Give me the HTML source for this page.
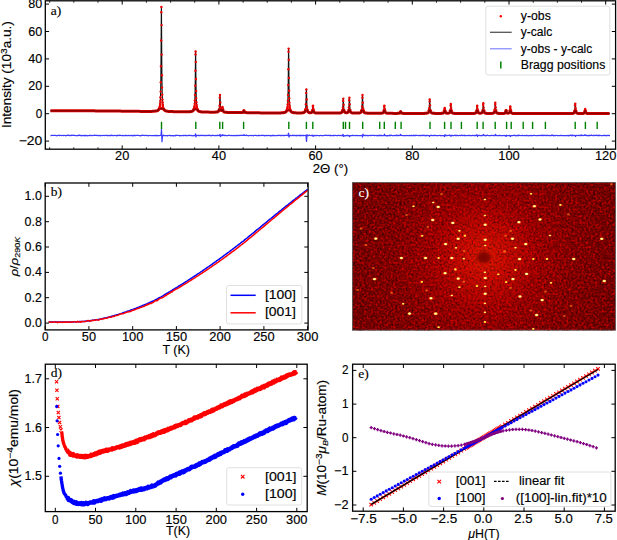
<!DOCTYPE html><html><head><meta charset="utf-8"><style>html,body{margin:0;padding:0;background:#fff;width:617px;height:540px;overflow:hidden}svg{display:block}</style></head><body><svg width="617" height="540" viewBox="0 0 617 540">
<rect width="617" height="540" fill="#fff"/>
<path d="M50.5 110.7 L51.5 110.7 L52.5 110.7 L53.5 110.7 L54.5 110.7 L55.5 110.7 L56.5 110.7 L57.5 110.7 L58.5 110.7 L59.5 110.7 L60.5 110.7 L61.5 110.7 L62.5 110.7 L63.5 110.7 L64.5 110.7 L65.5 110.7 L66.5 110.7 L67.5 110.7 L68.5 110.7 L69.5 110.7 L70.5 110.7 L71.5 110.8 L72.5 110.8 L73.5 110.8 L74.5 110.8 L75.5 110.8 L76.5 110.8 L77.5 110.8 L78.5 110.8 L79.5 110.8 L80.5 110.8 L81.5 110.8 L82.5 110.8 L83.5 110.8 L84.5 110.8 L85.5 110.8 L86.5 110.8 L87.5 110.8 L88.5 110.8 L89.5 110.8 L90.5 110.8 L91.5 110.8 L92.5 110.8 L93.5 110.8 L94.5 110.8 L95.5 110.9 L96.5 110.9 L97.5 110.9 L98.5 110.9 L99.5 110.9 L100.5 110.9 L101.5 110.9 L102.5 110.9 L103.5 111.0 L104.5 111.0 L105.5 111.0 L106.5 111.0 L107.5 111.0 L108.5 111.0 L109.5 111.0 L110.5 111.0 L111.5 111.0 L112.5 111.1 L113.5 111.1 L114.5 111.1 L115.5 111.1 L116.5 111.1 L117.5 111.1 L118.5 111.1 L119.5 111.1 L120.5 111.1 L121.5 111.2 L122.5 111.2 L123.5 111.2 L124.5 111.2 L125.5 111.2 L126.5 111.2 L127.5 111.2 L128.5 111.2 L129.5 111.2 L130.5 111.3 L131.5 111.3 L132.5 111.3 L133.5 111.3 L134.5 111.3 L135.5 111.3 L136.5 111.3 L137.5 111.3 L138.5 111.3 L139.5 111.3 L140.5 111.4 L141.5 111.4 L142.5 111.4 L143.5 111.4 L144.5 111.4 L145.5 111.4 L146.5 111.4 L147.5 111.4 L148.5 111.4 L149.5 111.4 L150.5 111.4 L151.5 111.4 L152.5 111.3 L153.5 111.3 L154.5 111.2 L155.4 111.1 L155.5 111.1 L155.6 111.1 L155.7 111.1 L155.8 111.1 L155.9 111.1 L156.0 111.1 L156.1 111.0 L156.2 111.0 L156.3 111.0 L156.4 111.0 L156.5 110.9 L156.6 110.9 L156.7 110.9 L156.8 110.9 L156.9 110.8 L157.0 110.8 L157.1 110.8 L157.2 110.7 L157.3 110.7 L157.4 110.6 L157.5 110.6 L157.6 110.6 L157.7 110.5 L157.8 110.4 L157.9 110.4 L158.0 110.3 L158.1 110.2 L158.2 110.1 L158.3 110.0 L158.4 109.9 L158.5 109.8 L158.6 109.7 L158.7 109.6 L158.8 109.4 L158.9 109.2 L159.0 109.0 L159.1 108.8 L159.2 108.6 L159.3 108.3 L159.4 108.0 L159.5 107.6 L159.6 107.1 L159.7 106.6 L159.8 106.0 L159.9 105.3 L160.0 104.4 L160.1 103.4 L160.2 102.1 L160.3 100.5 L160.4 98.4 L160.5 95.8 L160.6 92.4 L160.7 87.8 L160.8 81.7 L160.9 73.3 L161.0 62.0 L161.1 47.2 L161.2 29.7 L161.3 13.8 L161.4 7.0 L161.5 13.8 L161.6 29.7 L161.7 47.2 L161.8 62.0 L161.9 73.3 L162.0 81.7 L162.1 87.8 L162.2 92.4 L162.3 95.8 L162.4 98.4 L162.5 100.5 L162.6 102.1 L162.7 103.4 L162.8 104.5 L162.9 105.3 L163.0 106.1 L163.1 106.7 L163.2 107.2 L163.3 107.6 L163.4 108.0 L163.5 108.3 L163.6 108.6 L163.7 108.9 L163.8 109.1 L163.9 109.3 L164.0 109.5 L164.1 109.6 L164.2 109.8 L164.3 109.9 L164.4 110.0 L164.5 110.1 L164.6 110.2 L164.7 110.3 L164.8 110.4 L164.9 110.5 L165.0 110.5 L165.1 110.6 L165.2 110.6 L165.3 110.7 L165.4 110.7 L165.5 110.8 L165.6 110.8 L165.7 110.9 L165.8 110.9 L165.9 110.9 L166.0 111.0 L166.1 111.0 L166.2 111.0 L166.3 111.1 L166.4 111.1 L166.5 111.1 L166.6 111.1 L166.7 111.2 L166.8 111.2 L166.9 111.2 L167.0 111.2 L167.1 111.2 L167.2 111.2 L167.3 111.3 L167.5 111.3 L168.5 111.4 L169.5 111.5 L170.5 111.5 L171.5 111.6 L172.5 111.6 L173.5 111.7 L174.5 111.7 L175.5 111.7 L176.5 111.7 L177.5 111.7 L178.5 111.8 L179.5 111.8 L180.5 111.8 L181.5 111.8 L182.5 111.8 L183.5 111.8 L184.5 111.8 L185.5 111.8 L186.5 111.8 L187.5 111.8 L188.5 111.8 L189.5 111.7 L189.6 111.7 L189.7 111.7 L189.8 111.7 L189.9 111.7 L190.0 111.7 L190.1 111.7 L190.2 111.7 L190.3 111.7 L190.4 111.6 L190.5 111.6 L190.6 111.6 L190.7 111.6 L190.8 111.6 L190.9 111.6 L191.0 111.6 L191.1 111.6 L191.2 111.5 L191.3 111.5 L191.4 111.5 L191.5 111.5 L191.6 111.4 L191.7 111.4 L191.8 111.4 L191.9 111.4 L192.0 111.3 L192.1 111.3 L192.2 111.2 L192.3 111.2 L192.4 111.2 L192.5 111.1 L192.6 111.0 L192.7 111.0 L192.8 110.9 L192.9 110.8 L193.0 110.7 L193.1 110.6 L193.2 110.5 L193.3 110.4 L193.4 110.3 L193.5 110.1 L193.6 109.9 L193.7 109.7 L193.8 109.4 L193.9 109.1 L194.0 108.8 L194.1 108.4 L194.2 107.9 L194.3 107.2 L194.4 106.5 L194.5 105.6 L194.6 104.4 L194.7 102.9 L194.8 100.9 L194.9 98.2 L195.0 94.7 L195.1 89.8 L195.2 83.3 L195.3 74.7 L195.4 64.5 L195.5 55.3 L195.6 51.4 L195.7 55.3 L195.8 64.5 L195.9 74.7 L196.0 83.3 L196.1 89.8 L196.2 94.7 L196.3 98.2 L196.4 100.9 L196.5 102.9 L196.6 104.4 L196.7 105.6 L196.8 106.5 L196.9 107.3 L197.0 107.9 L197.1 108.4 L197.2 108.8 L197.3 109.2 L197.4 109.5 L197.5 109.7 L197.6 110.0 L197.7 110.1 L197.8 110.3 L197.9 110.5 L198.0 110.6 L198.1 110.7 L198.2 110.8 L198.3 110.9 L198.4 111.0 L198.5 111.1 L198.6 111.1 L198.7 111.2 L198.8 111.2 L198.9 111.3 L199.0 111.3 L199.1 111.4 L199.2 111.4 L199.3 111.5 L199.4 111.5 L199.5 111.5 L199.6 111.5 L199.7 111.6 L199.8 111.6 L199.9 111.6 L200.0 111.6 L200.1 111.7 L200.2 111.7 L200.3 111.7 L200.4 111.7 L200.5 111.7 L200.6 111.8 L200.7 111.8 L200.8 111.8 L200.9 111.8 L201.0 111.8 L201.1 111.8 L201.2 111.8 L201.3 111.8 L201.4 111.9 L201.5 111.9 L202.5 111.9 L203.5 112.0 L204.5 112.0 L205.5 112.1 L206.5 112.1 L207.5 112.1 L208.5 112.1 L209.5 112.2 L210.5 112.2 L211.5 112.2 L212.5 112.2 L213.5 112.2 L214.0 112.2 L214.1 112.2 L214.2 112.2 L214.3 112.2 L214.4 112.2 L214.5 112.2 L214.6 112.2 L214.7 112.2 L214.8 112.2 L214.9 112.2 L215.0 112.2 L215.1 112.2 L215.2 112.2 L215.3 112.2 L215.4 112.1 L215.5 112.1 L215.6 112.1 L215.7 112.1 L215.8 112.1 L215.9 112.1 L216.0 112.1 L216.1 112.1 L216.2 112.1 L216.3 112.1 L216.4 112.1 L216.5 112.1 L216.6 112.1 L216.7 112.0 L216.8 112.0 L216.9 112.0 L217.0 112.0 L217.1 112.0 L217.2 112.0 L217.3 111.9 L217.4 111.9 L217.5 111.9 L217.6 111.9 L217.7 111.8 L217.8 111.8 L217.9 111.7 L218.0 111.7 L218.1 111.6 L218.2 111.5 L218.3 111.5 L218.4 111.3 L218.5 111.2 L218.6 111.1 L218.7 110.9 L218.8 110.7 L218.9 110.4 L219.0 110.1 L219.1 109.6 L219.2 109.1 L219.3 108.3 L219.4 107.3 L219.5 105.9 L219.6 104.0 L219.7 101.5 L219.8 98.6 L219.9 96.0 L220.0 94.9 L220.1 96.0 L220.2 98.6 L220.3 101.5 L220.4 103.9 L220.5 105.8 L220.6 107.2 L220.7 108.2 L220.8 108.9 L220.9 109.4 L221.0 109.8 L221.1 110.1 L221.2 110.4 L221.3 110.5 L221.4 110.6 L221.5 110.6 L221.6 110.6 L221.7 110.5 L221.8 110.4 L221.9 110.2 L222.0 109.8 L222.1 109.3 L222.2 108.5 L222.3 107.7 L222.4 106.9 L222.5 106.6 L222.6 107.0 L222.7 107.8 L222.8 108.7 L222.9 109.5 L223.0 110.1 L223.1 110.6 L223.2 110.9 L223.3 111.2 L223.4 111.4 L223.5 111.5 L223.6 111.6 L223.7 111.7 L223.8 111.8 L223.9 111.9 L224.0 111.9 L224.1 112.0 L224.2 112.0 L224.3 112.0 L224.4 112.1 L224.5 112.1 L224.6 112.1 L224.7 112.1 L224.8 112.2 L224.9 112.2 L225.0 112.2 L225.1 112.2 L225.2 112.2 L225.3 112.2 L225.4 112.2 L225.5 112.3 L225.6 112.3 L225.7 112.3 L225.8 112.3 L225.9 112.3 L226.0 112.3 L226.1 112.3 L226.2 112.3 L226.3 112.3 L226.4 112.3 L226.5 112.3 L226.6 112.3 L226.7 112.3 L226.8 112.3 L226.9 112.3 L227.0 112.4 L227.1 112.4 L227.2 112.4 L227.3 112.4 L227.4 112.4 L227.5 112.4 L227.6 112.4 L227.7 112.4 L227.8 112.4 L227.9 112.4 L228.0 112.4 L228.1 112.4 L228.2 112.4 L228.3 112.4 L228.4 112.4 L228.5 112.4 L229.5 112.4 L230.5 112.4 L231.5 112.5 L232.5 112.5 L233.5 112.5 L234.5 112.5 L235.5 112.5 L236.5 112.5 L237.5 112.6 L237.9 112.6 L238.0 112.6 L238.1 112.6 L238.2 112.6 L238.3 112.6 L238.4 112.6 L238.5 112.6 L238.6 112.6 L238.7 112.6 L238.8 112.6 L238.9 112.6 L239.0 112.6 L239.1 112.6 L239.2 112.6 L239.3 112.6 L239.4 112.6 L239.5 112.6 L239.6 112.6 L239.7 112.6 L239.8 112.6 L239.9 112.6 L240.0 112.6 L240.1 112.6 L240.2 112.6 L240.3 112.6 L240.4 112.6 L240.5 112.6 L240.6 112.6 L240.7 112.6 L240.8 112.6 L240.9 112.6 L241.0 112.6 L241.1 112.6 L241.2 112.6 L241.3 112.6 L241.4 112.6 L241.5 112.6 L241.6 112.6 L241.7 112.6 L241.8 112.6 L241.9 112.5 L242.0 112.5 L242.1 112.5 L242.2 112.5 L242.3 112.5 L242.4 112.5 L242.5 112.5 L242.6 112.5 L242.7 112.4 L242.8 112.4 L242.9 112.4 L243.0 112.3 L243.1 112.2 L243.2 112.1 L243.3 112.0 L243.4 111.9 L243.5 111.6 L243.6 111.3 L243.7 110.9 L243.8 110.6 L243.9 110.5 L244.0 110.6 L244.1 111.0 L244.2 111.3 L244.3 111.6 L244.4 111.9 L244.5 112.0 L244.6 112.2 L244.7 112.3 L244.8 112.3 L244.9 112.4 L245.0 112.4 L245.1 112.5 L245.2 112.5 L245.3 112.5 L245.4 112.5 L245.5 112.6 L245.6 112.6 L245.7 112.6 L245.8 112.6 L245.9 112.6 L246.0 112.6 L246.1 112.6 L246.2 112.6 L246.3 112.6 L246.4 112.6 L246.5 112.6 L246.6 112.6 L246.7 112.6 L246.8 112.7 L246.9 112.7 L247.0 112.7 L247.1 112.7 L247.2 112.7 L247.3 112.7 L247.4 112.7 L247.5 112.7 L247.6 112.7 L247.7 112.7 L247.8 112.7 L247.9 112.7 L248.0 112.7 L248.1 112.7 L248.2 112.7 L248.3 112.7 L248.4 112.7 L248.5 112.7 L248.6 112.7 L248.7 112.7 L248.8 112.7 L248.9 112.7 L249.0 112.7 L249.1 112.7 L249.2 112.7 L249.3 112.7 L249.4 112.7 L249.5 112.7 L249.6 112.7 L249.7 112.7 L249.8 112.7 L250.5 112.7 L251.5 112.7 L252.5 112.8 L253.5 112.8 L254.5 112.8 L255.5 112.8 L256.5 112.8 L257.5 112.8 L258.5 112.8 L259.5 112.8 L260.5 112.9 L261.5 112.9 L262.5 112.9 L263.5 112.9 L264.5 112.9 L265.5 112.9 L266.5 112.9 L267.5 112.9 L268.5 112.9 L269.5 113.0 L270.5 113.0 L271.5 113.0 L272.5 113.0 L273.5 113.0 L274.5 113.0 L275.5 113.0 L276.5 112.9 L277.5 112.9 L278.5 112.9 L279.5 112.9 L280.5 112.9 L281.5 112.8 L282.5 112.8 L282.6 112.8 L282.7 112.8 L282.8 112.8 L282.9 112.7 L283.0 112.7 L283.1 112.7 L283.2 112.7 L283.3 112.7 L283.4 112.7 L283.5 112.7 L283.6 112.7 L283.7 112.6 L283.8 112.6 L283.9 112.6 L284.0 112.6 L284.1 112.6 L284.2 112.6 L284.3 112.5 L284.4 112.5 L284.5 112.5 L284.6 112.5 L284.7 112.4 L284.8 112.4 L284.9 112.4 L285.0 112.3 L285.1 112.3 L285.2 112.2 L285.3 112.2 L285.4 112.1 L285.5 112.1 L285.6 112.0 L285.7 111.9 L285.8 111.9 L285.9 111.8 L286.0 111.7 L286.1 111.6 L286.2 111.5 L286.3 111.3 L286.4 111.2 L286.5 111.0 L286.6 110.8 L286.7 110.6 L286.8 110.3 L286.9 110.0 L287.0 109.6 L287.1 109.1 L287.2 108.6 L287.3 108.0 L287.4 107.2 L287.5 106.2 L287.6 104.9 L287.7 103.3 L287.8 101.2 L287.9 98.4 L288.0 94.6 L288.1 89.4 L288.2 82.5 L288.3 73.3 L288.4 62.6 L288.5 52.8 L288.6 48.6 L288.7 52.8 L288.8 62.6 L288.9 73.3 L289.0 82.5 L289.1 89.4 L289.2 94.6 L289.3 98.4 L289.4 101.2 L289.5 103.3 L289.6 104.9 L289.7 106.2 L289.8 107.2 L289.9 108.0 L290.0 108.6 L290.1 109.2 L290.2 109.6 L290.3 110.0 L290.4 110.3 L290.5 110.6 L290.6 110.8 L290.7 111.0 L290.8 111.2 L290.9 111.3 L291.0 111.5 L291.1 111.6 L291.2 111.7 L291.3 111.8 L291.4 111.9 L291.5 112.0 L291.6 112.0 L291.7 112.1 L291.8 112.1 L291.9 112.2 L292.0 112.2 L292.1 112.3 L292.2 112.3 L292.3 112.4 L292.4 112.4 L292.5 112.4 L292.6 112.5 L292.7 112.5 L292.8 112.5 L292.9 112.5 L293.0 112.6 L293.1 112.6 L293.2 112.6 L293.3 112.6 L293.4 112.6 L293.5 112.7 L293.6 112.7 L293.7 112.7 L293.8 112.7 L293.9 112.7 L294.0 112.7 L294.1 112.7 L294.2 112.7 L294.3 112.8 L294.4 112.8 L294.5 112.8 L295.5 112.8 L296.5 112.9 L297.5 112.9 L298.5 112.9 L299.5 112.9 L300.4 112.9 L300.5 112.9 L300.6 112.9 L300.7 112.9 L300.8 112.9 L300.9 112.9 L301.0 112.9 L301.1 112.9 L301.2 112.9 L301.3 112.9 L301.4 112.9 L301.5 112.9 L301.6 112.9 L301.7 112.9 L301.8 112.9 L301.9 112.9 L302.0 112.9 L302.1 112.8 L302.2 112.8 L302.3 112.8 L302.4 112.8 L302.5 112.8 L302.6 112.8 L302.7 112.8 L302.8 112.8 L302.9 112.8 L303.0 112.7 L303.1 112.7 L303.2 112.7 L303.3 112.7 L303.4 112.7 L303.5 112.6 L303.6 112.6 L303.7 112.6 L303.8 112.5 L303.9 112.5 L304.0 112.5 L304.1 112.4 L304.2 112.4 L304.3 112.3 L304.4 112.2 L304.5 112.1 L304.6 112.0 L304.7 111.9 L304.8 111.8 L304.9 111.6 L305.0 111.4 L305.1 111.2 L305.2 110.9 L305.3 110.5 L305.4 110.1 L305.5 109.5 L305.6 108.7 L305.7 107.7 L305.8 106.3 L305.9 104.4 L306.0 101.8 L306.1 98.4 L306.2 94.5 L306.3 90.9 L306.4 89.3 L306.5 90.9 L306.6 94.5 L306.7 98.4 L306.8 101.8 L306.9 104.4 L307.0 106.3 L307.1 107.7 L307.2 108.7 L307.3 109.5 L307.4 110.1 L307.5 110.5 L307.6 110.9 L307.7 111.2 L307.8 111.4 L307.9 111.6 L308.0 111.8 L308.1 111.9 L308.2 112.0 L308.3 112.1 L308.4 112.2 L308.5 112.3 L308.6 112.3 L308.7 112.4 L308.8 112.4 L308.9 112.5 L309.0 112.5 L309.1 112.6 L309.2 112.6 L309.3 112.6 L309.4 112.6 L309.5 112.7 L309.6 112.7 L309.7 112.7 L309.8 112.7 L309.9 112.7 L310.0 112.7 L310.1 112.7 L310.2 112.7 L310.3 112.7 L310.4 112.7 L310.5 112.7 L310.6 112.7 L310.7 112.7 L310.8 112.7 L310.9 112.7 L311.0 112.7 L311.1 112.7 L311.2 112.6 L311.3 112.6 L311.4 112.6 L311.5 112.5 L311.6 112.5 L311.7 112.4 L311.8 112.3 L311.9 112.2 L312.0 112.0 L312.1 111.9 L312.2 111.6 L312.3 111.3 L312.4 110.9 L312.5 110.3 L312.6 109.4 L312.7 108.4 L312.8 107.1 L312.9 106.0 L313.0 105.5 L313.1 106.0 L313.2 107.1 L313.3 108.4 L313.4 109.5 L313.5 110.3 L313.6 110.9 L313.7 111.3 L313.8 111.7 L313.9 111.9 L314.0 112.1 L314.1 112.3 L314.2 112.4 L314.3 112.5 L314.4 112.5 L314.5 112.6 L314.6 112.7 L314.7 112.7 L314.8 112.7 L314.9 112.8 L315.0 112.8 L315.1 112.8 L315.2 112.9 L315.3 112.9 L315.4 112.9 L315.5 112.9 L315.6 112.9 L315.7 112.9 L315.8 112.9 L315.9 113.0 L316.0 113.0 L316.1 113.0 L316.2 113.0 L316.3 113.0 L316.4 113.0 L316.5 113.0 L316.6 113.0 L316.7 113.0 L316.8 113.0 L316.9 113.0 L317.0 113.0 L317.1 113.0 L317.2 113.0 L317.3 113.0 L317.4 113.0 L317.5 113.0 L317.6 113.0 L317.7 113.1 L317.8 113.1 L317.9 113.1 L318.0 113.1 L318.1 113.1 L318.2 113.1 L318.3 113.1 L318.4 113.1 L318.5 113.1 L318.6 113.1 L318.7 113.1 L318.8 113.1 L318.9 113.1 L319.5 113.1 L320.5 113.1 L321.5 113.1 L322.5 113.1 L323.5 113.1 L324.5 113.1 L325.5 113.1 L326.5 113.1 L327.5 113.1 L328.5 113.1 L329.5 113.1 L330.5 113.1 L331.5 113.1 L332.5 113.1 L333.5 113.1 L334.5 113.1 L335.5 113.1 L336.5 113.1 L337.3 113.1 L337.4 113.1 L337.5 113.1 L337.6 113.1 L337.7 113.1 L337.8 113.1 L337.9 113.1 L338.0 113.1 L338.1 113.1 L338.2 113.1 L338.3 113.1 L338.4 113.1 L338.5 113.1 L338.6 113.1 L338.7 113.1 L338.8 113.1 L338.9 113.1 L339.0 113.1 L339.1 113.1 L339.2 113.1 L339.3 113.0 L339.4 113.0 L339.5 113.0 L339.6 113.0 L339.7 113.0 L339.8 113.0 L339.9 113.0 L340.0 113.0 L340.1 113.0 L340.2 113.0 L340.3 112.9 L340.4 112.9 L340.5 112.9 L340.6 112.9 L340.7 112.9 L340.8 112.8 L340.9 112.8 L341.0 112.8 L341.1 112.7 L341.2 112.7 L341.3 112.7 L341.4 112.6 L341.5 112.5 L341.6 112.5 L341.7 112.4 L341.8 112.3 L341.9 112.2 L342.0 112.0 L342.1 111.8 L342.2 111.6 L342.3 111.3 L342.4 110.9 L342.5 110.5 L342.6 109.8 L342.7 109.0 L342.8 107.8 L342.9 106.2 L343.0 104.1 L343.1 101.7 L343.2 99.5 L343.3 98.5 L343.4 99.5 L343.5 101.7 L343.6 104.1 L343.7 106.2 L343.8 107.8 L343.9 109.0 L344.0 109.8 L344.1 110.4 L344.2 110.9 L344.3 111.3 L344.4 111.6 L344.5 111.8 L344.6 112.0 L344.7 112.1 L344.8 112.2 L344.9 112.3 L345.0 112.4 L345.1 112.5 L345.2 112.5 L345.3 112.6 L345.4 112.6 L345.5 112.6 L345.6 112.7 L345.7 112.7 L345.8 112.7 L345.9 112.7 L346.0 112.7 L346.1 112.7 L346.2 112.8 L346.3 112.8 L346.4 112.8 L346.5 112.8 L346.6 112.7 L346.7 112.7 L346.8 112.7 L346.9 112.7 L347.0 112.7 L347.1 112.7 L347.2 112.6 L347.3 112.6 L347.4 112.6 L347.5 112.5 L347.6 112.4 L347.7 112.4 L347.8 112.3 L347.9 112.2 L348.0 112.1 L348.1 111.9 L348.2 111.7 L348.3 111.5 L348.4 111.2 L348.5 110.8 L348.6 110.3 L348.7 109.6 L348.8 108.7 L348.9 107.5 L349.0 105.8 L349.1 103.6 L349.2 101.1 L349.3 98.7 L349.4 97.7 L349.5 98.7 L349.6 101.1 L349.7 103.7 L349.8 105.8 L349.9 107.5 L350.0 108.8 L350.1 109.7 L350.2 110.3 L350.3 110.8 L350.4 111.2 L350.5 111.5 L350.6 111.8 L350.7 112.0 L350.8 112.1 L350.9 112.3 L351.0 112.4 L351.1 112.5 L351.2 112.5 L351.3 112.6 L351.4 112.7 L351.5 112.7 L351.6 112.7 L351.7 112.8 L351.8 112.8 L351.9 112.8 L352.0 112.9 L352.1 112.9 L352.2 112.9 L352.3 112.9 L352.4 113.0 L352.5 113.0 L352.6 113.0 L352.7 113.0 L352.8 113.0 L352.9 113.0 L353.0 113.0 L353.1 113.0 L353.2 113.0 L353.3 113.1 L353.4 113.1 L353.5 113.1 L353.6 113.1 L353.7 113.1 L353.8 113.1 L353.9 113.1 L354.0 113.1 L354.1 113.1 L354.2 113.1 L354.3 113.1 L354.4 113.1 L354.5 113.1 L354.6 113.1 L354.7 113.1 L354.8 113.1 L354.9 113.1 L355.0 113.1 L355.1 113.1 L355.2 113.1 L355.3 113.1 L355.5 113.1 L356.5 113.1 L356.6 113.1 L356.7 113.1 L356.8 113.1 L356.9 113.1 L357.0 113.1 L357.1 113.1 L357.2 113.1 L357.3 113.1 L357.4 113.1 L357.5 113.1 L357.6 113.1 L357.7 113.1 L357.8 113.1 L357.9 113.1 L358.0 113.1 L358.1 113.1 L358.2 113.1 L358.3 113.1 L358.4 113.1 L358.5 113.1 L358.6 113.1 L358.7 113.0 L358.8 113.0 L358.9 113.0 L359.0 113.0 L359.1 113.0 L359.2 113.0 L359.3 113.0 L359.4 113.0 L359.5 112.9 L359.6 112.9 L359.7 112.9 L359.8 112.9 L359.9 112.9 L360.0 112.8 L360.1 112.8 L360.2 112.8 L360.3 112.7 L360.4 112.7 L360.5 112.6 L360.6 112.5 L360.7 112.5 L360.8 112.4 L360.9 112.3 L361.0 112.1 L361.1 112.0 L361.2 111.8 L361.3 111.6 L361.4 111.3 L361.5 110.9 L361.6 110.5 L361.7 109.9 L361.8 109.1 L361.9 108.0 L362.0 106.6 L362.1 104.6 L362.2 102.0 L362.3 98.9 L362.4 96.2 L362.5 95.0 L362.6 96.2 L362.7 98.9 L362.8 102.0 L362.9 104.6 L363.0 106.6 L363.1 108.0 L363.2 109.1 L363.3 109.9 L363.4 110.5 L363.5 111.0 L363.6 111.3 L363.7 111.6 L363.8 111.8 L363.9 112.0 L364.0 112.2 L364.1 112.3 L364.2 112.4 L364.3 112.5 L364.4 112.6 L364.5 112.6 L364.6 112.7 L364.7 112.7 L364.8 112.8 L364.9 112.8 L365.0 112.9 L365.1 112.9 L365.2 112.9 L365.3 112.9 L365.4 113.0 L365.5 113.0 L365.6 113.0 L365.7 113.0 L365.8 113.0 L365.9 113.0 L366.0 113.1 L366.1 113.1 L366.2 113.1 L366.3 113.1 L366.4 113.1 L366.5 113.1 L366.6 113.1 L366.7 113.1 L366.8 113.1 L366.9 113.1 L367.0 113.1 L367.1 113.2 L367.2 113.2 L367.3 113.2 L367.4 113.2 L367.5 113.2 L367.6 113.2 L367.7 113.2 L367.8 113.2 L367.9 113.2 L368.0 113.2 L368.1 113.2 L368.2 113.2 L368.3 113.2 L368.4 113.2 L368.5 113.2 L369.5 113.2 L370.5 113.2 L371.5 113.3 L372.5 113.3 L373.5 113.3 L374.5 113.3 L375.5 113.3 L376.5 113.3 L377.5 113.3 L378.4 113.3 L378.5 113.3 L378.6 113.3 L378.7 113.3 L378.8 113.3 L378.9 113.3 L379.0 113.3 L379.1 113.3 L379.2 113.3 L379.3 113.3 L379.4 113.3 L379.5 113.3 L379.6 113.3 L379.7 113.3 L379.8 113.3 L379.9 113.3 L380.0 113.3 L380.1 113.3 L380.2 113.3 L380.3 113.3 L380.4 113.3 L380.5 113.2 L380.6 113.2 L380.7 113.2 L380.8 113.2 L380.9 113.2 L381.0 113.2 L381.1 113.2 L381.2 113.2 L381.3 113.2 L381.4 113.2 L381.5 113.2 L381.6 113.2 L381.7 113.2 L381.8 113.2 L381.9 113.2 L382.0 113.1 L382.1 113.1 L382.2 113.1 L382.3 113.1 L382.4 113.1 L382.5 113.0 L382.6 113.0 L382.7 113.0 L382.8 112.9 L382.9 112.9 L383.0 112.8 L383.1 112.7 L383.2 112.6 L383.3 112.5 L383.4 112.4 L383.5 112.2 L383.6 111.9 L383.7 111.6 L383.8 111.1 L383.9 110.5 L384.0 109.7 L384.1 108.6 L384.2 107.3 L384.3 106.1 L384.4 105.6 L384.5 106.1 L384.6 107.3 L384.7 108.6 L384.8 109.7 L384.9 110.5 L385.0 111.1 L385.1 111.6 L385.2 111.9 L385.3 112.2 L385.4 112.4 L385.5 112.5 L385.6 112.6 L385.7 112.7 L385.8 112.8 L385.9 112.9 L386.0 112.9 L386.1 113.0 L386.2 113.0 L386.3 113.0 L386.4 113.1 L386.5 113.1 L386.6 113.1 L386.7 113.1 L386.8 113.2 L386.9 113.2 L387.0 113.2 L387.1 113.2 L387.2 113.2 L387.3 113.2 L387.4 113.2 L387.5 113.2 L387.6 113.2 L387.7 113.2 L387.8 113.3 L387.9 113.3 L388.0 113.3 L388.1 113.3 L388.2 113.3 L388.3 113.3 L388.4 113.3 L388.5 113.3 L388.6 113.3 L388.7 113.3 L388.8 113.3 L388.9 113.3 L389.0 113.3 L389.1 113.3 L389.2 113.3 L389.3 113.3 L389.4 113.3 L389.5 113.3 L389.6 113.3 L389.7 113.3 L389.8 113.3 L389.9 113.3 L390.0 113.3 L390.1 113.3 L390.2 113.3 L390.3 113.3 L390.5 113.3 L391.5 113.3 L392.5 113.3 L393.5 113.4 L394.5 113.4 L394.6 113.4 L394.7 113.4 L394.8 113.4 L394.9 113.4 L395.0 113.4 L395.1 113.4 L395.2 113.4 L395.3 113.4 L395.4 113.4 L395.5 113.4 L395.6 113.4 L395.7 113.4 L395.8 113.4 L395.9 113.4 L396.0 113.4 L396.1 113.4 L396.2 113.4 L396.3 113.4 L396.4 113.4 L396.5 113.4 L396.6 113.4 L396.7 113.4 L396.8 113.4 L396.9 113.4 L397.0 113.4 L397.1 113.4 L397.2 113.4 L397.3 113.4 L397.4 113.3 L397.5 113.3 L397.6 113.3 L397.7 113.3 L397.8 113.3 L397.9 113.3 L398.0 113.3 L398.1 113.3 L398.2 113.3 L398.3 113.3 L398.4 113.3 L398.5 113.3 L398.6 113.3 L398.7 113.3 L398.8 113.3 L398.9 113.3 L399.0 113.3 L399.1 113.3 L399.2 113.3 L399.3 113.2 L399.4 113.2 L399.5 113.2 L399.6 113.1 L399.7 113.1 L399.8 113.0 L399.9 113.0 L400.0 112.8 L400.1 112.7 L400.2 112.5 L400.3 112.2 L400.4 111.9 L400.5 111.6 L400.6 111.5 L400.7 111.6 L400.8 111.9 L400.9 112.2 L401.0 112.5 L401.1 112.7 L401.2 112.8 L401.3 113.0 L401.4 113.0 L401.5 113.1 L401.6 113.1 L401.7 113.2 L401.8 113.2 L401.9 113.2 L402.0 113.3 L402.1 113.3 L402.2 113.3 L402.3 113.3 L402.4 113.3 L402.5 113.3 L402.6 113.3 L402.7 113.3 L402.8 113.3 L402.9 113.3 L403.0 113.3 L403.1 113.3 L403.2 113.4 L403.3 113.4 L403.4 113.4 L403.5 113.4 L403.6 113.4 L403.7 113.4 L403.8 113.4 L403.9 113.4 L404.0 113.4 L404.1 113.4 L404.2 113.4 L404.3 113.4 L404.4 113.4 L404.5 113.4 L404.6 113.4 L404.7 113.4 L404.8 113.4 L404.9 113.4 L405.0 113.4 L405.1 113.4 L405.2 113.4 L405.3 113.4 L405.4 113.4 L405.5 113.4 L405.6 113.4 L405.7 113.4 L405.8 113.4 L405.9 113.4 L406.0 113.4 L406.1 113.4 L406.2 113.4 L406.3 113.4 L406.4 113.4 L406.5 113.4 L407.5 113.4 L408.5 113.4 L409.5 113.4 L410.5 113.4 L411.5 113.4 L412.5 113.4 L413.5 113.4 L414.5 113.4 L415.5 113.4 L416.5 113.4 L417.5 113.4 L418.5 113.4 L419.5 113.4 L420.5 113.4 L421.5 113.4 L422.5 113.4 L423.5 113.4 L423.7 113.4 L423.8 113.4 L423.9 113.4 L424.0 113.4 L424.1 113.4 L424.2 113.4 L424.3 113.4 L424.4 113.4 L424.5 113.4 L424.6 113.3 L424.7 113.3 L424.8 113.3 L424.9 113.3 L425.0 113.3 L425.1 113.3 L425.2 113.3 L425.3 113.3 L425.4 113.3 L425.5 113.3 L425.6 113.3 L425.7 113.3 L425.8 113.3 L425.9 113.3 L426.0 113.3 L426.1 113.3 L426.2 113.3 L426.3 113.3 L426.4 113.2 L426.5 113.2 L426.6 113.2 L426.7 113.2 L426.8 113.2 L426.9 113.2 L427.0 113.2 L427.1 113.1 L427.2 113.1 L427.3 113.1 L427.4 113.1 L427.5 113.0 L427.6 113.0 L427.7 112.9 L427.8 112.9 L427.9 112.8 L428.0 112.8 L428.1 112.7 L428.2 112.6 L428.3 112.5 L428.4 112.3 L428.5 112.2 L428.6 111.9 L428.7 111.7 L428.8 111.3 L428.9 110.8 L429.0 110.2 L429.1 109.4 L429.2 108.3 L429.3 106.8 L429.4 104.8 L429.5 102.4 L429.6 100.3 L429.7 99.4 L429.8 100.3 L429.9 102.4 L430.0 104.8 L430.1 106.8 L430.2 108.3 L430.3 109.4 L430.4 110.2 L430.5 110.8 L430.6 111.3 L430.7 111.7 L430.8 111.9 L430.9 112.2 L431.0 112.3 L431.1 112.5 L431.2 112.6 L431.3 112.7 L431.4 112.8 L431.5 112.8 L431.6 112.9 L431.7 112.9 L431.8 113.0 L431.9 113.0 L432.0 113.1 L432.1 113.1 L432.2 113.1 L432.3 113.1 L432.4 113.2 L432.5 113.2 L432.6 113.2 L432.7 113.2 L432.8 113.2 L432.9 113.2 L433.0 113.2 L433.1 113.3 L433.2 113.3 L433.3 113.3 L433.4 113.3 L433.5 113.3 L433.6 113.3 L433.7 113.3 L433.8 113.3 L433.9 113.3 L434.0 113.3 L434.1 113.3 L434.2 113.3 L434.3 113.3 L434.4 113.3 L434.5 113.3 L434.6 113.3 L434.7 113.4 L434.8 113.4 L434.9 113.4 L435.0 113.4 L435.1 113.4 L435.2 113.4 L435.3 113.4 L435.4 113.4 L435.5 113.4 L435.6 113.4 L436.5 113.4 L437.5 113.4 L438.5 113.4 L438.7 113.4 L438.8 113.4 L438.9 113.4 L439.0 113.4 L439.1 113.4 L439.2 113.4 L439.3 113.4 L439.4 113.4 L439.5 113.4 L439.6 113.4 L439.7 113.4 L439.8 113.4 L439.9 113.4 L440.0 113.4 L440.1 113.4 L440.2 113.4 L440.3 113.4 L440.4 113.4 L440.5 113.4 L440.6 113.4 L440.7 113.4 L440.8 113.4 L440.9 113.4 L441.0 113.4 L441.1 113.4 L441.2 113.4 L441.3 113.4 L441.4 113.4 L441.5 113.3 L441.6 113.3 L441.7 113.3 L441.8 113.3 L441.9 113.3 L442.0 113.3 L442.1 113.3 L442.2 113.3 L442.3 113.3 L442.4 113.3 L442.5 113.3 L442.6 113.2 L442.7 113.2 L442.8 113.2 L442.9 113.2 L443.0 113.2 L443.1 113.1 L443.2 113.1 L443.3 113.0 L443.4 113.0 L443.5 112.9 L443.6 112.8 L443.7 112.7 L443.8 112.6 L443.9 112.4 L444.0 112.2 L444.1 111.9 L444.2 111.4 L444.3 110.8 L444.4 110.0 L444.5 109.1 L444.6 108.3 L444.7 107.9 L444.8 108.3 L444.9 109.1 L445.0 110.0 L445.1 110.8 L445.2 111.4 L445.3 111.8 L445.4 112.2 L445.5 112.4 L445.6 112.6 L445.7 112.7 L445.8 112.8 L445.9 112.9 L446.0 113.0 L446.1 113.0 L446.2 113.1 L446.3 113.1 L446.4 113.1 L446.5 113.1 L446.6 113.2 L446.7 113.2 L446.8 113.2 L446.9 113.2 L447.0 113.2 L447.1 113.2 L447.2 113.2 L447.3 113.2 L447.4 113.2 L447.5 113.2 L447.6 113.2 L447.7 113.2 L447.8 113.2 L447.9 113.2 L448.0 113.2 L448.1 113.2 L448.2 113.2 L448.3 113.2 L448.4 113.2 L448.5 113.2 L448.6 113.1 L448.7 113.1 L448.8 113.1 L448.9 113.0 L449.0 113.0 L449.1 113.0 L449.2 112.9 L449.3 112.9 L449.4 112.8 L449.5 112.7 L449.6 112.6 L449.7 112.4 L449.8 112.2 L449.9 112.0 L450.0 111.7 L450.1 111.3 L450.2 110.7 L450.3 110.0 L450.4 108.9 L450.5 107.6 L450.6 106.0 L450.7 104.6 L450.8 104.0 L450.9 104.6 L451.0 106.0 L451.1 107.6 L451.2 109.0 L451.3 110.0 L451.4 110.7 L451.5 111.3 L451.6 111.7 L451.7 112.0 L451.8 112.3 L451.9 112.4 L452.0 112.6 L452.1 112.7 L452.2 112.8 L452.3 112.9 L452.4 112.9 L452.5 113.0 L452.6 113.0 L452.7 113.1 L452.8 113.1 L452.9 113.2 L453.0 113.2 L453.1 113.2 L453.2 113.2 L453.3 113.2 L453.4 113.3 L453.5 113.3 L453.6 113.3 L453.7 113.3 L453.8 113.3 L453.9 113.3 L454.0 113.3 L454.1 113.3 L454.2 113.3 L454.3 113.3 L454.4 113.4 L454.5 113.4 L454.6 113.4 L454.7 113.4 L454.8 113.4 L454.9 113.4 L455.0 113.4 L455.1 113.4 L455.2 113.4 L455.3 113.4 L455.4 113.4 L455.5 113.4 L455.6 113.4 L455.7 113.4 L455.8 113.4 L455.9 113.4 L456.0 113.4 L456.1 113.4 L456.2 113.4 L456.3 113.4 L456.4 113.4 L456.5 113.4 L456.6 113.4 L456.7 113.4 L457.5 113.4 L458.5 113.4 L459.5 113.5 L460.5 113.5 L461.5 113.5 L462.5 113.5 L463.5 113.5 L464.5 113.5 L465.5 113.5 L466.5 113.5 L467.5 113.5 L468.5 113.5 L469.5 113.5 L470.5 113.5 L471.2 113.4 L471.3 113.4 L471.4 113.4 L471.5 113.4 L471.6 113.4 L471.7 113.4 L471.8 113.4 L471.9 113.4 L472.0 113.4 L472.1 113.4 L472.2 113.4 L472.3 113.4 L472.4 113.4 L472.5 113.4 L472.6 113.4 L472.7 113.4 L472.8 113.4 L472.9 113.4 L473.0 113.4 L473.1 113.4 L473.2 113.4 L473.3 113.4 L473.4 113.4 L473.5 113.4 L473.6 113.4 L473.7 113.4 L473.8 113.4 L473.9 113.4 L474.0 113.4 L474.1 113.4 L474.2 113.4 L474.3 113.3 L474.4 113.3 L474.5 113.3 L474.6 113.3 L474.7 113.3 L474.8 113.3 L474.9 113.3 L475.0 113.2 L475.1 113.2 L475.2 113.2 L475.3 113.2 L475.4 113.1 L475.5 113.1 L475.6 113.0 L475.7 113.0 L475.8 112.9 L475.9 112.8 L476.0 112.7 L476.1 112.6 L476.2 112.5 L476.3 112.3 L476.4 112.0 L476.5 111.7 L476.6 111.2 L476.7 110.6 L476.8 109.7 L476.9 108.6 L477.0 107.3 L477.1 106.1 L477.2 105.5 L477.3 106.1 L477.4 107.3 L477.5 108.6 L477.6 109.7 L477.7 110.6 L477.8 111.2 L477.9 111.6 L478.0 112.0 L478.1 112.2 L478.2 112.4 L478.3 112.6 L478.4 112.7 L478.5 112.8 L478.6 112.9 L478.7 113.0 L478.8 113.0 L478.9 113.0 L479.0 113.1 L479.1 113.1 L479.2 113.1 L479.3 113.2 L479.4 113.2 L479.5 113.2 L479.6 113.2 L479.7 113.2 L479.8 113.2 L479.9 113.2 L480.0 113.2 L480.1 113.2 L480.2 113.2 L480.3 113.2 L480.4 113.2 L480.5 113.2 L480.6 113.2 L480.7 113.2 L480.8 113.2 L480.9 113.2 L481.0 113.2 L481.1 113.1 L481.2 113.1 L481.3 113.1 L481.4 113.0 L481.5 113.0 L481.6 113.0 L481.7 112.9 L481.8 112.8 L481.9 112.7 L482.0 112.6 L482.1 112.5 L482.2 112.4 L482.3 112.2 L482.4 111.9 L482.5 111.6 L482.6 111.1 L482.7 110.5 L482.8 109.7 L482.9 108.6 L483.0 107.2 L483.1 105.5 L483.2 103.9 L483.3 103.3 L483.4 103.9 L483.5 105.5 L483.6 107.2 L483.7 108.6 L483.8 109.7 L483.9 110.6 L484.0 111.2 L484.1 111.6 L484.2 111.9 L484.3 112.2 L484.4 112.4 L484.5 112.5 L484.6 112.7 L484.7 112.8 L484.8 112.9 L484.9 112.9 L485.0 113.0 L485.1 113.0 L485.2 113.1 L485.3 113.1 L485.4 113.2 L485.5 113.2 L485.6 113.2 L485.7 113.2 L485.8 113.3 L485.9 113.3 L486.0 113.3 L486.1 113.3 L486.2 113.3 L486.3 113.3 L486.4 113.3 L486.5 113.3 L486.6 113.3 L486.7 113.4 L486.8 113.4 L486.9 113.4 L487.0 113.4 L487.1 113.4 L487.2 113.4 L487.3 113.4 L487.4 113.4 L487.5 113.4 L487.6 113.4 L487.7 113.4 L487.8 113.4 L487.9 113.4 L488.0 113.4 L488.1 113.4 L488.2 113.4 L488.3 113.4 L488.4 113.4 L488.5 113.4 L488.6 113.4 L488.7 113.4 L488.8 113.4 L488.9 113.4 L489.0 113.4 L489.1 113.4 L489.2 113.4 L489.3 113.4 L489.4 113.4 L489.5 113.4 L489.6 113.4 L489.7 113.4 L489.8 113.4 L489.9 113.4 L490.0 113.4 L490.1 113.4 L490.2 113.4 L490.3 113.4 L490.4 113.4 L490.5 113.4 L490.6 113.4 L490.7 113.4 L490.8 113.4 L490.9 113.4 L491.0 113.4 L491.1 113.4 L491.2 113.4 L491.3 113.4 L491.4 113.4 L491.5 113.4 L491.6 113.4 L491.7 113.4 L491.8 113.4 L491.9 113.4 L492.0 113.4 L492.1 113.3 L492.2 113.3 L492.3 113.3 L492.4 113.3 L492.5 113.3 L492.6 113.3 L492.7 113.3 L492.8 113.3 L492.9 113.2 L493.0 113.2 L493.1 113.2 L493.2 113.2 L493.3 113.1 L493.4 113.1 L493.5 113.0 L493.6 113.0 L493.7 112.9 L493.8 112.9 L493.9 112.8 L494.0 112.7 L494.1 112.5 L494.2 112.4 L494.3 112.2 L494.4 111.9 L494.5 111.5 L494.6 111.1 L494.7 110.4 L494.8 109.6 L494.9 108.4 L495.0 106.9 L495.1 105.1 L495.2 103.5 L495.3 102.8 L495.4 103.5 L495.5 105.1 L495.6 106.9 L495.7 108.4 L495.8 109.6 L495.9 110.4 L496.0 111.1 L496.1 111.5 L496.2 111.9 L496.3 112.2 L496.4 112.4 L496.5 112.5 L496.6 112.7 L496.7 112.8 L496.8 112.9 L496.9 112.9 L497.0 113.0 L497.1 113.1 L497.2 113.1 L497.3 113.1 L497.4 113.2 L497.5 113.2 L497.6 113.2 L497.7 113.3 L497.8 113.3 L497.9 113.3 L498.0 113.3 L498.1 113.3 L498.2 113.3 L498.3 113.3 L498.4 113.4 L498.5 113.4 L498.6 113.4 L498.7 113.4 L498.8 113.4 L498.9 113.4 L499.0 113.4 L499.1 113.4 L499.2 113.4 L499.3 113.4 L499.4 113.4 L499.5 113.4 L499.6 113.4 L499.7 113.4 L499.8 113.4 L499.9 113.4 L500.0 113.4 L500.1 113.4 L500.2 113.4 L500.3 113.4 L500.4 113.4 L500.5 113.4 L500.6 113.4 L500.7 113.5 L500.8 113.5 L500.9 113.5 L501.0 113.5 L501.1 113.5 L501.2 113.5 L501.3 113.5 L501.4 113.5 L501.5 113.5 L501.6 113.5 L501.7 113.5 L501.8 113.5 L501.9 113.5 L502.0 113.5 L502.1 113.5 L502.2 113.5 L502.3 113.5 L502.4 113.5 L502.5 113.4 L502.6 113.4 L502.7 113.4 L502.8 113.4 L502.9 113.4 L503.0 113.4 L503.1 113.4 L503.2 113.4 L503.3 113.4 L503.4 113.4 L503.5 113.4 L503.6 113.4 L503.7 113.4 L503.8 113.4 L503.9 113.4 L504.0 113.4 L504.1 113.4 L504.2 113.3 L504.3 113.3 L504.4 113.3 L504.5 113.3 L504.6 113.3 L504.7 113.2 L504.8 113.2 L504.9 113.1 L505.0 113.1 L505.1 113.0 L505.2 112.9 L505.3 112.8 L505.4 112.6 L505.5 112.4 L505.6 112.1 L505.7 111.7 L505.8 111.1 L505.9 110.5 L506.0 109.9 L506.1 109.6 L506.2 109.9 L506.3 110.5 L506.4 111.1 L506.5 111.6 L506.6 112.0 L506.7 112.4 L506.8 112.6 L506.9 112.7 L507.0 112.9 L507.1 113.0 L507.2 113.0 L507.3 113.1 L507.4 113.1 L507.5 113.1 L507.6 113.2 L507.7 113.2 L507.8 113.2 L507.9 113.2 L508.0 113.2 L508.1 113.2 L508.2 113.2 L508.3 113.2 L508.4 113.2 L508.5 113.1 L508.6 113.1 L508.7 113.1 L508.8 113.0 L508.9 113.0 L509.0 112.9 L509.1 112.8 L509.2 112.7 L509.3 112.6 L509.4 112.4 L509.5 112.2 L509.6 111.9 L509.7 111.5 L509.8 110.9 L509.9 110.1 L510.0 109.1 L510.1 107.9 L510.2 106.8 L510.3 106.4 L510.4 106.8 L510.5 107.9 L510.6 109.1 L510.7 110.1 L510.8 110.9 L510.9 111.5 L511.0 111.9 L511.1 112.2 L511.2 112.4 L511.3 112.6 L511.4 112.8 L511.5 112.9 L511.6 113.0 L511.7 113.0 L511.8 113.1 L511.9 113.2 L512.0 113.2 L512.1 113.2 L512.2 113.3 L512.3 113.3 L512.4 113.3 L512.5 113.3 L512.6 113.3 L512.7 113.4 L512.8 113.4 L512.9 113.4 L513.0 113.4 L513.1 113.4 L513.2 113.4 L513.3 113.4 L513.4 113.4 L513.5 113.4 L513.6 113.4 L513.7 113.5 L513.8 113.5 L513.9 113.5 L514.0 113.5 L514.1 113.5 L514.2 113.5 L514.3 113.5 L514.4 113.5 L514.5 113.5 L514.6 113.5 L514.7 113.5 L514.8 113.5 L514.9 113.5 L515.0 113.5 L515.1 113.5 L515.2 113.5 L515.3 113.5 L515.4 113.5 L515.5 113.5 L515.6 113.5 L515.7 113.5 L515.8 113.5 L515.9 113.5 L516.0 113.5 L516.1 113.5 L516.2 113.5 L516.5 113.5 L517.5 113.5 L518.5 113.5 L519.5 113.5 L520.5 113.6 L521.5 113.6 L522.5 113.6 L523.5 113.6 L524.5 113.6 L525.5 113.6 L526.5 113.6 L527.5 113.6 L528.5 113.6 L529.5 113.6 L530.5 113.6 L531.5 113.6 L532.5 113.6 L533.5 113.6 L534.5 113.6 L535.5 113.6 L536.5 113.6 L537.5 113.6 L538.5 113.6 L539.5 113.6 L540.5 113.6 L541.5 113.6 L542.5 113.6 L543.5 113.6 L544.5 113.6 L545.5 113.6 L546.5 113.6 L547.5 113.6 L548.5 113.6 L549.5 113.6 L550.5 113.6 L551.5 113.6 L552.5 113.6 L553.5 113.6 L554.5 113.6 L555.5 113.6 L556.5 113.6 L557.5 113.6 L558.5 113.6 L559.5 113.6 L560.5 113.6 L561.5 113.6 L562.5 113.6 L563.5 113.6 L564.5 113.6 L565.5 113.6 L566.5 113.6 L567.5 113.6 L568.5 113.6 L569.3 113.6 L569.4 113.6 L569.5 113.6 L569.6 113.6 L569.7 113.6 L569.8 113.5 L569.9 113.5 L570.0 113.5 L570.1 113.5 L570.2 113.5 L570.3 113.5 L570.4 113.5 L570.5 113.5 L570.6 113.5 L570.7 113.5 L570.8 113.5 L570.9 113.5 L571.0 113.5 L571.1 113.5 L571.2 113.5 L571.3 113.5 L571.4 113.5 L571.5 113.5 L571.6 113.5 L571.7 113.5 L571.8 113.5 L571.9 113.5 L572.0 113.5 L572.1 113.5 L572.2 113.4 L572.3 113.4 L572.4 113.4 L572.5 113.4 L572.6 113.4 L572.7 113.4 L572.8 113.4 L572.9 113.4 L573.0 113.3 L573.1 113.3 L573.2 113.3 L573.3 113.2 L573.4 113.2 L573.5 113.2 L573.6 113.1 L573.7 113.1 L573.8 113.0 L573.9 112.9 L574.0 112.8 L574.1 112.7 L574.2 112.5 L574.3 112.3 L574.4 112.1 L574.5 111.8 L574.6 111.3 L574.7 110.8 L574.8 110.0 L574.9 108.9 L575.0 107.5 L575.1 105.8 L575.2 104.3 L575.3 103.7 L575.4 104.3 L575.5 105.8 L575.6 107.5 L575.7 108.9 L575.8 110.0 L575.9 110.8 L576.0 111.3 L576.1 111.8 L576.2 112.1 L576.3 112.3 L576.4 112.5 L576.5 112.7 L576.6 112.8 L576.7 112.9 L576.8 113.0 L576.9 113.1 L577.0 113.1 L577.1 113.2 L577.2 113.2 L577.3 113.2 L577.4 113.3 L577.5 113.3 L577.6 113.3 L577.7 113.3 L577.8 113.4 L577.9 113.4 L578.0 113.4 L578.1 113.4 L578.2 113.4 L578.3 113.4 L578.4 113.4 L578.5 113.4 L578.6 113.5 L578.7 113.5 L578.8 113.5 L578.9 113.5 L579.0 113.5 L579.1 113.5 L579.2 113.5 L579.3 113.5 L579.4 113.5 L579.5 113.5 L579.6 113.5 L579.7 113.5 L579.8 113.5 L579.9 113.5 L580.0 113.5 L580.1 113.5 L580.2 113.5 L580.3 113.5 L580.4 113.5 L580.5 113.5 L580.6 113.5 L580.7 113.5 L580.8 113.5 L580.9 113.5 L581.0 113.5 L581.1 113.5 L581.2 113.5 L581.3 113.5 L581.4 113.5 L581.5 113.5 L581.6 113.5 L581.7 113.5 L581.8 113.5 L581.9 113.5 L582.0 113.5 L582.1 113.5 L582.2 113.5 L582.3 113.5 L582.4 113.5 L582.5 113.5 L582.6 113.5 L582.7 113.5 L582.8 113.5 L582.9 113.5 L583.0 113.4 L583.1 113.4 L583.2 113.4 L583.3 113.4 L583.4 113.4 L583.5 113.4 L583.6 113.3 L583.7 113.3 L583.8 113.3 L583.9 113.2 L584.0 113.2 L584.1 113.1 L584.2 113.0 L584.3 112.9 L584.4 112.7 L584.5 112.5 L584.6 112.3 L584.7 111.9 L584.8 111.4 L584.9 110.7 L585.0 110.0 L585.1 109.3 L585.2 109.0 L585.3 109.3 L585.4 110.0 L585.5 110.8 L585.6 111.4 L585.7 111.9 L585.8 112.3 L585.9 112.5 L586.0 112.7 L586.1 112.9 L586.2 113.0 L586.3 113.1 L586.4 113.2 L586.5 113.2 L586.6 113.3 L586.7 113.3 L586.8 113.3 L586.9 113.4 L587.0 113.4 L587.1 113.4 L587.2 113.4 L587.3 113.4 L587.4 113.5 L587.5 113.5 L587.6 113.5 L587.7 113.5 L587.8 113.5 L587.9 113.5 L588.0 113.5 L588.1 113.5 L588.2 113.5 L588.3 113.5 L588.4 113.5 L588.5 113.5 L588.6 113.5 L588.7 113.5 L588.8 113.5 L588.9 113.5 L589.0 113.5 L589.1 113.5 L589.2 113.6 L589.3 113.6 L589.4 113.6 L589.5 113.6 L589.6 113.6 L589.7 113.6 L589.8 113.6 L589.9 113.6 L590.0 113.6 L590.1 113.6 L590.2 113.6 L590.3 113.6 L590.4 113.6 L590.5 113.6 L590.6 113.6 L590.7 113.6 L590.8 113.6 L590.9 113.6 L591.0 113.6 L591.1 113.6 L591.5 113.6 L592.5 113.6 L593.5 113.6 L594.5 113.6 L595.5 113.6 L596.5 113.6 L597.5 113.6 L598.5 113.6 L599.5 113.6 L600.5 113.6 L601.5 113.6 L602.5 113.6 L603.5 113.6 L604.5 113.6 L605.5 113.6 L606.5 113.6 L607.5 113.6 L608.5 113.6 L609.5 113.6" fill="none" stroke="#111" stroke-width="1.1" stroke-linejoin="round"/>
<path d="M50.5 110.7 L51.5 110.7 L52.5 110.7 L53.5 110.7 L54.5 110.7 L55.5 110.7 L56.5 110.7 L57.5 110.7 L58.5 110.7 L59.5 110.7 L60.5 110.7 L61.5 110.7 L62.5 110.7 L63.5 110.7 L64.5 110.7 L65.5 110.7 L66.5 110.7 L67.5 110.7 L68.5 110.7 L69.5 110.7 L70.5 110.7 L71.5 110.8 L72.5 110.8 L73.5 110.8 L74.5 110.8 L75.5 110.8 L76.5 110.8 L77.5 110.8 L78.5 110.8 L79.5 110.8 L80.5 110.8 L81.5 110.8 L82.5 110.8 L83.5 110.8 L84.5 110.8 L85.5 110.8 L86.5 110.8 L87.5 110.8 L88.5 110.8 L89.5 110.8 L90.5 110.8 L91.5 110.8 L92.5 110.8 L93.5 110.8 L94.5 110.8 L95.5 110.9 L96.5 110.9 L97.5 110.9 L98.5 110.9 L99.5 110.9 L100.5 110.9 L101.5 110.9 L102.5 110.9 L103.5 111.0 L104.5 111.0 L105.5 111.0 L106.5 111.0 L107.5 111.0 L108.5 111.0 L109.5 111.0 L110.5 111.0 L111.5 111.0 L112.5 111.1 L113.5 111.1 L114.5 111.1 L115.5 111.1 L116.5 111.1 L117.5 111.1 L118.5 111.1 L119.5 111.1 L120.5 111.1 L121.5 111.2 L122.5 111.2 L123.5 111.2 L124.5 111.2 L125.5 111.2 L126.5 111.2 L127.5 111.2 L128.5 111.2 L129.5 111.2 L130.5 111.3 L131.5 111.3 L132.5 111.3 L133.5 111.3 L134.5 111.3 L135.5 111.3 L136.5 111.3 L137.5 111.3 L138.5 111.3 L139.5 111.3 L140.5 111.4 L141.5 111.4 L142.5 111.4 L143.5 111.4 L144.5 111.4 L145.5 111.4 L146.5 111.4 L147.5 111.4 L148.5 111.4 L149.5 111.4 L150.5 111.4 L151.5 111.4 L152.5 111.3 L153.5 111.3 L154.5 111.2 L155.4 111.1 L155.5 111.1 L155.6 111.1 L155.7 111.1 L155.8 111.1 L155.9 111.1 L156.0 111.1 L156.1 111.0 L156.2 111.0 L156.3 111.0 L156.4 111.0 L156.5 110.9 L156.6 110.9 L156.7 110.9 L156.8 110.9 L156.9 110.8 L157.0 110.8 L157.1 110.8 L157.2 110.7 L157.3 110.7 L157.4 110.6 L157.5 110.6 L157.6 110.6 L157.7 110.5 L157.8 110.4 L157.9 110.4 L158.0 110.3 L158.1 110.2 L158.2 110.1 L158.3 110.0 L158.4 109.9 L158.5 109.8 L158.6 109.7 L158.7 109.6 L158.8 109.4 L158.9 109.2 L159.0 109.0 L159.1 108.8 L159.2 108.6 L159.3 108.6 L159.4 108.6 L159.5 108.6 L159.6 108.6 L159.7 108.6 L159.8 108.6 L159.9 108.6 L160.0 108.6 L160.1 108.6 L160.2 108.6 L160.3 108.6 L160.4 108.6 L160.5 108.6 L160.6 108.6 L160.7 108.6 L160.8 108.6 L160.9 108.6 L161.0 108.6 L161.1 108.6 L161.2 108.6 L161.3 108.6 L161.4 108.6 L161.5 108.6 L161.6 108.6 L161.7 108.6 L161.8 108.6 L161.9 108.6 L162.0 108.6 L162.1 108.6 L162.2 108.6 L162.3 108.7 L162.4 108.7 L162.5 108.7 L162.6 108.7 L162.7 108.7 L162.8 108.7 L162.9 108.7 L163.0 108.7 L163.1 108.7 L163.2 108.7 L163.3 108.7 L163.4 108.7 L163.5 108.7 L163.6 108.7 L163.7 108.9 L163.8 109.1 L163.9 109.3 L164.0 109.5 L164.1 109.6 L164.2 109.8 L164.3 109.9 L164.4 110.0 L164.5 110.1 L164.6 110.2 L164.7 110.3 L164.8 110.4 L164.9 110.5 L165.0 110.5 L165.1 110.6 L165.2 110.6 L165.3 110.7 L165.4 110.7 L165.5 110.8 L165.6 110.8 L165.7 110.9 L165.8 110.9 L165.9 110.9 L166.0 111.0 L166.1 111.0 L166.2 111.0 L166.3 111.1 L166.4 111.1 L166.5 111.1 L166.6 111.1 L166.7 111.2 L166.8 111.2 L166.9 111.2 L167.0 111.2 L167.1 111.2 L167.2 111.2 L167.3 111.3 L167.5 111.3 L168.5 111.4 L169.5 111.5 L170.5 111.5 L171.5 111.6 L172.5 111.6 L173.5 111.7 L174.5 111.7 L175.5 111.7 L176.5 111.7 L177.5 111.7 L178.5 111.8 L179.5 111.8 L180.5 111.8 L181.5 111.8 L182.5 111.8 L183.5 111.8 L184.5 111.8 L185.5 111.8 L186.5 111.8 L187.5 111.8 L188.5 111.8 L189.5 111.7 L189.6 111.7 L189.7 111.7 L189.8 111.7 L189.9 111.7 L190.0 111.7 L190.1 111.7 L190.2 111.7 L190.3 111.7 L190.4 111.6 L190.5 111.6 L190.6 111.6 L190.7 111.6 L190.8 111.6 L190.9 111.6 L191.0 111.6 L191.1 111.6 L191.2 111.5 L191.3 111.5 L191.4 111.5 L191.5 111.5 L191.6 111.4 L191.7 111.4 L191.8 111.4 L191.9 111.4 L192.0 111.3 L192.1 111.3 L192.2 111.2 L192.3 111.2 L192.4 111.2 L192.5 111.1 L192.6 111.0 L192.7 111.0 L192.8 110.9 L192.9 110.8 L193.0 110.7 L193.1 110.6 L193.2 110.5 L193.3 110.4 L193.4 110.3 L193.5 110.1 L193.6 109.9 L193.7 109.7 L193.8 109.4 L193.9 109.1 L194.0 109.0 L194.1 109.0 L194.2 109.0 L194.3 109.0 L194.4 109.0 L194.5 109.0 L194.6 109.0 L194.7 109.0 L194.8 109.1 L194.9 109.1 L195.0 109.1 L195.1 109.1 L195.2 109.1 L195.3 109.1 L195.4 109.1 L195.5 109.1 L195.6 109.1 L195.7 109.1 L195.8 109.1 L195.9 109.1 L196.0 109.1 L196.1 109.1 L196.2 109.1 L196.3 109.1 L196.4 109.1 L196.5 109.1 L196.6 109.1 L196.7 109.1 L196.8 109.1 L196.9 109.1 L197.0 109.1 L197.1 109.1 L197.2 109.1 L197.3 109.2 L197.4 109.5 L197.5 109.7 L197.6 110.0 L197.7 110.1 L197.8 110.3 L197.9 110.5 L198.0 110.6 L198.1 110.7 L198.2 110.8 L198.3 110.9 L198.4 111.0 L198.5 111.1 L198.6 111.1 L198.7 111.2 L198.8 111.2 L198.9 111.3 L199.0 111.3 L199.1 111.4 L199.2 111.4 L199.3 111.5 L199.4 111.5 L199.5 111.5 L199.6 111.5 L199.7 111.6 L199.8 111.6 L199.9 111.6 L200.0 111.6 L200.1 111.7 L200.2 111.7 L200.3 111.7 L200.4 111.7 L200.5 111.7 L200.6 111.8 L200.7 111.8 L200.8 111.8 L200.9 111.8 L201.0 111.8 L201.1 111.8 L201.2 111.8 L201.3 111.8 L201.4 111.9 L201.5 111.9 L202.5 111.9 L203.5 112.0 L204.5 112.0 L205.5 112.1 L206.5 112.1 L207.5 112.1 L208.5 112.1 L209.5 112.2 L210.5 112.2 L211.5 112.2 L212.5 112.2 L213.5 112.2 L214.0 112.2 L214.1 112.2 L214.2 112.2 L214.3 112.2 L214.4 112.2 L214.5 112.2 L214.6 112.2 L214.7 112.2 L214.8 112.2 L214.9 112.2 L215.0 112.2 L215.1 112.2 L215.2 112.2 L215.3 112.2 L215.4 112.1 L215.5 112.1 L215.6 112.1 L215.7 112.1 L215.8 112.1 L215.9 112.1 L216.0 112.1 L216.1 112.1 L216.2 112.1 L216.3 112.1 L216.4 112.1 L216.5 112.1 L216.6 112.1 L216.7 112.0 L216.8 112.0 L216.9 112.0 L217.0 112.0 L217.1 112.0 L217.2 112.0 L217.3 111.9 L217.4 111.9 L217.5 111.9 L217.6 111.9 L217.7 111.8 L217.8 111.8 L217.9 111.7 L218.0 111.7 L218.1 111.6 L218.2 111.5 L218.3 111.5 L218.4 111.3 L218.5 111.2 L218.6 111.1 L218.7 110.9 L218.8 110.7 L218.9 110.4 L219.0 110.1 L219.1 109.6 L219.2 109.4 L219.3 109.4 L219.4 109.4 L219.5 109.4 L219.6 109.4 L219.7 109.4 L219.8 109.4 L219.9 109.4 L220.0 109.4 L220.1 109.4 L220.2 109.4 L220.3 109.4 L220.4 109.4 L220.5 109.4 L220.6 109.4 L220.7 109.4 L220.8 109.4 L220.9 109.4 L221.0 109.8 L221.1 110.1 L221.2 110.4 L221.3 110.5 L221.4 110.6 L221.5 110.6 L221.6 110.6 L221.7 110.5 L221.8 110.4 L221.9 110.2 L222.0 109.8 L222.1 109.4 L222.2 109.4 L222.3 109.4 L222.4 109.4 L222.5 109.4 L222.6 109.4 L222.7 109.4 L222.8 109.4 L222.9 109.5 L223.0 110.1 L223.1 110.6 L223.2 110.9 L223.3 111.2 L223.4 111.4 L223.5 111.5 L223.6 111.6 L223.7 111.7 L223.8 111.8 L223.9 111.9 L224.0 111.9 L224.1 112.0 L224.2 112.0 L224.3 112.0 L224.4 112.1 L224.5 112.1 L224.6 112.1 L224.7 112.1 L224.8 112.2 L224.9 112.2 L225.0 112.2 L225.1 112.2 L225.2 112.2 L225.3 112.2 L225.4 112.2 L225.5 112.3 L225.6 112.3 L225.7 112.3 L225.8 112.3 L225.9 112.3 L226.0 112.3 L226.1 112.3 L226.2 112.3 L226.3 112.3 L226.4 112.3 L226.5 112.3 L226.6 112.3 L226.7 112.3 L226.8 112.3 L226.9 112.3 L227.0 112.4 L227.1 112.4 L227.2 112.4 L227.3 112.4 L227.4 112.4 L227.5 112.4 L227.6 112.4 L227.7 112.4 L227.8 112.4 L227.9 112.4 L228.0 112.4 L228.1 112.4 L228.2 112.4 L228.3 112.4 L228.4 112.4 L228.5 112.4 L229.5 112.4 L230.5 112.4 L231.5 112.5 L232.5 112.5 L233.5 112.5 L234.5 112.5 L235.5 112.5 L236.5 112.5 L237.5 112.6 L237.9 112.6 L238.0 112.6 L238.1 112.6 L238.2 112.6 L238.3 112.6 L238.4 112.6 L238.5 112.6 L238.6 112.6 L238.7 112.6 L238.8 112.6 L238.9 112.6 L239.0 112.6 L239.1 112.6 L239.2 112.6 L239.3 112.6 L239.4 112.6 L239.5 112.6 L239.6 112.6 L239.7 112.6 L239.8 112.6 L239.9 112.6 L240.0 112.6 L240.1 112.6 L240.2 112.6 L240.3 112.6 L240.4 112.6 L240.5 112.6 L240.6 112.6 L240.7 112.6 L240.8 112.6 L240.9 112.6 L241.0 112.6 L241.1 112.6 L241.2 112.6 L241.3 112.6 L241.4 112.6 L241.5 112.6 L241.6 112.6 L241.7 112.6 L241.8 112.6 L241.9 112.5 L242.0 112.5 L242.1 112.5 L242.2 112.5 L242.3 112.5 L242.4 112.5 L242.5 112.5 L242.6 112.5 L242.7 112.4 L242.8 112.4 L242.9 112.4 L243.0 112.3 L243.1 112.2 L243.2 112.1 L243.3 112.0 L243.4 111.9 L243.5 111.6 L243.6 111.3 L243.7 110.9 L243.8 110.6 L243.9 110.5 L244.0 110.6 L244.1 111.0 L244.2 111.3 L244.3 111.6 L244.4 111.9 L244.5 112.0 L244.6 112.2 L244.7 112.3 L244.8 112.3 L244.9 112.4 L245.0 112.4 L245.1 112.5 L245.2 112.5 L245.3 112.5 L245.4 112.5 L245.5 112.6 L245.6 112.6 L245.7 112.6 L245.8 112.6 L245.9 112.6 L246.0 112.6 L246.1 112.6 L246.2 112.6 L246.3 112.6 L246.4 112.6 L246.5 112.6 L246.6 112.6 L246.7 112.6 L246.8 112.7 L246.9 112.7 L247.0 112.7 L247.1 112.7 L247.2 112.7 L247.3 112.7 L247.4 112.7 L247.5 112.7 L247.6 112.7 L247.7 112.7 L247.8 112.7 L247.9 112.7 L248.0 112.7 L248.1 112.7 L248.2 112.7 L248.3 112.7 L248.4 112.7 L248.5 112.7 L248.6 112.7 L248.7 112.7 L248.8 112.7 L248.9 112.7 L249.0 112.7 L249.1 112.7 L249.2 112.7 L249.3 112.7 L249.4 112.7 L249.5 112.7 L249.6 112.7 L249.7 112.7 L249.8 112.7 L250.5 112.7 L251.5 112.7 L252.5 112.8 L253.5 112.8 L254.5 112.8 L255.5 112.8 L256.5 112.8 L257.5 112.8 L258.5 112.8 L259.5 112.8 L260.5 112.9 L261.5 112.9 L262.5 112.9 L263.5 112.9 L264.5 112.9 L265.5 112.9 L266.5 112.9 L267.5 112.9 L268.5 112.9 L269.5 113.0 L270.5 113.0 L271.5 113.0 L272.5 113.0 L273.5 113.0 L274.5 113.0 L275.5 113.0 L276.5 112.9 L277.5 112.9 L278.5 112.9 L279.5 112.9 L280.5 112.9 L281.5 112.8 L282.5 112.8 L282.6 112.8 L282.7 112.8 L282.8 112.8 L282.9 112.7 L283.0 112.7 L283.1 112.7 L283.2 112.7 L283.3 112.7 L283.4 112.7 L283.5 112.7 L283.6 112.7 L283.7 112.6 L283.8 112.6 L283.9 112.6 L284.0 112.6 L284.1 112.6 L284.2 112.6 L284.3 112.5 L284.4 112.5 L284.5 112.5 L284.6 112.5 L284.7 112.4 L284.8 112.4 L284.9 112.4 L285.0 112.3 L285.1 112.3 L285.2 112.2 L285.3 112.2 L285.4 112.1 L285.5 112.1 L285.6 112.0 L285.7 111.9 L285.8 111.9 L285.9 111.8 L286.0 111.7 L286.1 111.6 L286.2 111.5 L286.3 111.3 L286.4 111.2 L286.5 111.0 L286.6 110.8 L286.7 110.6 L286.8 110.3 L286.9 110.1 L287.0 110.1 L287.1 110.1 L287.2 110.1 L287.3 110.1 L287.4 110.1 L287.5 110.1 L287.6 110.1 L287.7 110.1 L287.8 110.1 L287.9 110.1 L288.0 110.1 L288.1 110.1 L288.2 110.1 L288.3 110.1 L288.4 110.1 L288.5 110.1 L288.6 110.1 L288.7 110.1 L288.8 110.1 L288.9 110.1 L289.0 110.1 L289.1 110.1 L289.2 110.1 L289.3 110.1 L289.4 110.1 L289.5 110.1 L289.6 110.1 L289.7 110.1 L289.8 110.1 L289.9 110.1 L290.0 110.1 L290.1 110.1 L290.2 110.1 L290.3 110.1 L290.4 110.3 L290.5 110.6 L290.6 110.8 L290.7 111.0 L290.8 111.2 L290.9 111.3 L291.0 111.5 L291.1 111.6 L291.2 111.7 L291.3 111.8 L291.4 111.9 L291.5 112.0 L291.6 112.0 L291.7 112.1 L291.8 112.1 L291.9 112.2 L292.0 112.2 L292.1 112.3 L292.2 112.3 L292.3 112.4 L292.4 112.4 L292.5 112.4 L292.6 112.5 L292.7 112.5 L292.8 112.5 L292.9 112.5 L293.0 112.6 L293.1 112.6 L293.2 112.6 L293.3 112.6 L293.4 112.6 L293.5 112.7 L293.6 112.7 L293.7 112.7 L293.8 112.7 L293.9 112.7 L294.0 112.7 L294.1 112.7 L294.2 112.7 L294.3 112.8 L294.4 112.8 L294.5 112.8 L295.5 112.8 L296.5 112.9 L297.5 112.9 L298.5 112.9 L299.5 112.9 L300.4 112.9 L300.5 112.9 L300.6 112.9 L300.7 112.9 L300.8 112.9 L300.9 112.9 L301.0 112.9 L301.1 112.9 L301.2 112.9 L301.3 112.9 L301.4 112.9 L301.5 112.9 L301.6 112.9 L301.7 112.9 L301.8 112.9 L301.9 112.9 L302.0 112.9 L302.1 112.8 L302.2 112.8 L302.3 112.8 L302.4 112.8 L302.5 112.8 L302.6 112.8 L302.7 112.8 L302.8 112.8 L302.9 112.8 L303.0 112.7 L303.1 112.7 L303.2 112.7 L303.3 112.7 L303.4 112.7 L303.5 112.6 L303.6 112.6 L303.7 112.6 L303.8 112.5 L303.9 112.5 L304.0 112.5 L304.1 112.4 L304.2 112.4 L304.3 112.3 L304.4 112.2 L304.5 112.1 L304.6 112.0 L304.7 111.9 L304.8 111.8 L304.9 111.6 L305.0 111.4 L305.1 111.2 L305.2 110.9 L305.3 110.5 L305.4 110.1 L305.5 110.1 L305.6 110.1 L305.7 110.1 L305.8 110.1 L305.9 110.1 L306.0 110.1 L306.1 110.1 L306.2 110.1 L306.3 110.1 L306.4 110.1 L306.5 110.1 L306.6 110.1 L306.7 110.1 L306.8 110.1 L306.9 110.1 L307.0 110.1 L307.1 110.1 L307.2 110.1 L307.3 110.1 L307.4 110.1 L307.5 110.5 L307.6 110.9 L307.7 111.2 L307.8 111.4 L307.9 111.6 L308.0 111.8 L308.1 111.9 L308.2 112.0 L308.3 112.1 L308.4 112.2 L308.5 112.3 L308.6 112.3 L308.7 112.4 L308.8 112.4 L308.9 112.5 L309.0 112.5 L309.1 112.6 L309.2 112.6 L309.3 112.6 L309.4 112.6 L309.5 112.7 L309.6 112.7 L309.7 112.7 L309.8 112.7 L309.9 112.7 L310.0 112.7 L310.1 112.7 L310.2 112.7 L310.3 112.7 L310.4 112.7 L310.5 112.7 L310.6 112.7 L310.7 112.7 L310.8 112.7 L310.9 112.7 L311.0 112.7 L311.1 112.7 L311.2 112.6 L311.3 112.6 L311.4 112.6 L311.5 112.5 L311.6 112.5 L311.7 112.4 L311.8 112.3 L311.9 112.2 L312.0 112.0 L312.1 111.9 L312.2 111.6 L312.3 111.3 L312.4 110.9 L312.5 110.3 L312.6 110.1 L312.7 110.1 L312.8 110.1 L312.9 110.1 L313.0 110.1 L313.1 110.1 L313.2 110.1 L313.3 110.1 L313.4 110.1 L313.5 110.3 L313.6 110.9 L313.7 111.3 L313.8 111.7 L313.9 111.9 L314.0 112.1 L314.1 112.3 L314.2 112.4 L314.3 112.5 L314.4 112.5 L314.5 112.6 L314.6 112.7 L314.7 112.7 L314.8 112.7 L314.9 112.8 L315.0 112.8 L315.1 112.8 L315.2 112.9 L315.3 112.9 L315.4 112.9 L315.5 112.9 L315.6 112.9 L315.7 112.9 L315.8 112.9 L315.9 113.0 L316.0 113.0 L316.1 113.0 L316.2 113.0 L316.3 113.0 L316.4 113.0 L316.5 113.0 L316.6 113.0 L316.7 113.0 L316.8 113.0 L316.9 113.0 L317.0 113.0 L317.1 113.0 L317.2 113.0 L317.3 113.0 L317.4 113.0 L317.5 113.0 L317.6 113.0 L317.7 113.1 L317.8 113.1 L317.9 113.1 L318.0 113.1 L318.1 113.1 L318.2 113.1 L318.3 113.1 L318.4 113.1 L318.5 113.1 L318.6 113.1 L318.7 113.1 L318.8 113.1 L318.9 113.1 L319.5 113.1 L320.5 113.1 L321.5 113.1 L322.5 113.1 L323.5 113.1 L324.5 113.1 L325.5 113.1 L326.5 113.1 L327.5 113.1 L328.5 113.1 L329.5 113.1 L330.5 113.1 L331.5 113.1 L332.5 113.1 L333.5 113.1 L334.5 113.1 L335.5 113.1 L336.5 113.1 L337.3 113.1 L337.4 113.1 L337.5 113.1 L337.6 113.1 L337.7 113.1 L337.8 113.1 L337.9 113.1 L338.0 113.1 L338.1 113.1 L338.2 113.1 L338.3 113.1 L338.4 113.1 L338.5 113.1 L338.6 113.1 L338.7 113.1 L338.8 113.1 L338.9 113.1 L339.0 113.1 L339.1 113.1 L339.2 113.1 L339.3 113.0 L339.4 113.0 L339.5 113.0 L339.6 113.0 L339.7 113.0 L339.8 113.0 L339.9 113.0 L340.0 113.0 L340.1 113.0 L340.2 113.0 L340.3 112.9 L340.4 112.9 L340.5 112.9 L340.6 112.9 L340.7 112.9 L340.8 112.8 L340.9 112.8 L341.0 112.8 L341.1 112.7 L341.2 112.7 L341.3 112.7 L341.4 112.6 L341.5 112.5 L341.6 112.5 L341.7 112.4 L341.8 112.3 L341.9 112.2 L342.0 112.0 L342.1 111.8 L342.2 111.6 L342.3 111.3 L342.4 110.9 L342.5 110.5 L342.6 110.2 L342.7 110.2 L342.8 110.2 L342.9 110.2 L343.0 110.2 L343.1 110.2 L343.2 110.2 L343.3 110.2 L343.4 110.2 L343.5 110.2 L343.6 110.2 L343.7 110.2 L343.8 110.2 L343.9 110.2 L344.0 110.2 L344.1 110.4 L344.2 110.9 L344.3 111.3 L344.4 111.6 L344.5 111.8 L344.6 112.0 L344.7 112.1 L344.8 112.2 L344.9 112.3 L345.0 112.4 L345.1 112.5 L345.2 112.5 L345.3 112.6 L345.4 112.6 L345.5 112.6 L345.6 112.7 L345.7 112.7 L345.8 112.7 L345.9 112.7 L346.0 112.7 L346.1 112.7 L346.2 112.8 L346.3 112.8 L346.4 112.8 L346.5 112.8 L346.6 112.7 L346.7 112.7 L346.8 112.7 L346.9 112.7 L347.0 112.7 L347.1 112.7 L347.2 112.6 L347.3 112.6 L347.4 112.6 L347.5 112.5 L347.6 112.4 L347.7 112.4 L347.8 112.3 L347.9 112.2 L348.0 112.1 L348.1 111.9 L348.2 111.7 L348.3 111.5 L348.4 111.2 L348.5 110.8 L348.6 110.3 L348.7 110.2 L348.8 110.2 L348.9 110.2 L349.0 110.2 L349.1 110.2 L349.2 110.2 L349.3 110.2 L349.4 110.2 L349.5 110.2 L349.6 110.2 L349.7 110.2 L349.8 110.2 L349.9 110.2 L350.0 110.2 L350.1 110.2 L350.2 110.3 L350.3 110.8 L350.4 111.2 L350.5 111.5 L350.6 111.8 L350.7 112.0 L350.8 112.1 L350.9 112.3 L351.0 112.4 L351.1 112.5 L351.2 112.5 L351.3 112.6 L351.4 112.7 L351.5 112.7 L351.6 112.7 L351.7 112.8 L351.8 112.8 L351.9 112.8 L352.0 112.9 L352.1 112.9 L352.2 112.9 L352.3 112.9 L352.4 113.0 L352.5 113.0 L352.6 113.0 L352.7 113.0 L352.8 113.0 L352.9 113.0 L353.0 113.0 L353.1 113.0 L353.2 113.0 L353.3 113.1 L353.4 113.1 L353.5 113.1 L353.6 113.1 L353.7 113.1 L353.8 113.1 L353.9 113.1 L354.0 113.1 L354.1 113.1 L354.2 113.1 L354.3 113.1 L354.4 113.1 L354.5 113.1 L354.6 113.1 L354.7 113.1 L354.8 113.1 L354.9 113.1 L355.0 113.1 L355.1 113.1 L355.2 113.1 L355.3 113.1 L355.5 113.1 L356.5 113.1 L356.6 113.1 L356.7 113.1 L356.8 113.1 L356.9 113.1 L357.0 113.1 L357.1 113.1 L357.2 113.1 L357.3 113.1 L357.4 113.1 L357.5 113.1 L357.6 113.1 L357.7 113.1 L357.8 113.1 L357.9 113.1 L358.0 113.1 L358.1 113.1 L358.2 113.1 L358.3 113.1 L358.4 113.1 L358.5 113.1 L358.6 113.1 L358.7 113.0 L358.8 113.0 L358.9 113.0 L359.0 113.0 L359.1 113.0 L359.2 113.0 L359.3 113.0 L359.4 113.0 L359.5 112.9 L359.6 112.9 L359.7 112.9 L359.8 112.9 L359.9 112.9 L360.0 112.8 L360.1 112.8 L360.2 112.8 L360.3 112.7 L360.4 112.7 L360.5 112.6 L360.6 112.5 L360.7 112.5 L360.8 112.4 L360.9 112.3 L361.0 112.1 L361.1 112.0 L361.2 111.8 L361.3 111.6 L361.4 111.3 L361.5 110.9 L361.6 110.5 L361.7 110.3 L361.8 110.3 L361.9 110.3 L362.0 110.3 L362.1 110.3 L362.2 110.3 L362.3 110.3 L362.4 110.3 L362.5 110.3 L362.6 110.3 L362.7 110.3 L362.8 110.3 L362.9 110.3 L363.0 110.3 L363.1 110.3 L363.2 110.3 L363.3 110.3 L363.4 110.5 L363.5 111.0 L363.6 111.3 L363.7 111.6 L363.8 111.8 L363.9 112.0 L364.0 112.2 L364.1 112.3 L364.2 112.4 L364.3 112.5 L364.4 112.6 L364.5 112.6 L364.6 112.7 L364.7 112.7 L364.8 112.8 L364.9 112.8 L365.0 112.9 L365.1 112.9 L365.2 112.9 L365.3 112.9 L365.4 113.0 L365.5 113.0 L365.6 113.0 L365.7 113.0 L365.8 113.0 L365.9 113.0 L366.0 113.1 L366.1 113.1 L366.2 113.1 L366.3 113.1 L366.4 113.1 L366.5 113.1 L366.6 113.1 L366.7 113.1 L366.8 113.1 L366.9 113.1 L367.0 113.1 L367.1 113.2 L367.2 113.2 L367.3 113.2 L367.4 113.2 L367.5 113.2 L367.6 113.2 L367.7 113.2 L367.8 113.2 L367.9 113.2 L368.0 113.2 L368.1 113.2 L368.2 113.2 L368.3 113.2 L368.4 113.2 L368.5 113.2 L369.5 113.2 L370.5 113.2 L371.5 113.3 L372.5 113.3 L373.5 113.3 L374.5 113.3 L375.5 113.3 L376.5 113.3 L377.5 113.3 L378.4 113.3 L378.5 113.3 L378.6 113.3 L378.7 113.3 L378.8 113.3 L378.9 113.3 L379.0 113.3 L379.1 113.3 L379.2 113.3 L379.3 113.3 L379.4 113.3 L379.5 113.3 L379.6 113.3 L379.7 113.3 L379.8 113.3 L379.9 113.3 L380.0 113.3 L380.1 113.3 L380.2 113.3 L380.3 113.3 L380.4 113.3 L380.5 113.2 L380.6 113.2 L380.7 113.2 L380.8 113.2 L380.9 113.2 L381.0 113.2 L381.1 113.2 L381.2 113.2 L381.3 113.2 L381.4 113.2 L381.5 113.2 L381.6 113.2 L381.7 113.2 L381.8 113.2 L381.9 113.2 L382.0 113.1 L382.1 113.1 L382.2 113.1 L382.3 113.1 L382.4 113.1 L382.5 113.0 L382.6 113.0 L382.7 113.0 L382.8 112.9 L382.9 112.9 L383.0 112.8 L383.1 112.7 L383.2 112.6 L383.3 112.5 L383.4 112.4 L383.5 112.2 L383.6 111.9 L383.7 111.6 L383.8 111.1 L383.9 110.5 L384.0 110.4 L384.1 110.4 L384.2 110.4 L384.3 110.4 L384.4 110.4 L384.5 110.4 L384.6 110.4 L384.7 110.4 L384.8 110.4 L384.9 110.5 L385.0 111.1 L385.1 111.6 L385.2 111.9 L385.3 112.2 L385.4 112.4 L385.5 112.5 L385.6 112.6 L385.7 112.7 L385.8 112.8 L385.9 112.9 L386.0 112.9 L386.1 113.0 L386.2 113.0 L386.3 113.0 L386.4 113.1 L386.5 113.1 L386.6 113.1 L386.7 113.1 L386.8 113.2 L386.9 113.2 L387.0 113.2 L387.1 113.2 L387.2 113.2 L387.3 113.2 L387.4 113.2 L387.5 113.2 L387.6 113.2 L387.7 113.2 L387.8 113.3 L387.9 113.3 L388.0 113.3 L388.1 113.3 L388.2 113.3 L388.3 113.3 L388.4 113.3 L388.5 113.3 L388.6 113.3 L388.7 113.3 L388.8 113.3 L388.9 113.3 L389.0 113.3 L389.1 113.3 L389.2 113.3 L389.3 113.3 L389.4 113.3 L389.5 113.3 L389.6 113.3 L389.7 113.3 L389.8 113.3 L389.9 113.3 L390.0 113.3 L390.1 113.3 L390.2 113.3 L390.3 113.3 L390.5 113.3 L391.5 113.3 L392.5 113.3 L393.5 113.4 L394.5 113.4 L394.6 113.4 L394.7 113.4 L394.8 113.4 L394.9 113.4 L395.0 113.4 L395.1 113.4 L395.2 113.4 L395.3 113.4 L395.4 113.4 L395.5 113.4 L395.6 113.4 L395.7 113.4 L395.8 113.4 L395.9 113.4 L396.0 113.4 L396.1 113.4 L396.2 113.4 L396.3 113.4 L396.4 113.4 L396.5 113.4 L396.6 113.4 L396.7 113.4 L396.8 113.4 L396.9 113.4 L397.0 113.4 L397.1 113.4 L397.2 113.4 L397.3 113.4 L397.4 113.3 L397.5 113.3 L397.6 113.3 L397.7 113.3 L397.8 113.3 L397.9 113.3 L398.0 113.3 L398.1 113.3 L398.2 113.3 L398.3 113.3 L398.4 113.3 L398.5 113.3 L398.6 113.3 L398.7 113.3 L398.8 113.3 L398.9 113.3 L399.0 113.3 L399.1 113.3 L399.2 113.3 L399.3 113.2 L399.4 113.2 L399.5 113.2 L399.6 113.1 L399.7 113.1 L399.8 113.0 L399.9 113.0 L400.0 112.8 L400.1 112.7 L400.2 112.5 L400.3 112.2 L400.4 111.9 L400.5 111.6 L400.6 111.5 L400.7 111.6 L400.8 111.9 L400.9 112.2 L401.0 112.5 L401.1 112.7 L401.2 112.8 L401.3 113.0 L401.4 113.0 L401.5 113.1 L401.6 113.1 L401.7 113.2 L401.8 113.2 L401.9 113.2 L402.0 113.3 L402.1 113.3 L402.2 113.3 L402.3 113.3 L402.4 113.3 L402.5 113.3 L402.6 113.3 L402.7 113.3 L402.8 113.3 L402.9 113.3 L403.0 113.3 L403.1 113.3 L403.2 113.4 L403.3 113.4 L403.4 113.4 L403.5 113.4 L403.6 113.4 L403.7 113.4 L403.8 113.4 L403.9 113.4 L404.0 113.4 L404.1 113.4 L404.2 113.4 L404.3 113.4 L404.4 113.4 L404.5 113.4 L404.6 113.4 L404.7 113.4 L404.8 113.4 L404.9 113.4 L405.0 113.4 L405.1 113.4 L405.2 113.4 L405.3 113.4 L405.4 113.4 L405.5 113.4 L405.6 113.4 L405.7 113.4 L405.8 113.4 L405.9 113.4 L406.0 113.4 L406.1 113.4 L406.2 113.4 L406.3 113.4 L406.4 113.4 L406.5 113.4 L407.5 113.4 L408.5 113.4 L409.5 113.4 L410.5 113.4 L411.5 113.4 L412.5 113.4 L413.5 113.4 L414.5 113.4 L415.5 113.4 L416.5 113.4 L417.5 113.4 L418.5 113.4 L419.5 113.4 L420.5 113.4 L421.5 113.4 L422.5 113.4 L423.5 113.4 L423.7 113.4 L423.8 113.4 L423.9 113.4 L424.0 113.4 L424.1 113.4 L424.2 113.4 L424.3 113.4 L424.4 113.4 L424.5 113.4 L424.6 113.3 L424.7 113.3 L424.8 113.3 L424.9 113.3 L425.0 113.3 L425.1 113.3 L425.2 113.3 L425.3 113.3 L425.4 113.3 L425.5 113.3 L425.6 113.3 L425.7 113.3 L425.8 113.3 L425.9 113.3 L426.0 113.3 L426.1 113.3 L426.2 113.3 L426.3 113.3 L426.4 113.2 L426.5 113.2 L426.6 113.2 L426.7 113.2 L426.8 113.2 L426.9 113.2 L427.0 113.2 L427.1 113.1 L427.2 113.1 L427.3 113.1 L427.4 113.1 L427.5 113.0 L427.6 113.0 L427.7 112.9 L427.8 112.9 L427.9 112.8 L428.0 112.8 L428.1 112.7 L428.2 112.6 L428.3 112.5 L428.4 112.3 L428.5 112.2 L428.6 111.9 L428.7 111.7 L428.8 111.3 L428.9 110.8 L429.0 110.4 L429.1 110.4 L429.2 110.4 L429.3 110.4 L429.4 110.4 L429.5 110.4 L429.6 110.4 L429.7 110.4 L429.8 110.4 L429.9 110.4 L430.0 110.4 L430.1 110.4 L430.2 110.4 L430.3 110.4 L430.4 110.4 L430.5 110.8 L430.6 111.3 L430.7 111.7 L430.8 111.9 L430.9 112.2 L431.0 112.3 L431.1 112.5 L431.2 112.6 L431.3 112.7 L431.4 112.8 L431.5 112.8 L431.6 112.9 L431.7 112.9 L431.8 113.0 L431.9 113.0 L432.0 113.1 L432.1 113.1 L432.2 113.1 L432.3 113.1 L432.4 113.2 L432.5 113.2 L432.6 113.2 L432.7 113.2 L432.8 113.2 L432.9 113.2 L433.0 113.2 L433.1 113.3 L433.2 113.3 L433.3 113.3 L433.4 113.3 L433.5 113.3 L433.6 113.3 L433.7 113.3 L433.8 113.3 L433.9 113.3 L434.0 113.3 L434.1 113.3 L434.2 113.3 L434.3 113.3 L434.4 113.3 L434.5 113.3 L434.6 113.3 L434.7 113.4 L434.8 113.4 L434.9 113.4 L435.0 113.4 L435.1 113.4 L435.2 113.4 L435.3 113.4 L435.4 113.4 L435.5 113.4 L435.6 113.4 L436.5 113.4 L437.5 113.4 L438.5 113.4 L438.7 113.4 L438.8 113.4 L438.9 113.4 L439.0 113.4 L439.1 113.4 L439.2 113.4 L439.3 113.4 L439.4 113.4 L439.5 113.4 L439.6 113.4 L439.7 113.4 L439.8 113.4 L439.9 113.4 L440.0 113.4 L440.1 113.4 L440.2 113.4 L440.3 113.4 L440.4 113.4 L440.5 113.4 L440.6 113.4 L440.7 113.4 L440.8 113.4 L440.9 113.4 L441.0 113.4 L441.1 113.4 L441.2 113.4 L441.3 113.4 L441.4 113.4 L441.5 113.3 L441.6 113.3 L441.7 113.3 L441.8 113.3 L441.9 113.3 L442.0 113.3 L442.1 113.3 L442.2 113.3 L442.3 113.3 L442.4 113.3 L442.5 113.3 L442.6 113.2 L442.7 113.2 L442.8 113.2 L442.9 113.2 L443.0 113.2 L443.1 113.1 L443.2 113.1 L443.3 113.0 L443.4 113.0 L443.5 112.9 L443.6 112.8 L443.7 112.7 L443.8 112.6 L443.9 112.4 L444.0 112.2 L444.1 111.9 L444.2 111.4 L444.3 110.8 L444.4 110.5 L444.5 110.5 L444.6 110.5 L444.7 110.5 L444.8 110.5 L444.9 110.5 L445.0 110.5 L445.1 110.8 L445.2 111.4 L445.3 111.8 L445.4 112.2 L445.5 112.4 L445.6 112.6 L445.7 112.7 L445.8 112.8 L445.9 112.9 L446.0 113.0 L446.1 113.0 L446.2 113.1 L446.3 113.1 L446.4 113.1 L446.5 113.1 L446.6 113.2 L446.7 113.2 L446.8 113.2 L446.9 113.2 L447.0 113.2 L447.1 113.2 L447.2 113.2 L447.3 113.2 L447.4 113.2 L447.5 113.2 L447.6 113.2 L447.7 113.2 L447.8 113.2 L447.9 113.2 L448.0 113.2 L448.1 113.2 L448.2 113.2 L448.3 113.2 L448.4 113.2 L448.5 113.2 L448.6 113.1 L448.7 113.1 L448.8 113.1 L448.9 113.0 L449.0 113.0 L449.1 113.0 L449.2 112.9 L449.3 112.9 L449.4 112.8 L449.5 112.7 L449.6 112.6 L449.7 112.4 L449.8 112.2 L449.9 112.0 L450.0 111.7 L450.1 111.3 L450.2 110.7 L450.3 110.5 L450.4 110.5 L450.5 110.5 L450.6 110.5 L450.7 110.5 L450.8 110.5 L450.9 110.5 L451.0 110.5 L451.1 110.5 L451.2 110.5 L451.3 110.5 L451.4 110.7 L451.5 111.3 L451.6 111.7 L451.7 112.0 L451.8 112.3 L451.9 112.4 L452.0 112.6 L452.1 112.7 L452.2 112.8 L452.3 112.9 L452.4 112.9 L452.5 113.0 L452.6 113.0 L452.7 113.1 L452.8 113.1 L452.9 113.2 L453.0 113.2 L453.1 113.2 L453.2 113.2 L453.3 113.2 L453.4 113.3 L453.5 113.3 L453.6 113.3 L453.7 113.3 L453.8 113.3 L453.9 113.3 L454.0 113.3 L454.1 113.3 L454.2 113.3 L454.3 113.3 L454.4 113.4 L454.5 113.4 L454.6 113.4 L454.7 113.4 L454.8 113.4 L454.9 113.4 L455.0 113.4 L455.1 113.4 L455.2 113.4 L455.3 113.4 L455.4 113.4 L455.5 113.4 L455.6 113.4 L455.7 113.4 L455.8 113.4 L455.9 113.4 L456.0 113.4 L456.1 113.4 L456.2 113.4 L456.3 113.4 L456.4 113.4 L456.5 113.4 L456.6 113.4 L456.7 113.4 L457.5 113.4 L458.5 113.4 L459.5 113.5 L460.5 113.5 L461.5 113.5 L462.5 113.5 L463.5 113.5 L464.5 113.5 L465.5 113.5 L466.5 113.5 L467.5 113.5 L468.5 113.5 L469.5 113.5 L470.5 113.5 L471.2 113.4 L471.3 113.4 L471.4 113.4 L471.5 113.4 L471.6 113.4 L471.7 113.4 L471.8 113.4 L471.9 113.4 L472.0 113.4 L472.1 113.4 L472.2 113.4 L472.3 113.4 L472.4 113.4 L472.5 113.4 L472.6 113.4 L472.7 113.4 L472.8 113.4 L472.9 113.4 L473.0 113.4 L473.1 113.4 L473.2 113.4 L473.3 113.4 L473.4 113.4 L473.5 113.4 L473.6 113.4 L473.7 113.4 L473.8 113.4 L473.9 113.4 L474.0 113.4 L474.1 113.4 L474.2 113.4 L474.3 113.3 L474.4 113.3 L474.5 113.3 L474.6 113.3 L474.7 113.3 L474.8 113.3 L474.9 113.3 L475.0 113.2 L475.1 113.2 L475.2 113.2 L475.3 113.2 L475.4 113.1 L475.5 113.1 L475.6 113.0 L475.7 113.0 L475.8 112.9 L475.9 112.8 L476.0 112.7 L476.1 112.6 L476.2 112.5 L476.3 112.3 L476.4 112.0 L476.5 111.7 L476.6 111.2 L476.7 110.6 L476.8 110.5 L476.9 110.5 L477.0 110.5 L477.1 110.5 L477.2 110.5 L477.3 110.5 L477.4 110.5 L477.5 110.5 L477.6 110.5 L477.7 110.6 L477.8 111.2 L477.9 111.6 L478.0 112.0 L478.1 112.2 L478.2 112.4 L478.3 112.6 L478.4 112.7 L478.5 112.8 L478.6 112.9 L478.7 113.0 L478.8 113.0 L478.9 113.0 L479.0 113.1 L479.1 113.1 L479.2 113.1 L479.3 113.2 L479.4 113.2 L479.5 113.2 L479.6 113.2 L479.7 113.2 L479.8 113.2 L479.9 113.2 L480.0 113.2 L480.1 113.2 L480.2 113.2 L480.3 113.2 L480.4 113.2 L480.5 113.2 L480.6 113.2 L480.7 113.2 L480.8 113.2 L480.9 113.2 L481.0 113.2 L481.1 113.1 L481.2 113.1 L481.3 113.1 L481.4 113.0 L481.5 113.0 L481.6 113.0 L481.7 112.9 L481.8 112.8 L481.9 112.7 L482.0 112.6 L482.1 112.5 L482.2 112.4 L482.3 112.2 L482.4 111.9 L482.5 111.6 L482.6 111.1 L482.7 110.5 L482.8 110.5 L482.9 110.5 L483.0 110.5 L483.1 110.5 L483.2 110.5 L483.3 110.5 L483.4 110.5 L483.5 110.5 L483.6 110.5 L483.7 110.5 L483.8 110.5 L483.9 110.6 L484.0 111.2 L484.1 111.6 L484.2 111.9 L484.3 112.2 L484.4 112.4 L484.5 112.5 L484.6 112.7 L484.7 112.8 L484.8 112.9 L484.9 112.9 L485.0 113.0 L485.1 113.0 L485.2 113.1 L485.3 113.1 L485.4 113.2 L485.5 113.2 L485.6 113.2 L485.7 113.2 L485.8 113.3 L485.9 113.3 L486.0 113.3 L486.1 113.3 L486.2 113.3 L486.3 113.3 L486.4 113.3 L486.5 113.3 L486.6 113.3 L486.7 113.4 L486.8 113.4 L486.9 113.4 L487.0 113.4 L487.1 113.4 L487.2 113.4 L487.3 113.4 L487.4 113.4 L487.5 113.4 L487.6 113.4 L487.7 113.4 L487.8 113.4 L487.9 113.4 L488.0 113.4 L488.1 113.4 L488.2 113.4 L488.3 113.4 L488.4 113.4 L488.5 113.4 L488.6 113.4 L488.7 113.4 L488.8 113.4 L488.9 113.4 L489.0 113.4 L489.1 113.4 L489.2 113.4 L489.3 113.4 L489.4 113.4 L489.5 113.4 L489.6 113.4 L489.7 113.4 L489.8 113.4 L489.9 113.4 L490.0 113.4 L490.1 113.4 L490.2 113.4 L490.3 113.4 L490.4 113.4 L490.5 113.4 L490.6 113.4 L490.7 113.4 L490.8 113.4 L490.9 113.4 L491.0 113.4 L491.1 113.4 L491.2 113.4 L491.3 113.4 L491.4 113.4 L491.5 113.4 L491.6 113.4 L491.7 113.4 L491.8 113.4 L491.9 113.4 L492.0 113.4 L492.1 113.3 L492.2 113.3 L492.3 113.3 L492.4 113.3 L492.5 113.3 L492.6 113.3 L492.7 113.3 L492.8 113.3 L492.9 113.2 L493.0 113.2 L493.1 113.2 L493.2 113.2 L493.3 113.1 L493.4 113.1 L493.5 113.0 L493.6 113.0 L493.7 112.9 L493.8 112.9 L493.9 112.8 L494.0 112.7 L494.1 112.5 L494.2 112.4 L494.3 112.2 L494.4 111.9 L494.5 111.5 L494.6 111.1 L494.7 110.5 L494.8 110.5 L494.9 110.5 L495.0 110.5 L495.1 110.5 L495.2 110.5 L495.3 110.5 L495.4 110.5 L495.5 110.5 L495.6 110.5 L495.7 110.5 L495.8 110.5 L495.9 110.5 L496.0 111.1 L496.1 111.5 L496.2 111.9 L496.3 112.2 L496.4 112.4 L496.5 112.5 L496.6 112.7 L496.7 112.8 L496.8 112.9 L496.9 112.9 L497.0 113.0 L497.1 113.1 L497.2 113.1 L497.3 113.1 L497.4 113.2 L497.5 113.2 L497.6 113.2 L497.7 113.3 L497.8 113.3 L497.9 113.3 L498.0 113.3 L498.1 113.3 L498.2 113.3 L498.3 113.3 L498.4 113.4 L498.5 113.4 L498.6 113.4 L498.7 113.4 L498.8 113.4 L498.9 113.4 L499.0 113.4 L499.1 113.4 L499.2 113.4 L499.3 113.4 L499.4 113.4 L499.5 113.4 L499.6 113.4 L499.7 113.4 L499.8 113.4 L499.9 113.4 L500.0 113.4 L500.1 113.4 L500.2 113.4 L500.3 113.4 L500.4 113.4 L500.5 113.4 L500.6 113.4 L500.7 113.5 L500.8 113.5 L500.9 113.5 L501.0 113.5 L501.1 113.5 L501.2 113.5 L501.3 113.5 L501.4 113.5 L501.5 113.5 L501.6 113.5 L501.7 113.5 L501.8 113.5 L501.9 113.5 L502.0 113.5 L502.1 113.5 L502.2 113.5 L502.3 113.5 L502.4 113.5 L502.5 113.4 L502.6 113.4 L502.7 113.4 L502.8 113.4 L502.9 113.4 L503.0 113.4 L503.1 113.4 L503.2 113.4 L503.3 113.4 L503.4 113.4 L503.5 113.4 L503.6 113.4 L503.7 113.4 L503.8 113.4 L503.9 113.4 L504.0 113.4 L504.1 113.4 L504.2 113.3 L504.3 113.3 L504.4 113.3 L504.5 113.3 L504.6 113.3 L504.7 113.2 L504.8 113.2 L504.9 113.1 L505.0 113.1 L505.1 113.0 L505.2 112.9 L505.3 112.8 L505.4 112.6 L505.5 112.4 L505.6 112.1 L505.7 111.7 L505.8 111.1 L505.9 110.6 L506.0 110.6 L506.1 110.6 L506.2 110.6 L506.3 110.6 L506.4 111.1 L506.5 111.6 L506.6 112.0 L506.7 112.4 L506.8 112.6 L506.9 112.7 L507.0 112.9 L507.1 113.0 L507.2 113.0 L507.3 113.1 L507.4 113.1 L507.5 113.1 L507.6 113.2 L507.7 113.2 L507.8 113.2 L507.9 113.2 L508.0 113.2 L508.1 113.2 L508.2 113.2 L508.3 113.2 L508.4 113.2 L508.5 113.1 L508.6 113.1 L508.7 113.1 L508.8 113.0 L508.9 113.0 L509.0 112.9 L509.1 112.8 L509.2 112.7 L509.3 112.6 L509.4 112.4 L509.5 112.2 L509.6 111.9 L509.7 111.5 L509.8 110.9 L509.9 110.6 L510.0 110.6 L510.1 110.6 L510.2 110.6 L510.3 110.6 L510.4 110.6 L510.5 110.6 L510.6 110.6 L510.7 110.6 L510.8 110.9 L510.9 111.5 L511.0 111.9 L511.1 112.2 L511.2 112.4 L511.3 112.6 L511.4 112.8 L511.5 112.9 L511.6 113.0 L511.7 113.0 L511.8 113.1 L511.9 113.2 L512.0 113.2 L512.1 113.2 L512.2 113.3 L512.3 113.3 L512.4 113.3 L512.5 113.3 L512.6 113.3 L512.7 113.4 L512.8 113.4 L512.9 113.4 L513.0 113.4 L513.1 113.4 L513.2 113.4 L513.3 113.4 L513.4 113.4 L513.5 113.4 L513.6 113.4 L513.7 113.5 L513.8 113.5 L513.9 113.5 L514.0 113.5 L514.1 113.5 L514.2 113.5 L514.3 113.5 L514.4 113.5 L514.5 113.5 L514.6 113.5 L514.7 113.5 L514.8 113.5 L514.9 113.5 L515.0 113.5 L515.1 113.5 L515.2 113.5 L515.3 113.5 L515.4 113.5 L515.5 113.5 L515.6 113.5 L515.7 113.5 L515.8 113.5 L515.9 113.5 L516.0 113.5 L516.1 113.5 L516.2 113.5 L516.5 113.5 L517.5 113.5 L518.5 113.5 L519.5 113.5 L520.5 113.6 L521.5 113.6 L522.5 113.6 L523.5 113.6 L524.5 113.6 L525.5 113.6 L526.5 113.6 L527.5 113.6 L528.5 113.6 L529.5 113.6 L530.5 113.6 L531.5 113.6 L532.5 113.6 L533.5 113.6 L534.5 113.6 L535.5 113.6 L536.5 113.6 L537.5 113.6 L538.5 113.6 L539.5 113.6 L540.5 113.6 L541.5 113.6 L542.5 113.6 L543.5 113.6 L544.5 113.6 L545.5 113.6 L546.5 113.6 L547.5 113.6 L548.5 113.6 L549.5 113.6 L550.5 113.6 L551.5 113.6 L552.5 113.6 L553.5 113.6 L554.5 113.6 L555.5 113.6 L556.5 113.6 L557.5 113.6 L558.5 113.6 L559.5 113.6 L560.5 113.6 L561.5 113.6 L562.5 113.6 L563.5 113.6 L564.5 113.6 L565.5 113.6 L566.5 113.6 L567.5 113.6 L568.5 113.6 L569.3 113.6 L569.4 113.6 L569.5 113.6 L569.6 113.6 L569.7 113.6 L569.8 113.5 L569.9 113.5 L570.0 113.5 L570.1 113.5 L570.2 113.5 L570.3 113.5 L570.4 113.5 L570.5 113.5 L570.6 113.5 L570.7 113.5 L570.8 113.5 L570.9 113.5 L571.0 113.5 L571.1 113.5 L571.2 113.5 L571.3 113.5 L571.4 113.5 L571.5 113.5 L571.6 113.5 L571.7 113.5 L571.8 113.5 L571.9 113.5 L572.0 113.5 L572.1 113.5 L572.2 113.4 L572.3 113.4 L572.4 113.4 L572.5 113.4 L572.6 113.4 L572.7 113.4 L572.8 113.4 L572.9 113.4 L573.0 113.3 L573.1 113.3 L573.2 113.3 L573.3 113.2 L573.4 113.2 L573.5 113.2 L573.6 113.1 L573.7 113.1 L573.8 113.0 L573.9 112.9 L574.0 112.8 L574.1 112.7 L574.2 112.5 L574.3 112.3 L574.4 112.1 L574.5 111.8 L574.6 111.3 L574.7 110.8 L574.8 110.6 L574.9 110.6 L575.0 110.6 L575.1 110.6 L575.2 110.6 L575.3 110.6 L575.4 110.6 L575.5 110.6 L575.6 110.6 L575.7 110.6 L575.8 110.6 L575.9 110.8 L576.0 111.3 L576.1 111.8 L576.2 112.1 L576.3 112.3 L576.4 112.5 L576.5 112.7 L576.6 112.8 L576.7 112.9 L576.8 113.0 L576.9 113.1 L577.0 113.1 L577.1 113.2 L577.2 113.2 L577.3 113.2 L577.4 113.3 L577.5 113.3 L577.6 113.3 L577.7 113.3 L577.8 113.4 L577.9 113.4 L578.0 113.4 L578.1 113.4 L578.2 113.4 L578.3 113.4 L578.4 113.4 L578.5 113.4 L578.6 113.5 L578.7 113.5 L578.8 113.5 L578.9 113.5 L579.0 113.5 L579.1 113.5 L579.2 113.5 L579.3 113.5 L579.4 113.5 L579.5 113.5 L579.6 113.5 L579.7 113.5 L579.8 113.5 L579.9 113.5 L580.0 113.5 L580.1 113.5 L580.2 113.5 L580.3 113.5 L580.4 113.5 L580.5 113.5 L580.6 113.5 L580.7 113.5 L580.8 113.5 L580.9 113.5 L581.0 113.5 L581.1 113.5 L581.2 113.5 L581.3 113.5 L581.4 113.5 L581.5 113.5 L581.6 113.5 L581.7 113.5 L581.8 113.5 L581.9 113.5 L582.0 113.5 L582.1 113.5 L582.2 113.5 L582.3 113.5 L582.4 113.5 L582.5 113.5 L582.6 113.5 L582.7 113.5 L582.8 113.5 L582.9 113.5 L583.0 113.4 L583.1 113.4 L583.2 113.4 L583.3 113.4 L583.4 113.4 L583.5 113.4 L583.6 113.3 L583.7 113.3 L583.8 113.3 L583.9 113.2 L584.0 113.2 L584.1 113.1 L584.2 113.0 L584.3 112.9 L584.4 112.7 L584.5 112.5 L584.6 112.3 L584.7 111.9 L584.8 111.4 L584.9 110.7 L585.0 110.6 L585.1 110.6 L585.2 110.6 L585.3 110.6 L585.4 110.6 L585.5 110.8 L585.6 111.4 L585.7 111.9 L585.8 112.3 L585.9 112.5 L586.0 112.7 L586.1 112.9 L586.2 113.0 L586.3 113.1 L586.4 113.2 L586.5 113.2 L586.6 113.3 L586.7 113.3 L586.8 113.3 L586.9 113.4 L587.0 113.4 L587.1 113.4 L587.2 113.4 L587.3 113.4 L587.4 113.5 L587.5 113.5 L587.6 113.5 L587.7 113.5 L587.8 113.5 L587.9 113.5 L588.0 113.5 L588.1 113.5 L588.2 113.5 L588.3 113.5 L588.4 113.5 L588.5 113.5 L588.6 113.5 L588.7 113.5 L588.8 113.5 L588.9 113.5 L589.0 113.5 L589.1 113.5 L589.2 113.6 L589.3 113.6 L589.4 113.6 L589.5 113.6 L589.6 113.6 L589.7 113.6 L589.8 113.6 L589.9 113.6 L590.0 113.6 L590.1 113.6 L590.2 113.6 L590.3 113.6 L590.4 113.6 L590.5 113.6 L590.6 113.6 L590.7 113.6 L590.8 113.6 L590.9 113.6 L591.0 113.6 L591.1 113.6 L591.5 113.6 L592.5 113.6 L593.5 113.6 L594.5 113.6 L595.5 113.6 L596.5 113.6 L597.5 113.6 L598.5 113.6 L599.5 113.6 L600.5 113.6 L601.5 113.6 L602.5 113.6 L603.5 113.6 L604.5 113.6 L605.5 113.6 L606.5 113.6 L607.5 113.6 L608.5 113.6 L609.5 113.6" fill="none" stroke="#dd0000" stroke-width="3.0" stroke-linejoin="round"/>
<path d="M50.5 110.7 L51.5 110.7 L52.5 110.7 L53.5 110.7 L54.5 110.7 L55.5 110.7 L56.5 110.7 L57.5 110.7 L58.5 110.7 L59.5 110.7 L60.5 110.7 L61.5 110.7 L62.5 110.7 L63.5 110.7 L64.5 110.7 L65.5 110.7 L66.5 110.7 L67.5 110.7 L68.5 110.7 L69.5 110.7 L70.5 110.7 L71.5 110.8 L72.5 110.8 L73.5 110.8 L74.5 110.8 L75.5 110.8 L76.5 110.8 L77.5 110.8 L78.5 110.8 L79.5 110.8 L80.5 110.8 L81.5 110.8 L82.5 110.8 L83.5 110.8 L84.5 110.8 L85.5 110.8 L86.5 110.8 L87.5 110.8 L88.5 110.8 L89.5 110.8 L90.5 110.8 L91.5 110.8 L92.5 110.8 L93.5 110.8 L94.5 110.8 L95.5 110.9 L96.5 110.9 L97.5 110.9 L98.5 110.9 L99.5 110.9 L100.5 110.9 L101.5 110.9 L102.5 110.9 L103.5 111.0 L104.5 111.0 L105.5 111.0 L106.5 111.0 L107.5 111.0 L108.5 111.0 L109.5 111.0 L110.5 111.0 L111.5 111.0 L112.5 111.1 L113.5 111.1 L114.5 111.1 L115.5 111.1 L116.5 111.1 L117.5 111.1 L118.5 111.1 L119.5 111.1 L120.5 111.1 L121.5 111.2 L122.5 111.2 L123.5 111.2 L124.5 111.2 L125.5 111.2 L126.5 111.2 L127.5 111.2 L128.5 111.2 L129.5 111.2 L130.5 111.3 L131.5 111.3 L132.5 111.3 L133.5 111.3 L134.5 111.3 L135.5 111.3 L136.5 111.3 L137.5 111.3 L138.5 111.3 L139.5 111.3 L140.5 111.4 L141.5 111.4 L142.5 111.4 L143.5 111.4 L144.5 111.4 L145.5 111.4 L146.5 111.4 L147.5 111.4 L148.5 111.4 L149.5 111.4 L150.5 111.4 L151.5 111.4 L152.5 111.3 L153.5 111.3 L154.5 111.2 L155.4 111.1 L155.5 111.1 L155.6 111.1 L155.7 111.1 L155.8 111.1 L155.9 111.1 L156.0 111.1 L156.1 111.0 L156.2 111.0 L156.3 111.0 L156.4 111.0 L156.5 110.9 L156.6 110.9 L156.7 110.9 L156.8 110.9 L156.9 110.8 L157.0 110.8 L157.1 110.8 L157.2 110.7 L157.3 110.7 L157.4 110.6 L157.5 110.6 L157.6 110.6 L157.7 110.5 L157.8 110.4 L157.9 110.4 L158.0 110.3 L158.1 110.2 L158.2 110.1 L158.3 110.0 L158.4 109.9 L158.5 109.8 L158.6 109.7 L158.7 109.6 L158.8 109.4 L158.9 109.2 L159.0 109.0 L159.1 108.8 L159.2 108.6 L159.3 108.6 L159.4 108.6 L159.5 108.6 L159.6 108.6 L159.7 108.6 L159.8 108.6 L159.9 108.6 L160.0 108.6 L160.1 108.6 L160.2 108.6 L160.3 108.6 L160.4 108.6 L160.5 108.6 L160.6 108.6 L160.7 108.6 L160.8 108.6 L160.9 108.6 L161.0 108.6 L161.1 108.6 L161.2 108.6 L161.3 108.6 L161.4 108.6 L161.5 108.6 L161.6 108.6 L161.7 108.6 L161.8 108.6 L161.9 108.6 L162.0 108.6 L162.1 108.6 L162.2 108.6 L162.3 108.7 L162.4 108.7 L162.5 108.7 L162.6 108.7 L162.7 108.7 L162.8 108.7 L162.9 108.7 L163.0 108.7 L163.1 108.7 L163.2 108.7 L163.3 108.7 L163.4 108.7 L163.5 108.7 L163.6 108.7 L163.7 108.9 L163.8 109.1 L163.9 109.3 L164.0 109.5 L164.1 109.6 L164.2 109.8 L164.3 109.9 L164.4 110.0 L164.5 110.1 L164.6 110.2 L164.7 110.3 L164.8 110.4 L164.9 110.5 L165.0 110.5 L165.1 110.6 L165.2 110.6 L165.3 110.7 L165.4 110.7 L165.5 110.8 L165.6 110.8 L165.7 110.9 L165.8 110.9 L165.9 110.9 L166.0 111.0 L166.1 111.0 L166.2 111.0 L166.3 111.1 L166.4 111.1 L166.5 111.1 L166.6 111.1 L166.7 111.2 L166.8 111.2 L166.9 111.2 L167.0 111.2 L167.1 111.2 L167.2 111.2 L167.3 111.3 L167.5 111.3 L168.5 111.4 L169.5 111.5 L170.5 111.5 L171.5 111.6 L172.5 111.6 L173.5 111.7 L174.5 111.7 L175.5 111.7 L176.5 111.7 L177.5 111.7 L178.5 111.8 L179.5 111.8 L180.5 111.8 L181.5 111.8 L182.5 111.8 L183.5 111.8 L184.5 111.8 L185.5 111.8 L186.5 111.8 L187.5 111.8 L188.5 111.8 L189.5 111.7 L189.6 111.7 L189.7 111.7 L189.8 111.7 L189.9 111.7 L190.0 111.7 L190.1 111.7 L190.2 111.7 L190.3 111.7 L190.4 111.6 L190.5 111.6 L190.6 111.6 L190.7 111.6 L190.8 111.6 L190.9 111.6 L191.0 111.6 L191.1 111.6 L191.2 111.5 L191.3 111.5 L191.4 111.5 L191.5 111.5 L191.6 111.4 L191.7 111.4 L191.8 111.4 L191.9 111.4 L192.0 111.3 L192.1 111.3 L192.2 111.2 L192.3 111.2 L192.4 111.2 L192.5 111.1 L192.6 111.0 L192.7 111.0 L192.8 110.9 L192.9 110.8 L193.0 110.7 L193.1 110.6 L193.2 110.5 L193.3 110.4 L193.4 110.3 L193.5 110.1 L193.6 109.9 L193.7 109.7 L193.8 109.4 L193.9 109.1 L194.0 109.0 L194.1 109.0 L194.2 109.0 L194.3 109.0 L194.4 109.0 L194.5 109.0 L194.6 109.0 L194.7 109.0 L194.8 109.1 L194.9 109.1 L195.0 109.1 L195.1 109.1 L195.2 109.1 L195.3 109.1 L195.4 109.1 L195.5 109.1 L195.6 109.1 L195.7 109.1 L195.8 109.1 L195.9 109.1 L196.0 109.1 L196.1 109.1 L196.2 109.1 L196.3 109.1 L196.4 109.1 L196.5 109.1 L196.6 109.1 L196.7 109.1 L196.8 109.1 L196.9 109.1 L197.0 109.1 L197.1 109.1 L197.2 109.1 L197.3 109.2 L197.4 109.5 L197.5 109.7 L197.6 110.0 L197.7 110.1 L197.8 110.3 L197.9 110.5 L198.0 110.6 L198.1 110.7 L198.2 110.8 L198.3 110.9 L198.4 111.0 L198.5 111.1 L198.6 111.1 L198.7 111.2 L198.8 111.2 L198.9 111.3 L199.0 111.3 L199.1 111.4 L199.2 111.4 L199.3 111.5 L199.4 111.5 L199.5 111.5 L199.6 111.5 L199.7 111.6 L199.8 111.6 L199.9 111.6 L200.0 111.6 L200.1 111.7 L200.2 111.7 L200.3 111.7 L200.4 111.7 L200.5 111.7 L200.6 111.8 L200.7 111.8 L200.8 111.8 L200.9 111.8 L201.0 111.8 L201.1 111.8 L201.2 111.8 L201.3 111.8 L201.4 111.9 L201.5 111.9 L202.5 111.9 L203.5 112.0 L204.5 112.0 L205.5 112.1 L206.5 112.1 L207.5 112.1 L208.5 112.1 L209.5 112.2 L210.5 112.2 L211.5 112.2 L212.5 112.2 L213.5 112.2 L214.0 112.2 L214.1 112.2 L214.2 112.2 L214.3 112.2 L214.4 112.2 L214.5 112.2 L214.6 112.2 L214.7 112.2 L214.8 112.2 L214.9 112.2 L215.0 112.2 L215.1 112.2 L215.2 112.2 L215.3 112.2 L215.4 112.1 L215.5 112.1 L215.6 112.1 L215.7 112.1 L215.8 112.1 L215.9 112.1 L216.0 112.1 L216.1 112.1 L216.2 112.1 L216.3 112.1 L216.4 112.1 L216.5 112.1 L216.6 112.1 L216.7 112.0 L216.8 112.0 L216.9 112.0 L217.0 112.0 L217.1 112.0 L217.2 112.0 L217.3 111.9 L217.4 111.9 L217.5 111.9 L217.6 111.9 L217.7 111.8 L217.8 111.8 L217.9 111.7 L218.0 111.7 L218.1 111.6 L218.2 111.5 L218.3 111.5 L218.4 111.3 L218.5 111.2 L218.6 111.1 L218.7 110.9 L218.8 110.7 L218.9 110.4 L219.0 110.1 L219.1 109.6 L219.2 109.4 L219.3 109.4 L219.4 109.4 L219.5 109.4 L219.6 109.4 L219.7 109.4 L219.8 109.4 L219.9 109.4 L220.0 109.4 L220.1 109.4 L220.2 109.4 L220.3 109.4 L220.4 109.4 L220.5 109.4 L220.6 109.4 L220.7 109.4 L220.8 109.4 L220.9 109.4 L221.0 109.8 L221.1 110.1 L221.2 110.4 L221.3 110.5 L221.4 110.6 L221.5 110.6 L221.6 110.6 L221.7 110.5 L221.8 110.4 L221.9 110.2 L222.0 109.8 L222.1 109.4 L222.2 109.4 L222.3 109.4 L222.4 109.4 L222.5 109.4 L222.6 109.4 L222.7 109.4 L222.8 109.4 L222.9 109.5 L223.0 110.1 L223.1 110.6 L223.2 110.9 L223.3 111.2 L223.4 111.4 L223.5 111.5 L223.6 111.6 L223.7 111.7 L223.8 111.8 L223.9 111.9 L224.0 111.9 L224.1 112.0 L224.2 112.0 L224.3 112.0 L224.4 112.1 L224.5 112.1 L224.6 112.1 L224.7 112.1 L224.8 112.2 L224.9 112.2 L225.0 112.2 L225.1 112.2 L225.2 112.2 L225.3 112.2 L225.4 112.2 L225.5 112.3 L225.6 112.3 L225.7 112.3 L225.8 112.3 L225.9 112.3 L226.0 112.3 L226.1 112.3 L226.2 112.3 L226.3 112.3 L226.4 112.3 L226.5 112.3 L226.6 112.3 L226.7 112.3 L226.8 112.3 L226.9 112.3 L227.0 112.4 L227.1 112.4 L227.2 112.4 L227.3 112.4 L227.4 112.4 L227.5 112.4 L227.6 112.4 L227.7 112.4 L227.8 112.4 L227.9 112.4 L228.0 112.4 L228.1 112.4 L228.2 112.4 L228.3 112.4 L228.4 112.4 L228.5 112.4 L229.5 112.4 L230.5 112.4 L231.5 112.5 L232.5 112.5 L233.5 112.5 L234.5 112.5 L235.5 112.5 L236.5 112.5 L237.5 112.6 L237.9 112.6 L238.0 112.6 L238.1 112.6 L238.2 112.6 L238.3 112.6 L238.4 112.6 L238.5 112.6 L238.6 112.6 L238.7 112.6 L238.8 112.6 L238.9 112.6 L239.0 112.6 L239.1 112.6 L239.2 112.6 L239.3 112.6 L239.4 112.6 L239.5 112.6 L239.6 112.6 L239.7 112.6 L239.8 112.6 L239.9 112.6 L240.0 112.6 L240.1 112.6 L240.2 112.6 L240.3 112.6 L240.4 112.6 L240.5 112.6 L240.6 112.6 L240.7 112.6 L240.8 112.6 L240.9 112.6 L241.0 112.6 L241.1 112.6 L241.2 112.6 L241.3 112.6 L241.4 112.6 L241.5 112.6 L241.6 112.6 L241.7 112.6 L241.8 112.6 L241.9 112.5 L242.0 112.5 L242.1 112.5 L242.2 112.5 L242.3 112.5 L242.4 112.5 L242.5 112.5 L242.6 112.5 L242.7 112.4 L242.8 112.4 L242.9 112.4 L243.0 112.3 L243.1 112.2 L243.2 112.1 L243.3 112.0 L243.4 111.9 L243.5 111.6 L243.6 111.3 L243.7 110.9 L243.8 110.6 L243.9 110.5 L244.0 110.6 L244.1 111.0 L244.2 111.3 L244.3 111.6 L244.4 111.9 L244.5 112.0 L244.6 112.2 L244.7 112.3 L244.8 112.3 L244.9 112.4 L245.0 112.4 L245.1 112.5 L245.2 112.5 L245.3 112.5 L245.4 112.5 L245.5 112.6 L245.6 112.6 L245.7 112.6 L245.8 112.6 L245.9 112.6 L246.0 112.6 L246.1 112.6 L246.2 112.6 L246.3 112.6 L246.4 112.6 L246.5 112.6 L246.6 112.6 L246.7 112.6 L246.8 112.7 L246.9 112.7 L247.0 112.7 L247.1 112.7 L247.2 112.7 L247.3 112.7 L247.4 112.7 L247.5 112.7 L247.6 112.7 L247.7 112.7 L247.8 112.7 L247.9 112.7 L248.0 112.7 L248.1 112.7 L248.2 112.7 L248.3 112.7 L248.4 112.7 L248.5 112.7 L248.6 112.7 L248.7 112.7 L248.8 112.7 L248.9 112.7 L249.0 112.7 L249.1 112.7 L249.2 112.7 L249.3 112.7 L249.4 112.7 L249.5 112.7 L249.6 112.7 L249.7 112.7 L249.8 112.7 L250.5 112.7 L251.5 112.7 L252.5 112.8 L253.5 112.8 L254.5 112.8 L255.5 112.8 L256.5 112.8 L257.5 112.8 L258.5 112.8 L259.5 112.8 L260.5 112.9 L261.5 112.9 L262.5 112.9 L263.5 112.9 L264.5 112.9 L265.5 112.9 L266.5 112.9 L267.5 112.9 L268.5 112.9 L269.5 113.0 L270.5 113.0 L271.5 113.0 L272.5 113.0 L273.5 113.0 L274.5 113.0 L275.5 113.0 L276.5 112.9 L277.5 112.9 L278.5 112.9 L279.5 112.9 L280.5 112.9 L281.5 112.8 L282.5 112.8 L282.6 112.8 L282.7 112.8 L282.8 112.8 L282.9 112.7 L283.0 112.7 L283.1 112.7 L283.2 112.7 L283.3 112.7 L283.4 112.7 L283.5 112.7 L283.6 112.7 L283.7 112.6 L283.8 112.6 L283.9 112.6 L284.0 112.6 L284.1 112.6 L284.2 112.6 L284.3 112.5 L284.4 112.5 L284.5 112.5 L284.6 112.5 L284.7 112.4 L284.8 112.4 L284.9 112.4 L285.0 112.3 L285.1 112.3 L285.2 112.2 L285.3 112.2 L285.4 112.1 L285.5 112.1 L285.6 112.0 L285.7 111.9 L285.8 111.9 L285.9 111.8 L286.0 111.7 L286.1 111.6 L286.2 111.5 L286.3 111.3 L286.4 111.2 L286.5 111.0 L286.6 110.8 L286.7 110.6 L286.8 110.3 L286.9 110.1 L287.0 110.1 L287.1 110.1 L287.2 110.1 L287.3 110.1 L287.4 110.1 L287.5 110.1 L287.6 110.1 L287.7 110.1 L287.8 110.1 L287.9 110.1 L288.0 110.1 L288.1 110.1 L288.2 110.1 L288.3 110.1 L288.4 110.1 L288.5 110.1 L288.6 110.1 L288.7 110.1 L288.8 110.1 L288.9 110.1 L289.0 110.1 L289.1 110.1 L289.2 110.1 L289.3 110.1 L289.4 110.1 L289.5 110.1 L289.6 110.1 L289.7 110.1 L289.8 110.1 L289.9 110.1 L290.0 110.1 L290.1 110.1 L290.2 110.1 L290.3 110.1 L290.4 110.3 L290.5 110.6 L290.6 110.8 L290.7 111.0 L290.8 111.2 L290.9 111.3 L291.0 111.5 L291.1 111.6 L291.2 111.7 L291.3 111.8 L291.4 111.9 L291.5 112.0 L291.6 112.0 L291.7 112.1 L291.8 112.1 L291.9 112.2 L292.0 112.2 L292.1 112.3 L292.2 112.3 L292.3 112.4 L292.4 112.4 L292.5 112.4 L292.6 112.5 L292.7 112.5 L292.8 112.5 L292.9 112.5 L293.0 112.6 L293.1 112.6 L293.2 112.6 L293.3 112.6 L293.4 112.6 L293.5 112.7 L293.6 112.7 L293.7 112.7 L293.8 112.7 L293.9 112.7 L294.0 112.7 L294.1 112.7 L294.2 112.7 L294.3 112.8 L294.4 112.8 L294.5 112.8 L295.5 112.8 L296.5 112.9 L297.5 112.9 L298.5 112.9 L299.5 112.9 L300.4 112.9 L300.5 112.9 L300.6 112.9 L300.7 112.9 L300.8 112.9 L300.9 112.9 L301.0 112.9 L301.1 112.9 L301.2 112.9 L301.3 112.9 L301.4 112.9 L301.5 112.9 L301.6 112.9 L301.7 112.9 L301.8 112.9 L301.9 112.9 L302.0 112.9 L302.1 112.8 L302.2 112.8 L302.3 112.8 L302.4 112.8 L302.5 112.8 L302.6 112.8 L302.7 112.8 L302.8 112.8 L302.9 112.8 L303.0 112.7 L303.1 112.7 L303.2 112.7 L303.3 112.7 L303.4 112.7 L303.5 112.6 L303.6 112.6 L303.7 112.6 L303.8 112.5 L303.9 112.5 L304.0 112.5 L304.1 112.4 L304.2 112.4 L304.3 112.3 L304.4 112.2 L304.5 112.1 L304.6 112.0 L304.7 111.9 L304.8 111.8 L304.9 111.6 L305.0 111.4 L305.1 111.2 L305.2 110.9 L305.3 110.5 L305.4 110.1 L305.5 110.1 L305.6 110.1 L305.7 110.1 L305.8 110.1 L305.9 110.1 L306.0 110.1 L306.1 110.1 L306.2 110.1 L306.3 110.1 L306.4 110.1 L306.5 110.1 L306.6 110.1 L306.7 110.1 L306.8 110.1 L306.9 110.1 L307.0 110.1 L307.1 110.1 L307.2 110.1 L307.3 110.1 L307.4 110.1 L307.5 110.5 L307.6 110.9 L307.7 111.2 L307.8 111.4 L307.9 111.6 L308.0 111.8 L308.1 111.9 L308.2 112.0 L308.3 112.1 L308.4 112.2 L308.5 112.3 L308.6 112.3 L308.7 112.4 L308.8 112.4 L308.9 112.5 L309.0 112.5 L309.1 112.6 L309.2 112.6 L309.3 112.6 L309.4 112.6 L309.5 112.7 L309.6 112.7 L309.7 112.7 L309.8 112.7 L309.9 112.7 L310.0 112.7 L310.1 112.7 L310.2 112.7 L310.3 112.7 L310.4 112.7 L310.5 112.7 L310.6 112.7 L310.7 112.7 L310.8 112.7 L310.9 112.7 L311.0 112.7 L311.1 112.7 L311.2 112.6 L311.3 112.6 L311.4 112.6 L311.5 112.5 L311.6 112.5 L311.7 112.4 L311.8 112.3 L311.9 112.2 L312.0 112.0 L312.1 111.9 L312.2 111.6 L312.3 111.3 L312.4 110.9 L312.5 110.3 L312.6 110.1 L312.7 110.1 L312.8 110.1 L312.9 110.1 L313.0 110.1 L313.1 110.1 L313.2 110.1 L313.3 110.1 L313.4 110.1 L313.5 110.3 L313.6 110.9 L313.7 111.3 L313.8 111.7 L313.9 111.9 L314.0 112.1 L314.1 112.3 L314.2 112.4 L314.3 112.5 L314.4 112.5 L314.5 112.6 L314.6 112.7 L314.7 112.7 L314.8 112.7 L314.9 112.8 L315.0 112.8 L315.1 112.8 L315.2 112.9 L315.3 112.9 L315.4 112.9 L315.5 112.9 L315.6 112.9 L315.7 112.9 L315.8 112.9 L315.9 113.0 L316.0 113.0 L316.1 113.0 L316.2 113.0 L316.3 113.0 L316.4 113.0 L316.5 113.0 L316.6 113.0 L316.7 113.0 L316.8 113.0 L316.9 113.0 L317.0 113.0 L317.1 113.0 L317.2 113.0 L317.3 113.0 L317.4 113.0 L317.5 113.0 L317.6 113.0 L317.7 113.1 L317.8 113.1 L317.9 113.1 L318.0 113.1 L318.1 113.1 L318.2 113.1 L318.3 113.1 L318.4 113.1 L318.5 113.1 L318.6 113.1 L318.7 113.1 L318.8 113.1 L318.9 113.1 L319.5 113.1 L320.5 113.1 L321.5 113.1 L322.5 113.1 L323.5 113.1 L324.5 113.1 L325.5 113.1 L326.5 113.1 L327.5 113.1 L328.5 113.1 L329.5 113.1 L330.5 113.1 L331.5 113.1 L332.5 113.1 L333.5 113.1 L334.5 113.1 L335.5 113.1 L336.5 113.1 L337.3 113.1 L337.4 113.1 L337.5 113.1 L337.6 113.1 L337.7 113.1 L337.8 113.1 L337.9 113.1 L338.0 113.1 L338.1 113.1 L338.2 113.1 L338.3 113.1 L338.4 113.1 L338.5 113.1 L338.6 113.1 L338.7 113.1 L338.8 113.1 L338.9 113.1 L339.0 113.1 L339.1 113.1 L339.2 113.1 L339.3 113.0 L339.4 113.0 L339.5 113.0 L339.6 113.0 L339.7 113.0 L339.8 113.0 L339.9 113.0 L340.0 113.0 L340.1 113.0 L340.2 113.0 L340.3 112.9 L340.4 112.9 L340.5 112.9 L340.6 112.9 L340.7 112.9 L340.8 112.8 L340.9 112.8 L341.0 112.8 L341.1 112.7 L341.2 112.7 L341.3 112.7 L341.4 112.6 L341.5 112.5 L341.6 112.5 L341.7 112.4 L341.8 112.3 L341.9 112.2 L342.0 112.0 L342.1 111.8 L342.2 111.6 L342.3 111.3 L342.4 110.9 L342.5 110.5 L342.6 110.2 L342.7 110.2 L342.8 110.2 L342.9 110.2 L343.0 110.2 L343.1 110.2 L343.2 110.2 L343.3 110.2 L343.4 110.2 L343.5 110.2 L343.6 110.2 L343.7 110.2 L343.8 110.2 L343.9 110.2 L344.0 110.2 L344.1 110.4 L344.2 110.9 L344.3 111.3 L344.4 111.6 L344.5 111.8 L344.6 112.0 L344.7 112.1 L344.8 112.2 L344.9 112.3 L345.0 112.4 L345.1 112.5 L345.2 112.5 L345.3 112.6 L345.4 112.6 L345.5 112.6 L345.6 112.7 L345.7 112.7 L345.8 112.7 L345.9 112.7 L346.0 112.7 L346.1 112.7 L346.2 112.8 L346.3 112.8 L346.4 112.8 L346.5 112.8 L346.6 112.7 L346.7 112.7 L346.8 112.7 L346.9 112.7 L347.0 112.7 L347.1 112.7 L347.2 112.6 L347.3 112.6 L347.4 112.6 L347.5 112.5 L347.6 112.4 L347.7 112.4 L347.8 112.3 L347.9 112.2 L348.0 112.1 L348.1 111.9 L348.2 111.7 L348.3 111.5 L348.4 111.2 L348.5 110.8 L348.6 110.3 L348.7 110.2 L348.8 110.2 L348.9 110.2 L349.0 110.2 L349.1 110.2 L349.2 110.2 L349.3 110.2 L349.4 110.2 L349.5 110.2 L349.6 110.2 L349.7 110.2 L349.8 110.2 L349.9 110.2 L350.0 110.2 L350.1 110.2 L350.2 110.3 L350.3 110.8 L350.4 111.2 L350.5 111.5 L350.6 111.8 L350.7 112.0 L350.8 112.1 L350.9 112.3 L351.0 112.4 L351.1 112.5 L351.2 112.5 L351.3 112.6 L351.4 112.7 L351.5 112.7 L351.6 112.7 L351.7 112.8 L351.8 112.8 L351.9 112.8 L352.0 112.9 L352.1 112.9 L352.2 112.9 L352.3 112.9 L352.4 113.0 L352.5 113.0 L352.6 113.0 L352.7 113.0 L352.8 113.0 L352.9 113.0 L353.0 113.0 L353.1 113.0 L353.2 113.0 L353.3 113.1 L353.4 113.1 L353.5 113.1 L353.6 113.1 L353.7 113.1 L353.8 113.1 L353.9 113.1 L354.0 113.1 L354.1 113.1 L354.2 113.1 L354.3 113.1 L354.4 113.1 L354.5 113.1 L354.6 113.1 L354.7 113.1 L354.8 113.1 L354.9 113.1 L355.0 113.1 L355.1 113.1 L355.2 113.1 L355.3 113.1 L355.5 113.1 L356.5 113.1 L356.6 113.1 L356.7 113.1 L356.8 113.1 L356.9 113.1 L357.0 113.1 L357.1 113.1 L357.2 113.1 L357.3 113.1 L357.4 113.1 L357.5 113.1 L357.6 113.1 L357.7 113.1 L357.8 113.1 L357.9 113.1 L358.0 113.1 L358.1 113.1 L358.2 113.1 L358.3 113.1 L358.4 113.1 L358.5 113.1 L358.6 113.1 L358.7 113.0 L358.8 113.0 L358.9 113.0 L359.0 113.0 L359.1 113.0 L359.2 113.0 L359.3 113.0 L359.4 113.0 L359.5 112.9 L359.6 112.9 L359.7 112.9 L359.8 112.9 L359.9 112.9 L360.0 112.8 L360.1 112.8 L360.2 112.8 L360.3 112.7 L360.4 112.7 L360.5 112.6 L360.6 112.5 L360.7 112.5 L360.8 112.4 L360.9 112.3 L361.0 112.1 L361.1 112.0 L361.2 111.8 L361.3 111.6 L361.4 111.3 L361.5 110.9 L361.6 110.5 L361.7 110.3 L361.8 110.3 L361.9 110.3 L362.0 110.3 L362.1 110.3 L362.2 110.3 L362.3 110.3 L362.4 110.3 L362.5 110.3 L362.6 110.3 L362.7 110.3 L362.8 110.3 L362.9 110.3 L363.0 110.3 L363.1 110.3 L363.2 110.3 L363.3 110.3 L363.4 110.5 L363.5 111.0 L363.6 111.3 L363.7 111.6 L363.8 111.8 L363.9 112.0 L364.0 112.2 L364.1 112.3 L364.2 112.4 L364.3 112.5 L364.4 112.6 L364.5 112.6 L364.6 112.7 L364.7 112.7 L364.8 112.8 L364.9 112.8 L365.0 112.9 L365.1 112.9 L365.2 112.9 L365.3 112.9 L365.4 113.0 L365.5 113.0 L365.6 113.0 L365.7 113.0 L365.8 113.0 L365.9 113.0 L366.0 113.1 L366.1 113.1 L366.2 113.1 L366.3 113.1 L366.4 113.1 L366.5 113.1 L366.6 113.1 L366.7 113.1 L366.8 113.1 L366.9 113.1 L367.0 113.1 L367.1 113.2 L367.2 113.2 L367.3 113.2 L367.4 113.2 L367.5 113.2 L367.6 113.2 L367.7 113.2 L367.8 113.2 L367.9 113.2 L368.0 113.2 L368.1 113.2 L368.2 113.2 L368.3 113.2 L368.4 113.2 L368.5 113.2 L369.5 113.2 L370.5 113.2 L371.5 113.3 L372.5 113.3 L373.5 113.3 L374.5 113.3 L375.5 113.3 L376.5 113.3 L377.5 113.3 L378.4 113.3 L378.5 113.3 L378.6 113.3 L378.7 113.3 L378.8 113.3 L378.9 113.3 L379.0 113.3 L379.1 113.3 L379.2 113.3 L379.3 113.3 L379.4 113.3 L379.5 113.3 L379.6 113.3 L379.7 113.3 L379.8 113.3 L379.9 113.3 L380.0 113.3 L380.1 113.3 L380.2 113.3 L380.3 113.3 L380.4 113.3 L380.5 113.2 L380.6 113.2 L380.7 113.2 L380.8 113.2 L380.9 113.2 L381.0 113.2 L381.1 113.2 L381.2 113.2 L381.3 113.2 L381.4 113.2 L381.5 113.2 L381.6 113.2 L381.7 113.2 L381.8 113.2 L381.9 113.2 L382.0 113.1 L382.1 113.1 L382.2 113.1 L382.3 113.1 L382.4 113.1 L382.5 113.0 L382.6 113.0 L382.7 113.0 L382.8 112.9 L382.9 112.9 L383.0 112.8 L383.1 112.7 L383.2 112.6 L383.3 112.5 L383.4 112.4 L383.5 112.2 L383.6 111.9 L383.7 111.6 L383.8 111.1 L383.9 110.5 L384.0 110.4 L384.1 110.4 L384.2 110.4 L384.3 110.4 L384.4 110.4 L384.5 110.4 L384.6 110.4 L384.7 110.4 L384.8 110.4 L384.9 110.5 L385.0 111.1 L385.1 111.6 L385.2 111.9 L385.3 112.2 L385.4 112.4 L385.5 112.5 L385.6 112.6 L385.7 112.7 L385.8 112.8 L385.9 112.9 L386.0 112.9 L386.1 113.0 L386.2 113.0 L386.3 113.0 L386.4 113.1 L386.5 113.1 L386.6 113.1 L386.7 113.1 L386.8 113.2 L386.9 113.2 L387.0 113.2 L387.1 113.2 L387.2 113.2 L387.3 113.2 L387.4 113.2 L387.5 113.2 L387.6 113.2 L387.7 113.2 L387.8 113.3 L387.9 113.3 L388.0 113.3 L388.1 113.3 L388.2 113.3 L388.3 113.3 L388.4 113.3 L388.5 113.3 L388.6 113.3 L388.7 113.3 L388.8 113.3 L388.9 113.3 L389.0 113.3 L389.1 113.3 L389.2 113.3 L389.3 113.3 L389.4 113.3 L389.5 113.3 L389.6 113.3 L389.7 113.3 L389.8 113.3 L389.9 113.3 L390.0 113.3 L390.1 113.3 L390.2 113.3 L390.3 113.3 L390.5 113.3 L391.5 113.3 L392.5 113.3 L393.5 113.4 L394.5 113.4 L394.6 113.4 L394.7 113.4 L394.8 113.4 L394.9 113.4 L395.0 113.4 L395.1 113.4 L395.2 113.4 L395.3 113.4 L395.4 113.4 L395.5 113.4 L395.6 113.4 L395.7 113.4 L395.8 113.4 L395.9 113.4 L396.0 113.4 L396.1 113.4 L396.2 113.4 L396.3 113.4 L396.4 113.4 L396.5 113.4 L396.6 113.4 L396.7 113.4 L396.8 113.4 L396.9 113.4 L397.0 113.4 L397.1 113.4 L397.2 113.4 L397.3 113.4 L397.4 113.3 L397.5 113.3 L397.6 113.3 L397.7 113.3 L397.8 113.3 L397.9 113.3 L398.0 113.3 L398.1 113.3 L398.2 113.3 L398.3 113.3 L398.4 113.3 L398.5 113.3 L398.6 113.3 L398.7 113.3 L398.8 113.3 L398.9 113.3 L399.0 113.3 L399.1 113.3 L399.2 113.3 L399.3 113.2 L399.4 113.2 L399.5 113.2 L399.6 113.1 L399.7 113.1 L399.8 113.0 L399.9 113.0 L400.0 112.8 L400.1 112.7 L400.2 112.5 L400.3 112.2 L400.4 111.9 L400.5 111.6 L400.6 111.5 L400.7 111.6 L400.8 111.9 L400.9 112.2 L401.0 112.5 L401.1 112.7 L401.2 112.8 L401.3 113.0 L401.4 113.0 L401.5 113.1 L401.6 113.1 L401.7 113.2 L401.8 113.2 L401.9 113.2 L402.0 113.3 L402.1 113.3 L402.2 113.3 L402.3 113.3 L402.4 113.3 L402.5 113.3 L402.6 113.3 L402.7 113.3 L402.8 113.3 L402.9 113.3 L403.0 113.3 L403.1 113.3 L403.2 113.4 L403.3 113.4 L403.4 113.4 L403.5 113.4 L403.6 113.4 L403.7 113.4 L403.8 113.4 L403.9 113.4 L404.0 113.4 L404.1 113.4 L404.2 113.4 L404.3 113.4 L404.4 113.4 L404.5 113.4 L404.6 113.4 L404.7 113.4 L404.8 113.4 L404.9 113.4 L405.0 113.4 L405.1 113.4 L405.2 113.4 L405.3 113.4 L405.4 113.4 L405.5 113.4 L405.6 113.4 L405.7 113.4 L405.8 113.4 L405.9 113.4 L406.0 113.4 L406.1 113.4 L406.2 113.4 L406.3 113.4 L406.4 113.4 L406.5 113.4 L407.5 113.4 L408.5 113.4 L409.5 113.4 L410.5 113.4 L411.5 113.4 L412.5 113.4 L413.5 113.4 L414.5 113.4 L415.5 113.4 L416.5 113.4 L417.5 113.4 L418.5 113.4 L419.5 113.4 L420.5 113.4 L421.5 113.4 L422.5 113.4 L423.5 113.4 L423.7 113.4 L423.8 113.4 L423.9 113.4 L424.0 113.4 L424.1 113.4 L424.2 113.4 L424.3 113.4 L424.4 113.4 L424.5 113.4 L424.6 113.3 L424.7 113.3 L424.8 113.3 L424.9 113.3 L425.0 113.3 L425.1 113.3 L425.2 113.3 L425.3 113.3 L425.4 113.3 L425.5 113.3 L425.6 113.3 L425.7 113.3 L425.8 113.3 L425.9 113.3 L426.0 113.3 L426.1 113.3 L426.2 113.3 L426.3 113.3 L426.4 113.2 L426.5 113.2 L426.6 113.2 L426.7 113.2 L426.8 113.2 L426.9 113.2 L427.0 113.2 L427.1 113.1 L427.2 113.1 L427.3 113.1 L427.4 113.1 L427.5 113.0 L427.6 113.0 L427.7 112.9 L427.8 112.9 L427.9 112.8 L428.0 112.8 L428.1 112.7 L428.2 112.6 L428.3 112.5 L428.4 112.3 L428.5 112.2 L428.6 111.9 L428.7 111.7 L428.8 111.3 L428.9 110.8 L429.0 110.4 L429.1 110.4 L429.2 110.4 L429.3 110.4 L429.4 110.4 L429.5 110.4 L429.6 110.4 L429.7 110.4 L429.8 110.4 L429.9 110.4 L430.0 110.4 L430.1 110.4 L430.2 110.4 L430.3 110.4 L430.4 110.4 L430.5 110.8 L430.6 111.3 L430.7 111.7 L430.8 111.9 L430.9 112.2 L431.0 112.3 L431.1 112.5 L431.2 112.6 L431.3 112.7 L431.4 112.8 L431.5 112.8 L431.6 112.9 L431.7 112.9 L431.8 113.0 L431.9 113.0 L432.0 113.1 L432.1 113.1 L432.2 113.1 L432.3 113.1 L432.4 113.2 L432.5 113.2 L432.6 113.2 L432.7 113.2 L432.8 113.2 L432.9 113.2 L433.0 113.2 L433.1 113.3 L433.2 113.3 L433.3 113.3 L433.4 113.3 L433.5 113.3 L433.6 113.3 L433.7 113.3 L433.8 113.3 L433.9 113.3 L434.0 113.3 L434.1 113.3 L434.2 113.3 L434.3 113.3 L434.4 113.3 L434.5 113.3 L434.6 113.3 L434.7 113.4 L434.8 113.4 L434.9 113.4 L435.0 113.4 L435.1 113.4 L435.2 113.4 L435.3 113.4 L435.4 113.4 L435.5 113.4 L435.6 113.4 L436.5 113.4 L437.5 113.4 L438.5 113.4 L438.7 113.4 L438.8 113.4 L438.9 113.4 L439.0 113.4 L439.1 113.4 L439.2 113.4 L439.3 113.4 L439.4 113.4 L439.5 113.4 L439.6 113.4 L439.7 113.4 L439.8 113.4 L439.9 113.4 L440.0 113.4 L440.1 113.4 L440.2 113.4 L440.3 113.4 L440.4 113.4 L440.5 113.4 L440.6 113.4 L440.7 113.4 L440.8 113.4 L440.9 113.4 L441.0 113.4 L441.1 113.4 L441.2 113.4 L441.3 113.4 L441.4 113.4 L441.5 113.3 L441.6 113.3 L441.7 113.3 L441.8 113.3 L441.9 113.3 L442.0 113.3 L442.1 113.3 L442.2 113.3 L442.3 113.3 L442.4 113.3 L442.5 113.3 L442.6 113.2 L442.7 113.2 L442.8 113.2 L442.9 113.2 L443.0 113.2 L443.1 113.1 L443.2 113.1 L443.3 113.0 L443.4 113.0 L443.5 112.9 L443.6 112.8 L443.7 112.7 L443.8 112.6 L443.9 112.4 L444.0 112.2 L444.1 111.9 L444.2 111.4 L444.3 110.8 L444.4 110.5 L444.5 110.5 L444.6 110.5 L444.7 110.5 L444.8 110.5 L444.9 110.5 L445.0 110.5 L445.1 110.8 L445.2 111.4 L445.3 111.8 L445.4 112.2 L445.5 112.4 L445.6 112.6 L445.7 112.7 L445.8 112.8 L445.9 112.9 L446.0 113.0 L446.1 113.0 L446.2 113.1 L446.3 113.1 L446.4 113.1 L446.5 113.1 L446.6 113.2 L446.7 113.2 L446.8 113.2 L446.9 113.2 L447.0 113.2 L447.1 113.2 L447.2 113.2 L447.3 113.2 L447.4 113.2 L447.5 113.2 L447.6 113.2 L447.7 113.2 L447.8 113.2 L447.9 113.2 L448.0 113.2 L448.1 113.2 L448.2 113.2 L448.3 113.2 L448.4 113.2 L448.5 113.2 L448.6 113.1 L448.7 113.1 L448.8 113.1 L448.9 113.0 L449.0 113.0 L449.1 113.0 L449.2 112.9 L449.3 112.9 L449.4 112.8 L449.5 112.7 L449.6 112.6 L449.7 112.4 L449.8 112.2 L449.9 112.0 L450.0 111.7 L450.1 111.3 L450.2 110.7 L450.3 110.5 L450.4 110.5 L450.5 110.5 L450.6 110.5 L450.7 110.5 L450.8 110.5 L450.9 110.5 L451.0 110.5 L451.1 110.5 L451.2 110.5 L451.3 110.5 L451.4 110.7 L451.5 111.3 L451.6 111.7 L451.7 112.0 L451.8 112.3 L451.9 112.4 L452.0 112.6 L452.1 112.7 L452.2 112.8 L452.3 112.9 L452.4 112.9 L452.5 113.0 L452.6 113.0 L452.7 113.1 L452.8 113.1 L452.9 113.2 L453.0 113.2 L453.1 113.2 L453.2 113.2 L453.3 113.2 L453.4 113.3 L453.5 113.3 L453.6 113.3 L453.7 113.3 L453.8 113.3 L453.9 113.3 L454.0 113.3 L454.1 113.3 L454.2 113.3 L454.3 113.3 L454.4 113.4 L454.5 113.4 L454.6 113.4 L454.7 113.4 L454.8 113.4 L454.9 113.4 L455.0 113.4 L455.1 113.4 L455.2 113.4 L455.3 113.4 L455.4 113.4 L455.5 113.4 L455.6 113.4 L455.7 113.4 L455.8 113.4 L455.9 113.4 L456.0 113.4 L456.1 113.4 L456.2 113.4 L456.3 113.4 L456.4 113.4 L456.5 113.4 L456.6 113.4 L456.7 113.4 L457.5 113.4 L458.5 113.4 L459.5 113.5 L460.5 113.5 L461.5 113.5 L462.5 113.5 L463.5 113.5 L464.5 113.5 L465.5 113.5 L466.5 113.5 L467.5 113.5 L468.5 113.5 L469.5 113.5 L470.5 113.5 L471.2 113.4 L471.3 113.4 L471.4 113.4 L471.5 113.4 L471.6 113.4 L471.7 113.4 L471.8 113.4 L471.9 113.4 L472.0 113.4 L472.1 113.4 L472.2 113.4 L472.3 113.4 L472.4 113.4 L472.5 113.4 L472.6 113.4 L472.7 113.4 L472.8 113.4 L472.9 113.4 L473.0 113.4 L473.1 113.4 L473.2 113.4 L473.3 113.4 L473.4 113.4 L473.5 113.4 L473.6 113.4 L473.7 113.4 L473.8 113.4 L473.9 113.4 L474.0 113.4 L474.1 113.4 L474.2 113.4 L474.3 113.3 L474.4 113.3 L474.5 113.3 L474.6 113.3 L474.7 113.3 L474.8 113.3 L474.9 113.3 L475.0 113.2 L475.1 113.2 L475.2 113.2 L475.3 113.2 L475.4 113.1 L475.5 113.1 L475.6 113.0 L475.7 113.0 L475.8 112.9 L475.9 112.8 L476.0 112.7 L476.1 112.6 L476.2 112.5 L476.3 112.3 L476.4 112.0 L476.5 111.7 L476.6 111.2 L476.7 110.6 L476.8 110.5 L476.9 110.5 L477.0 110.5 L477.1 110.5 L477.2 110.5 L477.3 110.5 L477.4 110.5 L477.5 110.5 L477.6 110.5 L477.7 110.6 L477.8 111.2 L477.9 111.6 L478.0 112.0 L478.1 112.2 L478.2 112.4 L478.3 112.6 L478.4 112.7 L478.5 112.8 L478.6 112.9 L478.7 113.0 L478.8 113.0 L478.9 113.0 L479.0 113.1 L479.1 113.1 L479.2 113.1 L479.3 113.2 L479.4 113.2 L479.5 113.2 L479.6 113.2 L479.7 113.2 L479.8 113.2 L479.9 113.2 L480.0 113.2 L480.1 113.2 L480.2 113.2 L480.3 113.2 L480.4 113.2 L480.5 113.2 L480.6 113.2 L480.7 113.2 L480.8 113.2 L480.9 113.2 L481.0 113.2 L481.1 113.1 L481.2 113.1 L481.3 113.1 L481.4 113.0 L481.5 113.0 L481.6 113.0 L481.7 112.9 L481.8 112.8 L481.9 112.7 L482.0 112.6 L482.1 112.5 L482.2 112.4 L482.3 112.2 L482.4 111.9 L482.5 111.6 L482.6 111.1 L482.7 110.5 L482.8 110.5 L482.9 110.5 L483.0 110.5 L483.1 110.5 L483.2 110.5 L483.3 110.5 L483.4 110.5 L483.5 110.5 L483.6 110.5 L483.7 110.5 L483.8 110.5 L483.9 110.6 L484.0 111.2 L484.1 111.6 L484.2 111.9 L484.3 112.2 L484.4 112.4 L484.5 112.5 L484.6 112.7 L484.7 112.8 L484.8 112.9 L484.9 112.9 L485.0 113.0 L485.1 113.0 L485.2 113.1 L485.3 113.1 L485.4 113.2 L485.5 113.2 L485.6 113.2 L485.7 113.2 L485.8 113.3 L485.9 113.3 L486.0 113.3 L486.1 113.3 L486.2 113.3 L486.3 113.3 L486.4 113.3 L486.5 113.3 L486.6 113.3 L486.7 113.4 L486.8 113.4 L486.9 113.4 L487.0 113.4 L487.1 113.4 L487.2 113.4 L487.3 113.4 L487.4 113.4 L487.5 113.4 L487.6 113.4 L487.7 113.4 L487.8 113.4 L487.9 113.4 L488.0 113.4 L488.1 113.4 L488.2 113.4 L488.3 113.4 L488.4 113.4 L488.5 113.4 L488.6 113.4 L488.7 113.4 L488.8 113.4 L488.9 113.4 L489.0 113.4 L489.1 113.4 L489.2 113.4 L489.3 113.4 L489.4 113.4 L489.5 113.4 L489.6 113.4 L489.7 113.4 L489.8 113.4 L489.9 113.4 L490.0 113.4 L490.1 113.4 L490.2 113.4 L490.3 113.4 L490.4 113.4 L490.5 113.4 L490.6 113.4 L490.7 113.4 L490.8 113.4 L490.9 113.4 L491.0 113.4 L491.1 113.4 L491.2 113.4 L491.3 113.4 L491.4 113.4 L491.5 113.4 L491.6 113.4 L491.7 113.4 L491.8 113.4 L491.9 113.4 L492.0 113.4 L492.1 113.3 L492.2 113.3 L492.3 113.3 L492.4 113.3 L492.5 113.3 L492.6 113.3 L492.7 113.3 L492.8 113.3 L492.9 113.2 L493.0 113.2 L493.1 113.2 L493.2 113.2 L493.3 113.1 L493.4 113.1 L493.5 113.0 L493.6 113.0 L493.7 112.9 L493.8 112.9 L493.9 112.8 L494.0 112.7 L494.1 112.5 L494.2 112.4 L494.3 112.2 L494.4 111.9 L494.5 111.5 L494.6 111.1 L494.7 110.5 L494.8 110.5 L494.9 110.5 L495.0 110.5 L495.1 110.5 L495.2 110.5 L495.3 110.5 L495.4 110.5 L495.5 110.5 L495.6 110.5 L495.7 110.5 L495.8 110.5 L495.9 110.5 L496.0 111.1 L496.1 111.5 L496.2 111.9 L496.3 112.2 L496.4 112.4 L496.5 112.5 L496.6 112.7 L496.7 112.8 L496.8 112.9 L496.9 112.9 L497.0 113.0 L497.1 113.1 L497.2 113.1 L497.3 113.1 L497.4 113.2 L497.5 113.2 L497.6 113.2 L497.7 113.3 L497.8 113.3 L497.9 113.3 L498.0 113.3 L498.1 113.3 L498.2 113.3 L498.3 113.3 L498.4 113.4 L498.5 113.4 L498.6 113.4 L498.7 113.4 L498.8 113.4 L498.9 113.4 L499.0 113.4 L499.1 113.4 L499.2 113.4 L499.3 113.4 L499.4 113.4 L499.5 113.4 L499.6 113.4 L499.7 113.4 L499.8 113.4 L499.9 113.4 L500.0 113.4 L500.1 113.4 L500.2 113.4 L500.3 113.4 L500.4 113.4 L500.5 113.4 L500.6 113.4 L500.7 113.5 L500.8 113.5 L500.9 113.5 L501.0 113.5 L501.1 113.5 L501.2 113.5 L501.3 113.5 L501.4 113.5 L501.5 113.5 L501.6 113.5 L501.7 113.5 L501.8 113.5 L501.9 113.5 L502.0 113.5 L502.1 113.5 L502.2 113.5 L502.3 113.5 L502.4 113.5 L502.5 113.4 L502.6 113.4 L502.7 113.4 L502.8 113.4 L502.9 113.4 L503.0 113.4 L503.1 113.4 L503.2 113.4 L503.3 113.4 L503.4 113.4 L503.5 113.4 L503.6 113.4 L503.7 113.4 L503.8 113.4 L503.9 113.4 L504.0 113.4 L504.1 113.4 L504.2 113.3 L504.3 113.3 L504.4 113.3 L504.5 113.3 L504.6 113.3 L504.7 113.2 L504.8 113.2 L504.9 113.1 L505.0 113.1 L505.1 113.0 L505.2 112.9 L505.3 112.8 L505.4 112.6 L505.5 112.4 L505.6 112.1 L505.7 111.7 L505.8 111.1 L505.9 110.6 L506.0 110.6 L506.1 110.6 L506.2 110.6 L506.3 110.6 L506.4 111.1 L506.5 111.6 L506.6 112.0 L506.7 112.4 L506.8 112.6 L506.9 112.7 L507.0 112.9 L507.1 113.0 L507.2 113.0 L507.3 113.1 L507.4 113.1 L507.5 113.1 L507.6 113.2 L507.7 113.2 L507.8 113.2 L507.9 113.2 L508.0 113.2 L508.1 113.2 L508.2 113.2 L508.3 113.2 L508.4 113.2 L508.5 113.1 L508.6 113.1 L508.7 113.1 L508.8 113.0 L508.9 113.0 L509.0 112.9 L509.1 112.8 L509.2 112.7 L509.3 112.6 L509.4 112.4 L509.5 112.2 L509.6 111.9 L509.7 111.5 L509.8 110.9 L509.9 110.6 L510.0 110.6 L510.1 110.6 L510.2 110.6 L510.3 110.6 L510.4 110.6 L510.5 110.6 L510.6 110.6 L510.7 110.6 L510.8 110.9 L510.9 111.5 L511.0 111.9 L511.1 112.2 L511.2 112.4 L511.3 112.6 L511.4 112.8 L511.5 112.9 L511.6 113.0 L511.7 113.0 L511.8 113.1 L511.9 113.2 L512.0 113.2 L512.1 113.2 L512.2 113.3 L512.3 113.3 L512.4 113.3 L512.5 113.3 L512.6 113.3 L512.7 113.4 L512.8 113.4 L512.9 113.4 L513.0 113.4 L513.1 113.4 L513.2 113.4 L513.3 113.4 L513.4 113.4 L513.5 113.4 L513.6 113.4 L513.7 113.5 L513.8 113.5 L513.9 113.5 L514.0 113.5 L514.1 113.5 L514.2 113.5 L514.3 113.5 L514.4 113.5 L514.5 113.5 L514.6 113.5 L514.7 113.5 L514.8 113.5 L514.9 113.5 L515.0 113.5 L515.1 113.5 L515.2 113.5 L515.3 113.5 L515.4 113.5 L515.5 113.5 L515.6 113.5 L515.7 113.5 L515.8 113.5 L515.9 113.5 L516.0 113.5 L516.1 113.5 L516.2 113.5 L516.5 113.5 L517.5 113.5 L518.5 113.5 L519.5 113.5 L520.5 113.6 L521.5 113.6 L522.5 113.6 L523.5 113.6 L524.5 113.6 L525.5 113.6 L526.5 113.6 L527.5 113.6 L528.5 113.6 L529.5 113.6 L530.5 113.6 L531.5 113.6 L532.5 113.6 L533.5 113.6 L534.5 113.6 L535.5 113.6 L536.5 113.6 L537.5 113.6 L538.5 113.6 L539.5 113.6 L540.5 113.6 L541.5 113.6 L542.5 113.6 L543.5 113.6 L544.5 113.6 L545.5 113.6 L546.5 113.6 L547.5 113.6 L548.5 113.6 L549.5 113.6 L550.5 113.6 L551.5 113.6 L552.5 113.6 L553.5 113.6 L554.5 113.6 L555.5 113.6 L556.5 113.6 L557.5 113.6 L558.5 113.6 L559.5 113.6 L560.5 113.6 L561.5 113.6 L562.5 113.6 L563.5 113.6 L564.5 113.6 L565.5 113.6 L566.5 113.6 L567.5 113.6 L568.5 113.6 L569.3 113.6 L569.4 113.6 L569.5 113.6 L569.6 113.6 L569.7 113.6 L569.8 113.5 L569.9 113.5 L570.0 113.5 L570.1 113.5 L570.2 113.5 L570.3 113.5 L570.4 113.5 L570.5 113.5 L570.6 113.5 L570.7 113.5 L570.8 113.5 L570.9 113.5 L571.0 113.5 L571.1 113.5 L571.2 113.5 L571.3 113.5 L571.4 113.5 L571.5 113.5 L571.6 113.5 L571.7 113.5 L571.8 113.5 L571.9 113.5 L572.0 113.5 L572.1 113.5 L572.2 113.4 L572.3 113.4 L572.4 113.4 L572.5 113.4 L572.6 113.4 L572.7 113.4 L572.8 113.4 L572.9 113.4 L573.0 113.3 L573.1 113.3 L573.2 113.3 L573.3 113.2 L573.4 113.2 L573.5 113.2 L573.6 113.1 L573.7 113.1 L573.8 113.0 L573.9 112.9 L574.0 112.8 L574.1 112.7 L574.2 112.5 L574.3 112.3 L574.4 112.1 L574.5 111.8 L574.6 111.3 L574.7 110.8 L574.8 110.6 L574.9 110.6 L575.0 110.6 L575.1 110.6 L575.2 110.6 L575.3 110.6 L575.4 110.6 L575.5 110.6 L575.6 110.6 L575.7 110.6 L575.8 110.6 L575.9 110.8 L576.0 111.3 L576.1 111.8 L576.2 112.1 L576.3 112.3 L576.4 112.5 L576.5 112.7 L576.6 112.8 L576.7 112.9 L576.8 113.0 L576.9 113.1 L577.0 113.1 L577.1 113.2 L577.2 113.2 L577.3 113.2 L577.4 113.3 L577.5 113.3 L577.6 113.3 L577.7 113.3 L577.8 113.4 L577.9 113.4 L578.0 113.4 L578.1 113.4 L578.2 113.4 L578.3 113.4 L578.4 113.4 L578.5 113.4 L578.6 113.5 L578.7 113.5 L578.8 113.5 L578.9 113.5 L579.0 113.5 L579.1 113.5 L579.2 113.5 L579.3 113.5 L579.4 113.5 L579.5 113.5 L579.6 113.5 L579.7 113.5 L579.8 113.5 L579.9 113.5 L580.0 113.5 L580.1 113.5 L580.2 113.5 L580.3 113.5 L580.4 113.5 L580.5 113.5 L580.6 113.5 L580.7 113.5 L580.8 113.5 L580.9 113.5 L581.0 113.5 L581.1 113.5 L581.2 113.5 L581.3 113.5 L581.4 113.5 L581.5 113.5 L581.6 113.5 L581.7 113.5 L581.8 113.5 L581.9 113.5 L582.0 113.5 L582.1 113.5 L582.2 113.5 L582.3 113.5 L582.4 113.5 L582.5 113.5 L582.6 113.5 L582.7 113.5 L582.8 113.5 L582.9 113.5 L583.0 113.4 L583.1 113.4 L583.2 113.4 L583.3 113.4 L583.4 113.4 L583.5 113.4 L583.6 113.3 L583.7 113.3 L583.8 113.3 L583.9 113.2 L584.0 113.2 L584.1 113.1 L584.2 113.0 L584.3 112.9 L584.4 112.7 L584.5 112.5 L584.6 112.3 L584.7 111.9 L584.8 111.4 L584.9 110.7 L585.0 110.6 L585.1 110.6 L585.2 110.6 L585.3 110.6 L585.4 110.6 L585.5 110.8 L585.6 111.4 L585.7 111.9 L585.8 112.3 L585.9 112.5 L586.0 112.7 L586.1 112.9 L586.2 113.0 L586.3 113.1 L586.4 113.2 L586.5 113.2 L586.6 113.3 L586.7 113.3 L586.8 113.3 L586.9 113.4 L587.0 113.4 L587.1 113.4 L587.2 113.4 L587.3 113.4 L587.4 113.5 L587.5 113.5 L587.6 113.5 L587.7 113.5 L587.8 113.5 L587.9 113.5 L588.0 113.5 L588.1 113.5 L588.2 113.5 L588.3 113.5 L588.4 113.5 L588.5 113.5 L588.6 113.5 L588.7 113.5 L588.8 113.5 L588.9 113.5 L589.0 113.5 L589.1 113.5 L589.2 113.6 L589.3 113.6 L589.4 113.6 L589.5 113.6 L589.6 113.6 L589.7 113.6 L589.8 113.6 L589.9 113.6 L590.0 113.6 L590.1 113.6 L590.2 113.6 L590.3 113.6 L590.4 113.6 L590.5 113.6 L590.6 113.6 L590.7 113.6 L590.8 113.6 L590.9 113.6 L591.0 113.6 L591.1 113.6 L591.5 113.6 L592.5 113.6 L593.5 113.6 L594.5 113.6 L595.5 113.6 L596.5 113.6 L597.5 113.6 L598.5 113.6 L599.5 113.6 L600.5 113.6 L601.5 113.6 L602.5 113.6 L603.5 113.6 L604.5 113.6 L605.5 113.6 L606.5 113.6 L607.5 113.6 L608.5 113.6 L609.5 113.6" fill="none" stroke="#8a0000" stroke-width="1.5" stroke-linejoin="round"/>
<circle cx="161.4" cy="7.0" r="1.2" fill="#ee0000"/>
<circle cx="161.3" cy="12.2" r="1.2" fill="#ee0000"/>
<circle cx="161.6" cy="25.1" r="1.2" fill="#ee0000"/>
<circle cx="161.2" cy="40.5" r="1.2" fill="#ee0000"/>
<circle cx="161.7" cy="54.6" r="1.2" fill="#ee0000"/>
<circle cx="161.0" cy="66.3" r="1.2" fill="#ee0000"/>
<circle cx="161.9" cy="75.3" r="1.2" fill="#ee0000"/>
<circle cx="160.8" cy="82.2" r="1.2" fill="#ee0000"/>
<circle cx="162.0" cy="87.5" r="1.2" fill="#ee0000"/>
<circle cx="160.7" cy="91.6" r="1.2" fill="#ee0000"/>
<circle cx="162.2" cy="94.8" r="1.2" fill="#ee0000"/>
<circle cx="160.5" cy="97.3" r="1.2" fill="#ee0000"/>
<circle cx="162.4" cy="99.4" r="1.2" fill="#ee0000"/>
<circle cx="160.4" cy="101.0" r="1.2" fill="#ee0000"/>
<circle cx="162.5" cy="102.3" r="1.2" fill="#ee0000"/>
<circle cx="160.2" cy="103.4" r="1.2" fill="#ee0000"/>
<circle cx="162.7" cy="104.4" r="1.2" fill="#ee0000"/>
<circle cx="160.0" cy="105.1" r="1.2" fill="#ee0000"/>
<circle cx="162.8" cy="105.8" r="1.2" fill="#ee0000"/>
<circle cx="159.9" cy="106.4" r="1.2" fill="#ee0000"/>
<circle cx="163.0" cy="106.9" r="1.2" fill="#ee0000"/>
<circle cx="159.7" cy="107.3" r="1.2" fill="#ee0000"/>
<circle cx="195.6" cy="51.4" r="1.2" fill="#ee0000"/>
<circle cx="195.5" cy="54.4" r="1.2" fill="#ee0000"/>
<circle cx="195.8" cy="61.9" r="1.2" fill="#ee0000"/>
<circle cx="195.4" cy="70.8" r="1.2" fill="#ee0000"/>
<circle cx="195.9" cy="79.0" r="1.2" fill="#ee0000"/>
<circle cx="195.2" cy="85.8" r="1.2" fill="#ee0000"/>
<circle cx="196.1" cy="91.0" r="1.2" fill="#ee0000"/>
<circle cx="195.0" cy="95.0" r="1.2" fill="#ee0000"/>
<circle cx="196.2" cy="98.1" r="1.2" fill="#ee0000"/>
<circle cx="194.9" cy="100.5" r="1.2" fill="#ee0000"/>
<circle cx="196.4" cy="102.3" r="1.2" fill="#ee0000"/>
<circle cx="194.7" cy="103.8" r="1.2" fill="#ee0000"/>
<circle cx="196.6" cy="104.9" r="1.2" fill="#ee0000"/>
<circle cx="194.6" cy="105.9" r="1.2" fill="#ee0000"/>
<circle cx="196.7" cy="106.7" r="1.2" fill="#ee0000"/>
<circle cx="194.4" cy="107.3" r="1.2" fill="#ee0000"/>
<circle cx="196.9" cy="107.8" r="1.2" fill="#ee0000"/>
<circle cx="220.0" cy="95.0" r="1.2" fill="#ee0000"/>
<circle cx="219.8" cy="97.7" r="1.2" fill="#ee0000"/>
<circle cx="220.3" cy="102.4" r="1.2" fill="#ee0000"/>
<circle cx="219.6" cy="105.8" r="1.2" fill="#ee0000"/>
<circle cx="220.6" cy="108.0" r="1.2" fill="#ee0000"/>
<circle cx="222.5" cy="107.0" r="1.2" fill="#ee0000"/>
<circle cx="222.3" cy="107.8" r="1.2" fill="#ee0000"/>
<circle cx="288.6" cy="48.6" r="1.2" fill="#ee0000"/>
<circle cx="288.5" cy="51.8" r="1.2" fill="#ee0000"/>
<circle cx="288.8" cy="59.7" r="1.2" fill="#ee0000"/>
<circle cx="288.4" cy="69.2" r="1.2" fill="#ee0000"/>
<circle cx="288.9" cy="77.9" r="1.2" fill="#ee0000"/>
<circle cx="288.2" cy="85.1" r="1.2" fill="#ee0000"/>
<circle cx="289.1" cy="90.7" r="1.2" fill="#ee0000"/>
<circle cx="288.0" cy="95.0" r="1.2" fill="#ee0000"/>
<circle cx="289.2" cy="98.2" r="1.2" fill="#ee0000"/>
<circle cx="287.9" cy="100.7" r="1.2" fill="#ee0000"/>
<circle cx="289.4" cy="102.7" r="1.2" fill="#ee0000"/>
<circle cx="287.7" cy="104.3" r="1.2" fill="#ee0000"/>
<circle cx="289.6" cy="105.5" r="1.2" fill="#ee0000"/>
<circle cx="287.6" cy="106.5" r="1.2" fill="#ee0000"/>
<circle cx="289.7" cy="107.3" r="1.2" fill="#ee0000"/>
<circle cx="287.4" cy="108.0" r="1.2" fill="#ee0000"/>
<circle cx="289.9" cy="108.6" r="1.2" fill="#ee0000"/>
<circle cx="287.2" cy="109.1" r="1.2" fill="#ee0000"/>
<circle cx="306.4" cy="89.4" r="1.2" fill="#ee0000"/>
<circle cx="306.2" cy="93.1" r="1.2" fill="#ee0000"/>
<circle cx="306.7" cy="99.4" r="1.2" fill="#ee0000"/>
<circle cx="305.9" cy="104.2" r="1.2" fill="#ee0000"/>
<circle cx="307.0" cy="107.1" r="1.2" fill="#ee0000"/>
<circle cx="305.6" cy="108.9" r="1.2" fill="#ee0000"/>
<circle cx="313.0" cy="105.6" r="1.2" fill="#ee0000"/>
<circle cx="312.9" cy="106.8" r="1.2" fill="#ee0000"/>
<circle cx="313.3" cy="108.8" r="1.2" fill="#ee0000"/>
<circle cx="343.3" cy="98.6" r="1.2" fill="#ee0000"/>
<circle cx="343.2" cy="100.9" r="1.2" fill="#ee0000"/>
<circle cx="343.6" cy="104.8" r="1.2" fill="#ee0000"/>
<circle cx="342.9" cy="107.7" r="1.2" fill="#ee0000"/>
<circle cx="349.4" cy="97.8" r="1.2" fill="#ee0000"/>
<circle cx="349.2" cy="100.2" r="1.2" fill="#ee0000"/>
<circle cx="349.7" cy="104.3" r="1.2" fill="#ee0000"/>
<circle cx="348.9" cy="107.4" r="1.2" fill="#ee0000"/>
<circle cx="362.5" cy="95.0" r="1.2" fill="#ee0000"/>
<circle cx="362.4" cy="97.8" r="1.2" fill="#ee0000"/>
<circle cx="362.8" cy="102.7" r="1.2" fill="#ee0000"/>
<circle cx="362.1" cy="106.4" r="1.2" fill="#ee0000"/>
<circle cx="363.1" cy="108.6" r="1.2" fill="#ee0000"/>
<circle cx="384.4" cy="105.6" r="1.2" fill="#ee0000"/>
<circle cx="384.2" cy="106.8" r="1.2" fill="#ee0000"/>
<circle cx="384.7" cy="108.9" r="1.2" fill="#ee0000"/>
<circle cx="429.7" cy="99.4" r="1.2" fill="#ee0000"/>
<circle cx="429.6" cy="101.6" r="1.2" fill="#ee0000"/>
<circle cx="430.0" cy="105.3" r="1.2" fill="#ee0000"/>
<circle cx="429.2" cy="108.1" r="1.2" fill="#ee0000"/>
<circle cx="444.7" cy="108.0" r="1.2" fill="#ee0000"/>
<circle cx="444.6" cy="108.8" r="1.2" fill="#ee0000"/>
<circle cx="450.8" cy="104.0" r="1.2" fill="#ee0000"/>
<circle cx="450.7" cy="105.5" r="1.2" fill="#ee0000"/>
<circle cx="451.1" cy="108.0" r="1.2" fill="#ee0000"/>
<circle cx="477.2" cy="105.6" r="1.2" fill="#ee0000"/>
<circle cx="477.1" cy="106.8" r="1.2" fill="#ee0000"/>
<circle cx="477.5" cy="109.0" r="1.2" fill="#ee0000"/>
<circle cx="483.3" cy="103.3" r="1.2" fill="#ee0000"/>
<circle cx="483.2" cy="104.9" r="1.2" fill="#ee0000"/>
<circle cx="483.6" cy="107.6" r="1.2" fill="#ee0000"/>
<circle cx="495.3" cy="102.8" r="1.2" fill="#ee0000"/>
<circle cx="495.2" cy="104.5" r="1.2" fill="#ee0000"/>
<circle cx="495.6" cy="107.3" r="1.2" fill="#ee0000"/>
<circle cx="494.9" cy="109.5" r="1.2" fill="#ee0000"/>
<circle cx="510.3" cy="106.4" r="1.2" fill="#ee0000"/>
<circle cx="510.2" cy="107.5" r="1.2" fill="#ee0000"/>
<circle cx="510.6" cy="109.4" r="1.2" fill="#ee0000"/>
<circle cx="575.3" cy="103.7" r="1.2" fill="#ee0000"/>
<circle cx="575.1" cy="105.2" r="1.2" fill="#ee0000"/>
<circle cx="575.6" cy="107.9" r="1.2" fill="#ee0000"/>
<circle cx="585.2" cy="109.0" r="1.2" fill="#ee0000"/>
<path d="M50.5 135.8 L51.0 135.6 L51.5 135.5 L52.0 135.2 L52.5 135.5 L53.0 135.4 L53.5 135.5 L54.0 135.4 L54.5 135.5 L55.0 135.4 L55.5 135.3 L56.0 135.6 L56.5 135.6 L57.0 135.8 L57.5 135.5 L58.0 135.4 L58.5 135.4 L59.0 135.3 L59.5 135.6 L60.0 135.3 L60.5 135.3 L61.0 135.5 L61.5 135.7 L62.0 135.5 L62.5 135.3 L63.0 135.4 L63.5 135.6 L64.0 135.5 L64.5 135.4 L65.0 135.5 L65.5 135.6 L66.0 135.8 L66.5 135.3 L67.0 135.4 L67.5 135.4 L68.0 135.1 L68.5 135.4 L69.0 135.3 L69.5 135.7 L70.0 135.5 L70.5 135.3 L71.0 135.6 L71.5 135.4 L72.0 135.2 L72.5 135.4 L73.0 135.4 L73.5 135.4 L74.0 135.5 L74.5 135.2 L75.0 135.5 L75.5 135.7 L76.0 135.6 L76.5 135.7 L77.0 135.7 L77.5 135.7 L78.0 135.3 L78.5 135.6 L79.0 135.2 L79.5 135.4 L80.0 135.2 L80.5 135.7 L81.0 135.7 L81.5 135.5 L82.0 135.8 L82.5 135.4 L83.0 135.5 L83.5 135.5 L84.0 135.3 L84.5 135.6 L85.0 135.8 L85.5 135.3 L86.0 135.6 L86.5 135.5 L87.0 135.8 L87.5 135.6 L88.0 135.6 L88.5 135.6 L89.0 135.5 L89.5 135.3 L90.0 135.7 L90.5 135.3 L91.0 135.5 L91.5 135.6 L92.0 135.4 L92.5 135.5 L93.0 135.7 L93.5 135.5 L94.0 135.4 L94.5 135.1 L95.0 135.4 L95.5 135.4 L96.0 135.4 L96.5 135.4 L97.0 135.6 L97.5 135.4 L98.0 135.5 L98.5 135.6 L99.0 135.4 L99.5 135.5 L100.0 135.8 L100.5 135.6 L101.0 135.3 L101.5 135.5 L102.0 135.6 L102.5 135.7 L103.0 135.5 L103.5 135.4 L104.0 135.4 L104.5 135.6 L105.0 135.5 L105.5 135.4 L106.0 135.5 L106.5 135.4 L107.0 135.6 L107.5 135.4 L108.0 135.6 L108.5 135.6 L109.0 135.6 L109.5 135.4 L110.0 135.7 L110.5 135.4 L111.0 135.6 L111.5 135.4 L112.0 135.2 L112.5 135.5 L113.0 135.5 L113.5 135.5 L114.0 135.5 L114.5 135.4 L115.0 135.4 L115.5 135.5 L116.0 135.8 L116.5 135.6 L117.0 135.4 L117.5 135.6 L118.0 135.4 L118.5 135.4 L119.0 135.6 L119.5 135.4 L120.0 135.2 L120.5 135.4 L121.0 135.5 L121.5 135.5 L122.0 135.7 L122.5 135.4 L123.0 135.6 L123.5 135.6 L124.0 135.5 L124.5 135.6 L125.0 135.6 L125.5 135.4 L126.0 135.7 L126.5 135.3 L127.0 135.5 L127.5 135.5 L128.0 135.6 L128.5 135.4 L129.0 135.5 L129.5 135.5 L130.0 135.6 L130.5 135.4 L131.0 135.5 L131.5 135.5 L132.0 135.3 L132.5 135.9 L133.0 135.5 L133.5 135.3 L134.0 135.7 L134.5 135.3 L135.0 135.6 L135.5 135.6 L136.0 135.4 L136.5 135.4 L137.0 135.4 L137.5 135.5 L138.0 135.3 L138.5 135.3 L139.0 135.5 L139.5 135.7 L140.0 135.6 L140.5 135.8 L141.0 135.6 L141.5 135.4 L142.0 135.5 L142.5 135.2 L143.0 135.4 L143.5 135.3 L144.0 135.5 L144.5 135.6 L145.0 135.4 L145.5 135.4 L146.0 135.3 L146.5 135.5 L147.0 135.5 L147.5 135.6 L148.0 135.4 L148.5 135.8 L149.0 135.7 L149.5 135.5 L150.0 135.4 L150.5 135.5 L151.0 135.5 L151.5 135.5 L152.0 135.6 L152.5 135.6 L153.0 135.7 L153.5 135.7 L154.0 135.5 L154.5 135.6 L155.0 135.4 L155.5 135.4 L156.0 135.8 L156.5 135.4 L157.0 135.8 L157.5 135.4 L158.0 135.5 L158.5 135.7 L159.0 135.5 L159.5 135.6 L160.0 135.5 L160.5 135.4 L161.0 135.5 L161.5 129.4 L162.0 141.7 L162.5 135.5 L163.0 135.8 L163.5 135.1 L164.0 135.5 L164.5 135.6 L165.0 135.5 L165.5 135.7 L166.0 135.6 L166.5 135.5 L167.0 135.6 L167.5 135.9 L168.0 135.5 L168.5 135.5 L169.0 135.4 L169.5 135.5 L170.0 135.3 L170.5 135.5 L171.0 135.9 L171.5 135.7 L172.0 135.6 L172.5 135.7 L173.0 135.8 L173.5 135.6 L174.0 135.8 L174.5 135.7 L175.0 135.5 L175.5 135.8 L176.0 135.1 L176.5 135.4 L177.0 135.5 L177.5 135.4 L178.0 135.5 L178.5 135.4 L179.0 135.4 L179.5 135.9 L180.0 135.6 L180.5 135.5 L181.0 135.7 L181.5 135.5 L182.0 135.6 L182.5 135.6 L183.0 135.7 L183.5 135.3 L184.0 135.6 L184.5 135.5 L185.0 135.3 L185.5 135.7 L186.0 135.4 L186.5 135.7 L187.0 135.6 L187.5 135.6 L188.0 135.5 L188.5 135.6 L189.0 135.2 L189.5 135.5 L190.0 135.4 L190.5 135.5 L191.0 135.5 L191.5 135.6 L192.0 135.4 L192.5 135.8 L193.0 135.8 L193.5 135.5 L194.0 135.5 L194.5 135.5 L195.0 135.7 L195.5 133.8 L196.0 136.8 L196.5 135.4 L197.0 135.3 L197.5 135.3 L198.0 135.3 L198.5 135.6 L199.0 135.3 L199.5 135.7 L200.0 135.6 L200.5 135.3 L201.0 135.3 L201.5 135.4 L202.0 135.7 L202.5 135.4 L203.0 135.3 L203.5 135.5 L204.0 135.6 L204.5 135.4 L205.0 135.7 L205.5 135.5 L206.0 135.6 L206.5 135.4 L207.0 135.5 L207.5 135.5 L208.0 135.2 L208.5 135.5 L209.0 135.2 L209.5 135.5 L210.0 135.3 L210.5 135.8 L211.0 135.5 L211.5 135.6 L212.0 135.6 L212.5 135.3 L213.0 135.2 L213.5 135.5 L214.0 135.6 L214.5 135.5 L215.0 135.6 L215.5 135.6 L216.0 135.3 L216.5 135.5 L217.0 135.8 L217.5 135.4 L218.0 135.2 L218.5 135.5 L219.0 135.4 L219.5 135.6 L220.0 134.4 L220.5 136.5 L221.0 135.2 L221.5 135.6 L222.0 135.7 L222.5 134.7 L223.0 135.3 L223.5 135.5 L224.0 135.1 L224.5 135.5 L225.0 135.5 L225.5 135.4 L226.0 135.6 L226.5 135.5 L227.0 135.6 L227.5 135.5 L228.0 135.5 L228.5 135.2 L229.0 135.3 L229.5 135.4 L230.0 135.5 L230.5 135.5 L231.0 135.7 L231.5 135.4 L232.0 135.5 L232.5 135.5 L233.0 135.5 L233.5 135.6 L234.0 135.4 L234.5 135.7 L235.0 135.5 L235.5 135.7 L236.0 135.5 L236.5 135.7 L237.0 135.3 L237.5 135.6 L238.0 135.4 L238.5 135.5 L239.0 135.7 L239.5 135.3 L240.0 135.3 L240.5 135.4 L241.0 135.5 L241.5 135.2 L242.0 135.5 L242.5 135.3 L243.0 135.3 L243.5 135.4 L244.0 134.6 L244.5 135.4 L245.0 135.4 L245.5 135.5 L246.0 135.5 L246.5 135.1 L247.0 135.4 L247.5 135.5 L248.0 135.7 L248.5 135.8 L249.0 135.6 L249.5 135.5 L250.0 135.4 L250.5 135.5 L251.0 135.6 L251.5 135.7 L252.0 135.4 L252.5 135.5 L253.0 135.6 L253.5 135.8 L254.0 135.5 L254.5 135.4 L255.0 135.4 L255.5 135.4 L256.0 135.4 L256.5 135.6 L257.0 135.7 L257.5 135.6 L258.0 135.7 L258.5 135.4 L259.0 135.6 L259.5 135.4 L260.0 135.5 L260.5 135.7 L261.0 135.5 L261.5 135.2 L262.0 135.5 L262.5 135.4 L263.0 135.3 L263.5 135.4 L264.0 135.6 L264.5 135.8 L265.0 135.4 L265.5 135.7 L266.0 135.7 L266.5 135.3 L267.0 135.5 L267.5 135.5 L268.0 135.5 L268.5 135.3 L269.0 135.4 L269.5 135.7 L270.0 135.7 L270.5 135.8 L271.0 135.4 L271.5 135.8 L272.0 135.6 L272.5 135.3 L273.0 135.6 L273.5 135.4 L274.0 135.6 L274.5 135.5 L275.0 135.7 L275.5 135.5 L276.0 135.5 L276.5 135.6 L277.0 135.5 L277.5 135.4 L278.0 135.7 L278.5 135.4 L279.0 135.4 L279.5 135.4 L280.0 135.3 L280.5 135.4 L281.0 135.8 L281.5 135.4 L282.0 135.5 L282.5 135.3 L283.0 135.4 L283.5 135.7 L284.0 135.6 L284.5 135.4 L285.0 135.5 L285.5 135.4 L286.0 135.4 L286.5 135.4 L287.0 135.4 L287.5 135.5 L288.0 135.6 L288.5 133.1 L289.0 137.0 L289.5 135.3 L290.0 135.5 L290.5 135.4 L291.0 135.6 L291.5 135.6 L292.0 135.6 L292.5 135.4 L293.0 135.2 L293.5 135.6 L294.0 135.7 L294.5 135.3 L295.0 135.5 L295.5 135.7 L296.0 135.3 L296.5 135.8 L297.0 135.4 L297.5 135.3 L298.0 135.7 L298.5 135.5 L299.0 135.4 L299.5 135.6 L300.0 135.2 L300.5 135.8 L301.0 135.4 L301.5 135.5 L302.0 135.4 L302.5 135.6 L303.0 135.6 L303.5 135.4 L304.0 135.6 L304.5 135.5 L305.0 135.4 L305.5 135.5 L306.0 135.3 L306.5 141.4 L307.0 134.6 L307.5 135.5 L308.0 135.7 L308.5 135.6 L309.0 135.3 L309.5 135.2 L310.0 135.4 L310.5 135.5 L311.0 135.5 L311.5 135.4 L312.0 135.7 L312.5 135.2 L313.0 136.3 L313.5 135.5 L314.0 135.8 L314.5 135.6 L315.0 135.3 L315.5 135.6 L316.0 135.6 L316.5 135.6 L317.0 135.4 L317.5 135.4 L318.0 135.5 L318.5 135.6 L319.0 135.7 L319.5 135.8 L320.0 135.4 L320.5 135.4 L321.0 135.5 L321.5 135.5 L322.0 135.6 L322.5 135.6 L323.0 135.5 L323.5 135.7 L324.0 135.5 L324.5 135.3 L325.0 135.3 L325.5 135.3 L326.0 135.3 L326.5 135.2 L327.0 135.6 L327.5 135.5 L328.0 135.4 L328.5 135.4 L329.0 135.3 L329.5 135.4 L330.0 135.8 L330.5 135.2 L331.0 135.5 L331.5 135.6 L332.0 135.5 L332.5 135.5 L333.0 135.6 L333.5 135.3 L334.0 135.6 L334.5 135.7 L335.0 135.3 L335.5 135.4 L336.0 135.5 L336.5 135.6 L337.0 135.7 L337.5 135.6 L338.0 135.4 L338.5 135.3 L339.0 135.5 L339.5 135.6 L340.0 135.3 L340.5 135.5 L341.0 135.5 L341.5 135.7 L342.0 135.4 L342.5 135.6 L343.0 134.3 L343.5 136.4 L344.0 135.5 L344.5 135.7 L345.0 136.0 L345.5 135.5 L346.0 135.6 L346.5 135.7 L347.0 135.3 L347.5 135.6 L348.0 135.3 L348.5 135.7 L349.0 135.7 L349.5 136.6 L350.0 135.4 L350.5 135.8 L351.0 135.5 L351.5 135.5 L352.0 135.6 L352.5 135.2 L353.0 135.6 L353.5 135.6 L354.0 135.6 L354.5 135.5 L355.0 135.4 L355.5 135.6 L356.0 135.5 L356.5 135.5 L357.0 135.4 L357.5 135.6 L358.0 135.7 L358.5 135.6 L359.0 135.6 L359.5 135.7 L360.0 135.7 L360.5 135.5 L361.0 135.5 L361.5 135.4 L362.0 135.5 L362.5 137.1 L363.0 134.1 L363.5 135.4 L364.0 135.5 L364.5 135.4 L365.0 135.7 L365.5 135.4 L366.0 135.6 L366.5 135.4 L367.0 135.5 L367.5 135.4 L368.0 135.8 L368.5 135.6 L369.0 135.5 L369.5 135.4 L370.0 135.4 L370.5 135.6 L371.0 135.7 L371.5 135.3 L372.0 135.4 L372.5 135.5 L373.0 135.4 L373.5 135.3 L374.0 135.5 L374.5 135.6 L375.0 135.3 L375.5 135.5 L376.0 135.6 L376.5 135.6 L377.0 135.4 L377.5 135.8 L378.0 135.6 L378.5 135.4 L379.0 135.6 L379.5 135.3 L380.0 135.6 L380.5 135.3 L381.0 135.6 L381.5 135.4 L382.0 135.7 L382.5 135.6 L383.0 135.6 L383.5 135.5 L384.0 135.7 L384.5 134.2 L385.0 135.6 L385.5 135.6 L386.0 135.6 L386.5 135.6 L387.0 136.1 L387.5 135.5 L388.0 135.6 L388.5 135.5 L389.0 135.7 L389.5 135.2 L390.0 135.8 L390.5 135.4 L391.0 135.2 L391.5 135.3 L392.0 135.5 L392.5 135.5 L393.0 135.5 L393.5 135.6 L394.0 135.5 L394.5 135.5 L395.0 135.2 L395.5 135.6 L396.0 135.7 L396.5 135.4 L397.0 135.2 L397.5 135.3 L398.0 135.8 L398.5 135.4 L399.0 135.4 L399.5 135.4 L400.0 135.6 L400.5 134.4 L401.0 135.4 L401.5 135.3 L402.0 135.5 L402.5 135.7 L403.0 135.5 L403.5 135.6 L404.0 135.5 L404.5 135.5 L405.0 135.5 L405.5 135.5 L406.0 135.7 L406.5 135.6 L407.0 135.4 L407.5 135.5 L408.0 135.5 L408.5 135.6 L409.0 135.5 L409.5 135.6 L410.0 135.3 L410.5 135.6 L411.0 135.7 L411.5 135.3 L412.0 135.7 L412.5 135.5 L413.0 135.5 L413.5 135.2 L414.0 135.7 L414.5 135.4 L415.0 135.4 L415.5 135.6 L416.0 135.3 L416.5 135.4 L417.0 135.3 L417.5 135.5 L418.0 135.6 L418.5 135.6 L419.0 135.6 L419.5 135.4 L420.0 135.5 L420.5 135.4 L421.0 135.8 L421.5 135.5 L422.0 135.2 L422.5 135.3 L423.0 135.7 L423.5 135.3 L424.0 135.4 L424.5 135.6 L425.0 135.3 L425.5 135.7 L426.0 135.8 L426.5 135.4 L427.0 135.7 L427.5 135.4 L428.0 135.4 L428.5 135.5 L429.0 135.5 L429.5 136.4 L430.0 135.6 L430.5 135.3 L431.0 135.4 L431.5 135.3 L432.0 135.6 L432.5 135.6 L433.0 135.6 L433.5 135.3 L434.0 135.5 L434.5 135.6 L435.0 135.3 L435.5 135.4 L436.0 135.6 L436.5 135.6 L437.0 135.5 L437.5 135.6 L438.0 135.5 L438.5 135.5 L439.0 135.5 L439.5 135.4 L440.0 135.5 L440.5 135.4 L441.0 135.8 L441.5 135.5 L442.0 135.5 L442.5 135.5 L443.0 135.5 L443.5 135.5 L444.0 135.6 L444.5 136.5 L445.0 134.6 L445.5 135.4 L446.0 135.6 L446.5 135.6 L447.0 135.3 L447.5 135.5 L448.0 135.5 L448.5 135.4 L449.0 135.4 L449.5 135.2 L450.0 135.7 L450.5 135.4 L451.0 136.3 L451.5 135.6 L452.0 135.2 L452.5 135.6 L453.0 135.6 L453.5 135.6 L454.0 135.5 L454.5 135.3 L455.0 135.2 L455.5 135.7 L456.0 135.4 L456.5 135.4 L457.0 135.7 L457.5 135.4 L458.0 135.5 L458.5 135.5 L459.0 135.5 L459.5 135.3 L460.0 135.4 L460.5 135.7 L461.0 135.6 L461.5 135.1 L462.0 135.2 L462.5 135.6 L463.0 135.5 L463.5 135.4 L464.0 135.7 L464.5 135.2 L465.0 135.7 L465.5 135.5 L466.0 135.6 L466.5 135.5 L467.0 135.6 L467.5 135.5 L468.0 135.4 L468.5 135.6 L469.0 135.5 L469.5 135.3 L470.0 135.7 L470.5 135.7 L471.0 135.7 L471.5 135.5 L472.0 135.6 L472.5 135.4 L473.0 135.4 L473.5 135.5 L474.0 135.5 L474.5 135.4 L475.0 135.8 L475.5 135.3 L476.0 135.4 L476.5 135.4 L477.0 134.7 L477.5 136.5 L478.0 135.5 L478.5 135.4 L479.0 135.4 L479.5 135.3 L480.0 135.7 L480.5 135.6 L481.0 135.6 L481.5 135.4 L482.0 135.9 L482.5 135.4 L483.0 135.2 L483.5 134.5 L484.0 135.5 L484.5 135.6 L485.0 135.3 L485.5 135.6 L486.0 135.8 L486.5 135.4 L487.0 135.4 L487.5 135.2 L488.0 135.5 L488.5 135.6 L489.0 135.6 L489.5 135.6 L490.0 135.7 L490.5 135.5 L491.0 135.6 L491.5 135.4 L492.0 135.4 L492.5 135.5 L493.0 135.4 L493.5 135.6 L494.0 135.7 L494.5 135.6 L495.0 135.4 L495.5 134.4 L496.0 135.7 L496.5 135.4 L497.0 135.5 L497.5 135.5 L498.0 135.5 L498.5 135.7 L499.0 135.4 L499.5 135.3 L500.0 135.7 L500.5 135.5 L501.0 135.6 L501.5 135.5 L502.0 135.6 L502.5 135.7 L503.0 135.7 L503.5 135.5 L504.0 135.4 L504.5 135.6 L505.0 135.5 L505.5 135.6 L506.0 136.4 L506.5 135.2 L507.0 135.6 L507.5 135.6 L508.0 135.6 L508.5 135.7 L509.0 135.6 L509.5 135.4 L510.0 135.6 L510.5 136.5 L511.0 135.7 L511.5 135.5 L512.0 135.6 L512.5 135.5 L513.0 135.5 L513.5 135.3 L514.0 135.5 L514.5 135.2 L515.0 135.6 L515.5 135.6 L516.0 135.8 L516.5 135.6 L517.0 135.4 L517.5 135.3 L518.0 135.8 L518.5 135.3 L519.0 135.6 L519.5 135.2 L520.0 135.5 L520.5 135.6 L521.0 135.5 L521.5 135.5 L522.0 135.4 L522.5 135.4 L523.0 135.7 L523.5 135.6 L524.0 135.5 L524.5 135.5 L525.0 135.4 L525.5 135.7 L526.0 135.7 L526.5 135.4 L527.0 135.5 L527.5 135.7 L528.0 135.4 L528.5 135.8 L529.0 135.7 L529.5 135.5 L530.0 135.6 L530.5 135.7 L531.0 135.3 L531.5 135.6 L532.0 135.5 L532.5 135.5 L533.0 135.6 L533.5 135.4 L534.0 135.3 L534.5 135.3 L535.0 135.5 L535.5 135.6 L536.0 135.5 L536.5 135.5 L537.0 135.5 L537.5 135.7 L538.0 135.6 L538.5 135.4 L539.0 135.5 L539.5 135.7 L540.0 135.4 L540.5 135.4 L541.0 135.5 L541.5 135.3 L542.0 135.6 L542.5 135.2 L543.0 135.7 L543.5 135.4 L544.0 135.3 L544.5 135.5 L545.0 135.2 L545.5 135.6 L546.0 135.6 L546.5 135.4 L547.0 135.4 L547.5 135.6 L548.0 135.4 L548.5 135.5 L549.0 135.6 L549.5 135.7 L550.0 135.4 L550.5 135.5 L551.0 135.7 L551.5 135.1 L552.0 135.5 L552.5 135.2 L553.0 135.2 L553.5 135.8 L554.0 135.5 L554.5 135.7 L555.0 135.5 L555.5 135.6 L556.0 135.4 L556.5 135.4 L557.0 135.5 L557.5 135.5 L558.0 135.7 L558.5 135.5 L559.0 135.6 L559.5 135.5 L560.0 135.5 L560.5 135.3 L561.0 135.7 L561.5 135.4 L562.0 135.5 L562.5 135.5 L563.0 135.6 L563.5 135.6 L564.0 135.5 L564.5 135.5 L565.0 135.6 L565.5 135.6 L566.0 135.6 L566.5 135.7 L567.0 135.7 L567.5 135.6 L568.0 135.3 L568.5 135.8 L569.0 135.8 L569.5 135.4 L570.0 135.4 L570.5 135.2 L571.0 135.6 L571.5 135.3 L572.0 135.8 L572.5 135.1 L573.0 135.5 L573.5 135.6 L574.0 135.4 L574.5 135.4 L575.0 135.5 L575.5 136.4 L576.0 135.4 L576.5 135.5 L577.0 135.4 L577.5 135.5 L578.0 135.6 L578.5 135.4 L579.0 135.5 L579.5 135.4 L580.0 135.6 L580.5 135.3 L581.0 135.6 L581.5 135.0 L582.0 135.4 L582.5 135.3 L583.0 135.7 L583.5 135.5 L584.0 135.3 L584.5 135.4 L585.0 134.7 L585.5 135.5 L586.0 135.6 L586.5 135.3 L587.0 135.3 L587.5 135.6 L588.0 135.8 L588.5 135.4 L589.0 135.6 L589.5 135.4 L590.0 135.7 L590.5 135.4 L591.0 135.4 L591.5 135.2 L592.0 135.4 L592.5 135.5 L593.0 135.7 L593.5 135.3 L594.0 135.6 L594.5 135.4 L595.0 135.5 L595.5 135.4 L596.0 135.2 L596.5 135.3 L597.0 135.7 L597.5 135.3 L598.0 135.4 L598.5 135.7 L599.0 135.2 L599.5 135.6 L600.0 135.4 L600.5 135.5 L601.0 135.6 L601.5 135.5 L602.0 135.5 L602.5 135.6 L603.0 135.6 L603.5 135.4 L604.0 135.5 L604.5 135.3 L605.0 135.7 L605.5 135.3 L606.0 135.5 L606.5 135.8 L607.0 135.6 L607.5 135.4 L608.0 135.4 L608.5 135.4 L609.0 135.6 L609.5 135.5 L610.0 135.5" fill="none" stroke="#3c3cff" stroke-width="1.25" stroke-linejoin="round"/>
<path d="M161.5 121.8v7.2" stroke="#008000" stroke-width="1.4"/>
<path d="M195.8 121.8v7.2" stroke="#008000" stroke-width="1.4"/>
<path d="M219.8 121.8v7.2" stroke="#008000" stroke-width="1.4"/>
<path d="M222.6 121.8v7.2" stroke="#008000" stroke-width="1.4"/>
<path d="M243.6 121.8v7.2" stroke="#008000" stroke-width="1.4"/>
<path d="M288.8 121.8v7.2" stroke="#008000" stroke-width="1.4"/>
<path d="M306.4 121.8v7.2" stroke="#008000" stroke-width="1.4"/>
<path d="M312.8 121.8v7.2" stroke="#008000" stroke-width="1.4"/>
<path d="M343.3 121.8v7.2" stroke="#008000" stroke-width="1.4"/>
<path d="M345.5 121.8v7.2" stroke="#008000" stroke-width="1.4"/>
<path d="M349.5 121.8v7.2" stroke="#008000" stroke-width="1.4"/>
<path d="M362.7 121.8v7.2" stroke="#008000" stroke-width="1.4"/>
<path d="M379.7 121.8v7.2" stroke="#008000" stroke-width="1.4"/>
<path d="M384.3 121.8v7.2" stroke="#008000" stroke-width="1.4"/>
<path d="M395.3 121.8v7.2" stroke="#008000" stroke-width="1.4"/>
<path d="M401.1 121.8v7.2" stroke="#008000" stroke-width="1.4"/>
<path d="M430.0 121.8v7.2" stroke="#008000" stroke-width="1.4"/>
<path d="M444.6 121.8v7.2" stroke="#008000" stroke-width="1.4"/>
<path d="M451.0 121.8v7.2" stroke="#008000" stroke-width="1.4"/>
<path d="M461.4 121.8v7.2" stroke="#008000" stroke-width="1.4"/>
<path d="M477.2 121.8v7.2" stroke="#008000" stroke-width="1.4"/>
<path d="M483.1 121.8v7.2" stroke="#008000" stroke-width="1.4"/>
<path d="M495.2 121.8v7.2" stroke="#008000" stroke-width="1.4"/>
<path d="M506.6 121.8v7.2" stroke="#008000" stroke-width="1.4"/>
<path d="M511.2 121.8v7.2" stroke="#008000" stroke-width="1.4"/>
<path d="M523.2 121.8v7.2" stroke="#008000" stroke-width="1.4"/>
<path d="M532.6 121.8v7.2" stroke="#008000" stroke-width="1.4"/>
<path d="M545.4 121.8v7.2" stroke="#008000" stroke-width="1.4"/>
<path d="M575.2 121.8v7.2" stroke="#008000" stroke-width="1.4"/>
<path d="M585.4 121.8v7.2" stroke="#008000" stroke-width="1.4"/>
<path d="M597.2 121.8v7.2" stroke="#008000" stroke-width="1.4"/>
<rect x="45.3" y="0.8" width="570.3" height="148.4" fill="none" stroke="#000" stroke-width="1.3"/>
<path d="M122.2 149.2v-3.8M122.2 0.8v3.8" stroke="#000" stroke-width="1.0"/>
<path d="M218.9 149.2v-3.8M218.9 0.8v3.8" stroke="#000" stroke-width="1.0"/>
<path d="M315.6 149.2v-3.8M315.6 0.8v3.8" stroke="#000" stroke-width="1.0"/>
<path d="M412.3 149.2v-3.8M412.3 0.8v3.8" stroke="#000" stroke-width="1.0"/>
<path d="M509 149.2v-3.8M509 0.8v3.8" stroke="#000" stroke-width="1.0"/>
<path d="M605.7 149.2v-3.8M605.7 0.8v3.8" stroke="#000" stroke-width="1.0"/>
<path d="M49.7 149.2v-2.0M49.7 0.8v2.0" stroke="#000" stroke-width="0.8"/>
<path d="M73.8 149.2v-2.0M73.8 0.8v2.0" stroke="#000" stroke-width="0.8"/>
<path d="M98 149.2v-2.0M98 0.8v2.0" stroke="#000" stroke-width="0.8"/>
<path d="M146.4 149.2v-2.0M146.4 0.8v2.0" stroke="#000" stroke-width="0.8"/>
<path d="M170.6 149.2v-2.0M170.6 0.8v2.0" stroke="#000" stroke-width="0.8"/>
<path d="M194.7 149.2v-2.0M194.7 0.8v2.0" stroke="#000" stroke-width="0.8"/>
<path d="M243.1 149.2v-2.0M243.1 0.8v2.0" stroke="#000" stroke-width="0.8"/>
<path d="M267.2 149.2v-2.0M267.2 0.8v2.0" stroke="#000" stroke-width="0.8"/>
<path d="M291.4 149.2v-2.0M291.4 0.8v2.0" stroke="#000" stroke-width="0.8"/>
<path d="M339.8 149.2v-2.0M339.8 0.8v2.0" stroke="#000" stroke-width="0.8"/>
<path d="M363.9 149.2v-2.0M363.9 0.8v2.0" stroke="#000" stroke-width="0.8"/>
<path d="M388.1 149.2v-2.0M388.1 0.8v2.0" stroke="#000" stroke-width="0.8"/>
<path d="M436.5 149.2v-2.0M436.5 0.8v2.0" stroke="#000" stroke-width="0.8"/>
<path d="M460.6 149.2v-2.0M460.6 0.8v2.0" stroke="#000" stroke-width="0.8"/>
<path d="M484.8 149.2v-2.0M484.8 0.8v2.0" stroke="#000" stroke-width="0.8"/>
<path d="M533.2 149.2v-2.0M533.2 0.8v2.0" stroke="#000" stroke-width="0.8"/>
<path d="M557.4 149.2v-2.0M557.4 0.8v2.0" stroke="#000" stroke-width="0.8"/>
<path d="M581.5 149.2v-2.0M581.5 0.8v2.0" stroke="#000" stroke-width="0.8"/>
<path d="M45.3 141.1h3.8M615.6 141.1h-3.8" stroke="#000" stroke-width="1.0"/>
<path d="M45.3 113.7h3.8M615.6 113.7h-3.8" stroke="#000" stroke-width="1.0"/>
<path d="M45.3 86.3h3.8M615.6 86.3h-3.8" stroke="#000" stroke-width="1.0"/>
<path d="M45.3 58.9h3.8M615.6 58.9h-3.8" stroke="#000" stroke-width="1.0"/>
<path d="M45.3 31.5h3.8M615.6 31.5h-3.8" stroke="#000" stroke-width="1.0"/>
<path d="M45.3 4.1h3.8M615.6 4.1h-3.8" stroke="#000" stroke-width="1.0"/>
<text x="122.2" y="160.2" font-size="12.3" text-anchor="middle" fill="#000" stroke="#000" stroke-width="0.15" font-family="Liberation Sans" textLength="14.2" lengthAdjust="spacingAndGlyphs">20</text>
<text x="218.9" y="160.2" font-size="12.3" text-anchor="middle" fill="#000" stroke="#000" stroke-width="0.15" font-family="Liberation Sans" textLength="14.2" lengthAdjust="spacingAndGlyphs">40</text>
<text x="315.6" y="160.2" font-size="12.3" text-anchor="middle" fill="#000" stroke="#000" stroke-width="0.15" font-family="Liberation Sans" textLength="14.2" lengthAdjust="spacingAndGlyphs">60</text>
<text x="412.3" y="160.2" font-size="12.3" text-anchor="middle" fill="#000" stroke="#000" stroke-width="0.15" font-family="Liberation Sans" textLength="14.2" lengthAdjust="spacingAndGlyphs">80</text>
<text x="509" y="160.2" font-size="12.3" text-anchor="middle" fill="#000" stroke="#000" stroke-width="0.15" font-family="Liberation Sans" textLength="21.5" lengthAdjust="spacingAndGlyphs">100</text>
<text x="605.7" y="160.2" font-size="12.3" text-anchor="middle" fill="#000" stroke="#000" stroke-width="0.15" font-family="Liberation Sans" textLength="21.5" lengthAdjust="spacingAndGlyphs">120</text>
<text x="42.2" y="145.1" font-size="12.3" text-anchor="end" fill="#000" stroke="#000" stroke-width="0.15" font-family="Liberation Sans" textLength="23.5" lengthAdjust="spacingAndGlyphs">−20</text>
<text x="42.2" y="117.7" font-size="12.3" text-anchor="end" fill="#000" stroke="#000" stroke-width="0.15" font-family="Liberation Sans" textLength="6.5" lengthAdjust="spacingAndGlyphs">0</text>
<text x="42.2" y="90.3" font-size="12.3" text-anchor="end" fill="#000" stroke="#000" stroke-width="0.15" font-family="Liberation Sans" textLength="14" lengthAdjust="spacingAndGlyphs">20</text>
<text x="42.2" y="62.9" font-size="12.3" text-anchor="end" fill="#000" stroke="#000" stroke-width="0.15" font-family="Liberation Sans" textLength="14" lengthAdjust="spacingAndGlyphs">40</text>
<text x="42.2" y="35.5" font-size="12.3" text-anchor="end" fill="#000" stroke="#000" stroke-width="0.15" font-family="Liberation Sans" textLength="14" lengthAdjust="spacingAndGlyphs">60</text>
<text x="42.2" y="8.1" font-size="12.3" text-anchor="end" fill="#000" stroke="#000" stroke-width="0.15" font-family="Liberation Sans" textLength="14" lengthAdjust="spacingAndGlyphs">80</text>
<text x="330.4" y="173.3" font-size="12.3" text-anchor="middle" fill="#000" stroke="#000" stroke-width="0.15" font-family="Liberation Sans" textLength="35.3" lengthAdjust="spacingAndGlyphs">2Θ (°)</text>
<text transform="translate(11.2,74.6) rotate(-90)" font-size="12" text-anchor="middle" stroke="#000" stroke-width="0.15" font-family="Liberation Sans" textLength="107" lengthAdjust="spacingAndGlyphs">Intensity (10<tspan dy="-4.5" font-size="9">3</tspan><tspan dy="4.5">a.u.)</tspan></text>
<text x="50.8" y="14.8" font-size="13.5" text-anchor="start" fill="#000" stroke="#000" stroke-width="0.15" font-family="Liberation Serif">a)</text>
<rect x="485.8" y="6.2" width="124" height="68.8" rx="2" fill="#fff" fill-opacity="0.85" stroke="#d8d8d8" stroke-width="0.8"/>
<circle cx="544" cy="16.5" r="0.0"/>
<circle cx="500.8" cy="16.2" r="1.2" fill="#ff0000"/>
<path d="M490 32.3h21.7" stroke="#555" stroke-width="1.3"/>
<path d="M490 48.8h21.7" stroke="#7a7aff" stroke-width="1.1"/>
<path d="M500.8 61.6v6.8" stroke="#008000" stroke-width="1.5"/>
<text x="520.8" y="19.8" font-size="12.3" text-anchor="start" fill="#000" stroke="#000" stroke-width="0.15" font-family="Liberation Sans" textLength="30" lengthAdjust="spacingAndGlyphs">y-obs</text>
<text x="520.8" y="36.4" font-size="12.3" text-anchor="start" fill="#000" stroke="#000" stroke-width="0.15" font-family="Liberation Sans" textLength="31.5" lengthAdjust="spacingAndGlyphs">y-calc</text>
<text x="520.8" y="52.8" font-size="12.3" text-anchor="start" fill="#000" stroke="#000" stroke-width="0.15" font-family="Liberation Sans" textLength="71.5" lengthAdjust="spacingAndGlyphs">y-obs - y-calc</text>
<text x="520.8" y="69" font-size="12.3" text-anchor="start" fill="#000" stroke="#000" stroke-width="0.15" font-family="Liberation Sans" textLength="84.5" lengthAdjust="spacingAndGlyphs">Bragg positions</text>
<path d="M48.7 322.1 L49.6 322.1 L50.4 322.1 L51.3 322.1 L52.2 322.1 L53.1 322.1 L53.9 322.1 L54.8 322.1 L55.7 322.1 L56.6 322.1 L57.4 322.1 L58.3 322.1 L59.2 322.1 L60.1 322.1 L60.9 322.1 L61.8 322.1 L62.7 322.1 L63.6 322.1 L64.4 322.1 L65.3 322.1 L66.2 322.1 L67.1 322.0 L67.9 322.0 L68.8 322.0 L69.7 322.0 L70.6 322.0 L71.4 321.9 L72.3 321.9 L73.2 321.9 L74.1 321.8 L74.9 321.8 L75.8 321.8 L76.7 321.7 L77.6 321.7 L78.4 321.7 L79.3 321.6 L80.2 321.6 L81.1 321.5 L81.9 321.5 L82.8 321.4 L83.7 321.4 L84.6 321.3 L85.4 321.2 L86.3 321.1 L87.2 321.0 L88.1 320.9 L88.9 320.8 L89.8 320.7 L90.7 320.6 L91.6 320.5 L92.4 320.3 L93.3 320.2 L94.2 320.1 L95.1 320.0 L95.9 319.8 L96.8 319.7 L97.7 319.5 L98.6 319.4 L99.4 319.3 L100.3 319.1 L101.2 318.9 L102.1 318.7 L102.9 318.5 L103.8 318.3 L104.7 318.1 L105.6 317.9 L106.4 317.7 L107.3 317.4 L108.2 317.2 L109.1 317.0 L109.9 316.7 L110.8 316.5 L111.7 316.2 L112.6 316.0 L113.4 315.7 L114.3 315.5 L115.2 315.2 L116.1 315.0 L116.9 314.7 L117.8 314.5 L118.7 314.2 L119.5 313.9 L120.4 313.7 L121.3 313.4 L122.2 313.1 L123.0 312.8 L123.9 312.5 L124.8 312.2 L125.7 311.9 L126.5 311.6 L127.4 311.3 L128.3 311.0 L129.2 310.7 L130.0 310.4 L130.9 310.0 L131.8 309.7 L132.7 309.4 L133.5 309.1 L134.4 308.8 L135.3 308.4 L136.2 308.1 L137.0 307.8 L137.9 307.4 L138.8 307.1 L139.7 306.7 L140.5 306.4 L141.4 306.0 L142.3 305.7 L143.2 305.3 L144.0 305.0 L144.9 304.6 L145.8 304.2 L146.7 303.9 L147.5 303.5 L148.4 303.1 L149.3 302.7 L150.2 302.3 L151.0 301.9 L151.9 301.5 L152.8 301.1 L153.7 300.7 L154.5 300.3 L155.4 299.8 L156.3 299.4 L157.2 299.0 L158.0 298.5 L158.9 298.0 L159.8 297.5 L160.7 297.1 L161.5 296.6 L162.4 296.1 L163.3 295.6 L164.2 295.0 L165.0 294.5 L165.9 294.0 L166.8 293.5 L167.7 293.0 L168.5 292.4 L169.4 291.9 L170.3 291.4 L171.2 290.8 L172.0 290.3 L172.9 289.7 L173.8 289.2 L174.7 288.7 L175.5 288.1 L176.4 287.6 L177.3 287.1 L178.2 286.5 L179.0 286.0 L179.9 285.5 L180.8 284.9 L181.7 284.4 L182.5 283.8 L183.4 283.3 L184.3 282.7 L185.2 282.2 L186.0 281.6 L186.9 281.1 L187.8 280.5 L188.7 279.9 L189.5 279.4 L190.4 278.8 L191.3 278.2 L192.1 277.7 L193.0 277.1 L193.9 276.5 L194.8 276.0 L195.6 275.4 L196.5 274.8 L197.4 274.2 L198.3 273.6 L199.1 273.1 L200.0 272.5 L200.9 271.9 L201.8 271.3 L202.6 270.7 L203.5 270.1 L204.4 269.5 L205.3 268.9 L206.1 268.3 L207.0 267.7 L207.9 267.1 L208.8 266.5 L209.6 265.9 L210.5 265.3 L211.4 264.7 L212.3 264.1 L213.1 263.4 L214.0 262.8 L214.9 262.2 L215.8 261.6 L216.6 260.9 L217.5 260.3 L218.4 259.7 L219.3 259.1 L220.1 258.4 L221.0 257.8 L221.9 257.2 L222.8 256.5 L223.6 255.9 L224.5 255.2 L225.4 254.6 L226.3 253.9 L227.1 253.3 L228.0 252.6 L228.9 252.0 L229.8 251.3 L230.6 250.7 L231.5 250.0 L232.4 249.4 L233.3 248.7 L234.1 248.0 L235.0 247.4 L235.9 246.7 L236.8 246.0 L237.6 245.3 L238.5 244.7 L239.4 244.0 L240.3 243.3 L241.1 242.6 L242.0 241.9 L242.9 241.3 L243.8 240.6 L244.6 239.9 L245.5 239.2 L246.4 238.5 L247.3 237.8 L248.1 237.1 L249.0 236.4 L249.9 235.7 L250.8 234.9 L251.6 234.2 L252.5 233.5 L253.4 232.8 L254.3 232.1 L255.1 231.4 L256.0 230.6 L256.9 229.9 L257.8 229.2 L258.6 228.5 L259.5 227.8 L260.4 227.1 L261.3 226.3 L262.1 225.6 L263.0 224.9 L263.9 224.2 L264.7 223.5 L265.6 222.8 L266.5 222.1 L267.4 221.3 L268.2 220.6 L269.1 219.9 L270.0 219.2 L270.9 218.5 L271.7 217.8 L272.6 217.1 L273.5 216.4 L274.4 215.6 L275.2 214.9 L276.1 214.2 L277.0 213.5 L277.9 212.8 L278.7 212.1 L279.6 211.4 L280.5 210.7 L281.4 210.0 L282.2 209.2 L283.1 208.5 L284.0 207.8 L284.9 207.1 L285.7 206.4 L286.6 205.7 L287.5 205.1 L288.4 204.4 L289.2 203.7 L290.1 203.0 L291.0 202.3 L291.9 201.6 L292.7 200.9 L293.6 200.2 L294.5 199.5 L295.4 198.8 L296.2 198.1 L297.1 197.5 L298.0 196.8 L298.9 196.1 L299.7 195.4 L300.6 194.7 L301.5 194.1 L302.4 193.4 L303.2 192.7 L304.1 192.0 L305.0 191.3 L305.9 190.7 L306.7 190.0 L307.6 189.3" fill="none" stroke="#0000ff" stroke-width="1.5" stroke-linejoin="round"/>
<path d="M48.7 321.4 L49.6 322.3 L50.4 322.2 L51.3 322.2 L52.2 322.0 L53.1 322.0 L53.9 322.2 L54.8 321.9 L55.7 322.0 L56.6 322.2 L57.4 322.7 L58.3 321.9 L59.2 322.3 L60.1 322.3 L60.9 322.1 L61.8 322.4 L62.7 322.3 L63.6 322.1 L64.4 322.2 L65.3 322.0 L66.2 322.3 L67.1 322.1 L67.9 322.3 L68.8 322.1 L69.7 322.0 L70.6 322.1 L71.4 322.4 L72.3 322.0 L73.2 321.9 L74.1 321.6 L74.9 321.9 L75.8 322.0 L76.7 322.1 L77.6 321.3 L78.4 322.0 L79.3 322.0 L80.2 321.8 L81.1 322.2 L81.9 321.4 L82.8 321.5 L83.7 321.4 L84.6 321.7 L85.4 321.5 L86.3 321.1 L87.2 321.0 L88.1 320.4 L88.9 320.7 L89.8 321.4 L90.7 320.8 L91.6 320.8 L92.4 320.3 L93.3 320.5 L94.2 320.2 L95.1 320.3 L95.9 319.9 L96.8 319.6 L97.7 320.0 L98.6 320.2 L99.4 319.8 L100.3 319.0 L101.2 319.2 L102.1 319.1 L102.9 319.1 L103.8 318.4 L104.7 318.4 L105.6 318.3 L106.4 318.2 L107.3 317.9 L108.2 317.7 L109.1 317.2 L109.9 316.8 L110.8 317.4 L111.7 317.1 L112.6 316.5 L113.4 316.2 L114.3 316.4 L115.2 315.9 L116.1 315.6 L116.9 315.4 L117.8 315.2 L118.7 314.8 L119.5 314.3 L120.4 314.1 L121.3 313.9 L122.2 313.7 L123.0 313.7 L123.9 313.4 L124.8 312.8 L125.7 312.7 L126.5 312.3 L127.4 312.1 L128.3 311.9 L129.2 311.5 L130.0 311.7 L130.9 311.1 L131.8 310.9 L132.7 310.2 L133.5 310.3 L134.4 309.8 L135.3 309.6 L136.2 309.1 L137.0 308.7 L137.9 308.6 L138.8 308.2 L139.7 307.8 L140.5 307.4 L141.4 307.3 L142.3 306.9 L143.2 306.6 L144.0 306.4 L144.9 305.8 L145.8 305.3 L146.7 305.3 L147.5 304.3 L148.4 304.5 L149.3 303.8 L150.2 303.5 L151.0 303.6 L151.9 302.8 L152.8 302.8 L153.7 302.0 L154.5 301.4 L155.4 300.7 L156.3 300.5 L157.2 300.7 L158.0 299.9 L158.9 299.0 L159.8 298.8 L160.7 298.0 L161.5 298.1 L162.4 297.6 L163.3 297.3 L164.2 296.5 L165.0 295.6 L165.9 295.7 L166.8 294.7 L167.7 294.3 L168.5 293.7 L169.4 293.4 L170.3 292.8 L171.2 291.7 L172.0 292.1 L172.9 291.0 L173.8 290.3 L174.7 290.1 L175.5 289.2 L176.4 289.1 L177.3 288.6 L178.2 288.1 L179.0 287.6 L179.9 287.0 L180.8 286.5 L181.7 286.0 L182.5 285.4 L183.4 284.9 L184.3 284.4 L185.2 283.8 L186.0 283.3 L186.9 282.8 L187.8 282.2 L188.7 281.7 L189.5 281.1 L190.4 280.6 L191.3 280.0 L192.1 279.5 L193.0 278.9 L193.9 278.4 L194.8 277.8 L195.6 277.2 L196.5 276.7 L197.4 276.1 L198.3 275.6 L199.1 275.0 L200.0 274.4 L200.9 273.8 L201.8 273.3 L202.6 272.7 L203.5 272.1 L204.4 271.5 L205.3 271.0 L206.1 270.4 L207.0 269.8 L207.9 269.2 L208.8 268.6 L209.6 268.0 L210.5 267.4 L211.4 266.8 L212.3 266.2 L213.1 265.6 L214.0 265.0 L214.9 264.4 L215.8 263.8 L216.6 263.2 L217.5 262.6 L218.4 262.0 L219.3 261.3 L220.1 260.7 L221.0 260.1 L221.9 259.5 L222.8 258.8 L223.6 258.2 L224.5 257.6 L225.4 256.9 L226.3 256.3 L227.1 255.7 L228.0 255.0 L228.9 254.4 L229.8 253.7 L230.6 253.1 L231.5 252.4 L232.4 251.7 L233.3 251.1 L234.1 250.4 L235.0 249.8 L235.9 249.1 L236.8 248.4 L237.6 247.8 L238.5 247.1 L239.4 246.4 L240.3 245.7 L241.1 245.0 L242.0 244.4 L242.9 243.7 L243.8 243.0 L244.6 242.3 L245.5 241.6 L246.4 240.9 L247.3 240.2 L248.1 239.4 L249.0 238.7 L249.9 238.0 L250.8 237.3 L251.6 236.6 L252.5 235.8 L253.4 235.1 L254.3 234.4 L255.1 233.7 L256.0 232.9 L256.9 232.2 L257.8 231.5 L258.6 230.7 L259.5 230.0 L260.4 229.3 L261.3 228.5 L262.1 227.8 L263.0 227.1 L263.9 226.4 L264.7 225.6 L265.6 224.9 L266.5 224.2 L267.4 223.4 L268.2 222.7 L269.1 222.0 L270.0 221.2 L270.9 220.5 L271.7 219.8 L272.6 219.0 L273.5 218.3 L274.4 217.6 L275.2 216.8 L276.1 216.1 L277.0 215.4 L277.9 214.6 L278.7 213.9 L279.6 213.2 L280.5 212.4 L281.4 211.7 L282.2 211.0 L283.1 210.3 L284.0 209.5 L284.9 208.8 L285.7 208.1 L286.6 207.4 L287.5 206.7 L288.4 205.9 L289.2 205.2 L290.1 204.5 L291.0 203.8 L291.9 203.1 L292.7 202.4 L293.6 201.6 L294.5 200.9 L295.4 200.2 L296.2 199.5 L297.1 198.8 L298.0 198.1 L298.9 197.4 L299.7 196.7 L300.6 196.0 L301.5 195.3 L302.4 194.6 L303.2 193.9 L304.1 193.1 L305.0 192.4 L305.9 191.7 L306.7 191.0 L307.6 190.3" fill="none" stroke="#ff0000" stroke-width="1.5" stroke-linejoin="round"/>
<rect x="45.2" y="183" width="262.9" height="146.9" fill="none" stroke="#000" stroke-width="1.3"/>
<path d="M45.2 329.9v-3.8M45.2 183v3.8" stroke="#000" stroke-width="1.0"/>
<path d="M88.9 329.9v-3.8M88.9 183v3.8" stroke="#000" stroke-width="1.0"/>
<path d="M132.7 329.9v-3.8M132.7 183v3.8" stroke="#000" stroke-width="1.0"/>
<path d="M176.4 329.9v-3.8M176.4 183v3.8" stroke="#000" stroke-width="1.0"/>
<path d="M220.1 329.9v-3.8M220.1 183v3.8" stroke="#000" stroke-width="1.0"/>
<path d="M263.9 329.9v-3.8M263.9 183v3.8" stroke="#000" stroke-width="1.0"/>
<path d="M307.6 329.9v-3.8M307.6 183v3.8" stroke="#000" stroke-width="1.0"/>
<path d="M45.2 323.1h3.8M308.1 323.1h-3.8" stroke="#000" stroke-width="1.0"/>
<path d="M45.2 297.7h3.8M308.1 297.7h-3.8" stroke="#000" stroke-width="1.0"/>
<path d="M45.2 272.4h3.8M308.1 272.4h-3.8" stroke="#000" stroke-width="1.0"/>
<path d="M45.2 247h3.8M308.1 247h-3.8" stroke="#000" stroke-width="1.0"/>
<path d="M45.2 221.7h3.8M308.1 221.7h-3.8" stroke="#000" stroke-width="1.0"/>
<path d="M45.2 196.3h3.8M308.1 196.3h-3.8" stroke="#000" stroke-width="1.0"/>
<text x="45.2" y="341.3" font-size="12.3" text-anchor="middle" fill="#000" stroke="#000" stroke-width="0.15" font-family="Liberation Sans" textLength="6.5" lengthAdjust="spacingAndGlyphs">0</text>
<text x="88.9" y="341.3" font-size="12.3" text-anchor="middle" fill="#000" stroke="#000" stroke-width="0.15" font-family="Liberation Sans" textLength="14.2" lengthAdjust="spacingAndGlyphs">50</text>
<text x="132.7" y="341.3" font-size="12.3" text-anchor="middle" fill="#000" stroke="#000" stroke-width="0.15" font-family="Liberation Sans" textLength="21.5" lengthAdjust="spacingAndGlyphs">100</text>
<text x="176.4" y="341.3" font-size="12.3" text-anchor="middle" fill="#000" stroke="#000" stroke-width="0.15" font-family="Liberation Sans" textLength="21.5" lengthAdjust="spacingAndGlyphs">150</text>
<text x="220.1" y="341.3" font-size="12.3" text-anchor="middle" fill="#000" stroke="#000" stroke-width="0.15" font-family="Liberation Sans" textLength="21.5" lengthAdjust="spacingAndGlyphs">200</text>
<text x="263.9" y="341.3" font-size="12.3" text-anchor="middle" fill="#000" stroke="#000" stroke-width="0.15" font-family="Liberation Sans" textLength="21.5" lengthAdjust="spacingAndGlyphs">250</text>
<text x="307.6" y="341.3" font-size="12.3" text-anchor="middle" fill="#000" stroke="#000" stroke-width="0.15" font-family="Liberation Sans" textLength="21.5" lengthAdjust="spacingAndGlyphs">300</text>
<text x="41.9" y="327.1" font-size="12.3" text-anchor="end" fill="#000" stroke="#000" stroke-width="0.15" font-family="Liberation Sans" textLength="17.3" lengthAdjust="spacingAndGlyphs">0.0</text>
<text x="41.9" y="301.7" font-size="12.3" text-anchor="end" fill="#000" stroke="#000" stroke-width="0.15" font-family="Liberation Sans" textLength="17.3" lengthAdjust="spacingAndGlyphs">0.2</text>
<text x="41.9" y="276.4" font-size="12.3" text-anchor="end" fill="#000" stroke="#000" stroke-width="0.15" font-family="Liberation Sans" textLength="17.3" lengthAdjust="spacingAndGlyphs">0.4</text>
<text x="41.9" y="251" font-size="12.3" text-anchor="end" fill="#000" stroke="#000" stroke-width="0.15" font-family="Liberation Sans" textLength="17.3" lengthAdjust="spacingAndGlyphs">0.6</text>
<text x="41.9" y="225.7" font-size="12.3" text-anchor="end" fill="#000" stroke="#000" stroke-width="0.15" font-family="Liberation Sans" textLength="17.3" lengthAdjust="spacingAndGlyphs">0.8</text>
<text x="41.9" y="200.3" font-size="12.3" text-anchor="end" fill="#000" stroke="#000" stroke-width="0.15" font-family="Liberation Sans" textLength="17.3" lengthAdjust="spacingAndGlyphs">1.0</text>
<text x="176.2" y="354.2" font-size="12.3" text-anchor="middle" fill="#000" stroke="#000" stroke-width="0.15" font-family="Liberation Sans" textLength="27.5" lengthAdjust="spacingAndGlyphs">T (K)</text>
<text transform="translate(17.6,256.5) rotate(-90)" font-size="11.5" text-anchor="middle" stroke="#000" stroke-width="0.15" font-family="Liberation Sans" textLength="39.7" lengthAdjust="spacingAndGlyphs"><tspan font-style="italic">ρ</tspan>/<tspan font-style="italic">ρ</tspan><tspan dy="2.5" font-size="8">290<tspan font-style="italic">K</tspan></tspan></text>
<text x="50.8" y="195.6" font-size="13.5" text-anchor="start" fill="#000" stroke="#000" stroke-width="0.15" font-family="Liberation Serif">b)</text>
<rect x="226.5" y="285.5" width="75.3" height="38.4" rx="2" fill="#fff" fill-opacity="0.85" stroke="#d8d8d8" stroke-width="0.8"/>
<path d="M230.5 295.3h25.2" stroke="#0000ff" stroke-width="1.5"/>
<path d="M230.5 312.8h25.2" stroke="#ff0000" stroke-width="1.5"/>
<text x="265" y="299.2" font-size="12.3" text-anchor="start" fill="#000" stroke="#000" stroke-width="0.15" font-family="Liberation Sans" textLength="31" lengthAdjust="spacingAndGlyphs">[100]</text>
<text x="265" y="316.2" font-size="12.3" text-anchor="start" fill="#000" stroke="#000" stroke-width="0.15" font-family="Liberation Sans" textLength="31" lengthAdjust="spacingAndGlyphs">[001]</text>
<path d="M61.6 431.5 L61.7 432.1 L61.7 432.6 L61.8 432.7 L61.8 433.3 L61.9 433.1 L61.9 433.6 L62.0 433.6 L62.1 435.0 L62.1 436.1 L62.2 436.6 L62.2 436.0 L62.3 437.0 L62.4 437.7 L62.4 437.6 L62.5 437.5 L62.6 439.1 L62.6 438.9 L62.7 439.3 L62.8 440.5 L62.9 440.5 L63.0 441.1 L63.1 441.8 L63.2 441.6 L63.3 441.7 L63.4 442.8 L63.5 443.0 L63.6 443.7 L63.8 444.0 L63.9 444.0 L64.1 444.7 L64.2 445.0 L64.4 445.4 L64.5 445.9 L64.7 446.5 L64.9 446.9 L65.1 446.8 L65.3 447.8 L65.5 447.5 L65.8 449.2 L66.0 448.6 L66.2 449.2 L66.5 450.1 L66.7 449.9 L67.0 449.9" fill="none" stroke="#ff0000" stroke-width="3.3" stroke-linejoin="round"/>
<path d="M67.0 449.9 L67.3 450.2 L67.6 451.1 L67.9 451.5 L68.2 452.0 L68.5 452.1 L68.8 452.2 L69.1 452.8 L69.5 453.4 L69.8 452.9 L70.2 454.7 L70.6 453.5 L70.9 454.4 L71.3 454.8 L71.7 454.7 L72.1 454.6 L72.5 455.0 L72.9 455.4 L73.3 454.1 L73.8 455.4 L74.2 455.2 L74.6 455.2 L75.1 455.6 L75.5 455.8 L76.0 456.0 L76.4 455.7 L76.9 456.4 L77.3 455.3 L77.8 455.8 L78.2 455.8 L78.7 456.3 L79.1 456.1 L79.6 456.5 L80.1 456.1 L80.5 456.9 L81.0 456.8 L81.4 456.3 L81.9 456.0 L82.3 456.2 L82.8 456.1 L83.2 457.0 L83.7 456.9 L84.1 456.2 L84.6 457.3 L85.0 456.5 L85.5 455.8 L85.9 456.9 L86.4 457.0 L86.8 456.5 L87.3 456.1 L87.7 456.8 L88.1 456.1 L88.6 456.2 L89.0 456.3 L89.5 456.1 L89.9 455.8 L90.3 455.5 L90.7 456.0 L91.2 454.8 L91.6 455.5 L92.0 455.4 L92.4 455.3 L92.8 454.8 L93.3 454.9 L93.7 454.9 L94.1 454.1 L94.5 454.3 L94.9 454.2 L95.3 453.5 L95.8 453.4 L96.2 454.2 L96.6 453.8 L97.0 453.0 L97.4 453.4 L97.9 453.1 L98.3 453.3 L98.7 453.1 L99.1 451.7 L99.5 452.3 L100.0 452.7 L100.4 452.7 L100.8 451.8 L101.2 451.4 L101.7 451.8 L102.1 451.4 L102.5 451.4 L103.0 450.9 L103.4 451.5 L103.8 451.3 L104.3 451.1 L104.7 450.5 L105.1 450.1 L105.5 450.2 L106.0 450.7 L106.4 449.7 L106.8 450.5 L107.3 450.8 L107.7 449.8 L108.1 449.8 L108.6 450.1 L109.0 450.0 L109.4 449.4 L109.9 449.4 L110.3 449.4 L110.7 449.1 L111.2 449.3 L111.6 449.1 L112.0 449.4 L112.5 448.2 L112.9 449.1 L113.3 448.8 L113.8 448.4 L114.2 448.5 L114.6 448.5 L115.1 448.2 L115.5 447.9 L115.9 448.0 L116.4 447.5 L116.8 447.2 L117.2 447.2 L117.6 447.1 L118.1 447.3 L118.5 447.4 L118.9 447.1 L119.4 447.4 L119.8 446.7 L120.2 446.4 L120.7 446.2 L121.1 446.1 L121.5 446.1 L121.9 446.6 L122.4 445.5 L122.8 446.0 L123.2 445.7 L123.6 445.9 L124.1 445.3 L124.5 445.6 L124.9 445.0 L125.4 445.3 L125.8 444.2 L126.2 445.0 L126.6 444.9 L127.1 444.0 L127.5 444.7 L127.9 443.8 L128.3 444.5 L128.8 444.0 L129.2 444.1 L129.6 443.8 L130.0 443.1 L130.5 443.9 L130.9 443.7 L131.3 442.7 L131.7 443.2 L132.1 443.0 L132.6 442.4 L133.0 442.2 L133.4 442.8 L133.8 442.1 L134.3 442.4 L134.7 442.6 L135.1 441.9 L135.5 441.3 L135.9 441.8 L136.4 440.8 L136.8 440.9 L137.2 442.0 L137.6 440.6 L138.0 440.8 L138.5 440.2 L138.9 440.4 L139.3 440.3 L139.7 439.2 L140.1 439.7 L140.6 440.0 L141.0 439.9 L141.4 439.6 L141.8 439.0 L142.2 439.3 L142.7 438.8 L143.1 438.6 L143.5 438.7 L143.9 439.3 L144.3 438.1 L144.8 438.6 L145.2 438.2 L145.6 437.4 L146.0 437.5 L146.4 437.6 L146.9 437.3 L147.3 437.4 L147.7 436.8 L148.1 436.6 L148.5 437.2 L149.0 436.7 L149.4 436.2 L149.8 436.4 L150.2 436.9 L150.6 435.9 L151.1 435.4 L151.5 436.1 L151.9 436.3 L152.3 435.9 L152.7 434.8 L153.2 434.4 L153.6 435.4 L154.0 434.8 L154.4 434.9 L154.8 434.5 L155.2 435.0 L155.7 434.2 L156.1 433.9 L156.5 433.9 L156.9 433.3 L157.3 433.6 L157.8 433.4 L158.2 432.5 L158.6 432.7 L159.0 432.5 L159.4 432.2 L159.9 432.8 L160.3 432.9 L160.7 432.4 L161.1 431.6 L161.5 431.4 L161.9 432.1 L162.4 431.6 L162.8 431.5 L163.2 430.9 L163.6 430.5 L164.0 431.8 L164.5 430.7 L164.9 430.7 L165.3 430.2 L165.7 430.9 L166.1 430.1 L166.5 430.0 L167.0 429.9 L167.4 429.7 L167.8 430.1 L168.2 428.8 L168.6 429.5 L169.0 428.9 L169.5 428.8 L169.9 428.6 L170.3 428.8 L170.7 428.0 L171.1 428.1 L171.5 428.3 L172.0 427.7 L172.4 427.6 L172.8 427.7 L173.2 427.5 L173.6 427.2 L174.0 427.1 L174.4 426.6 L174.9 427.1 L175.3 426.2 L175.7 425.9 L176.1 426.4 L176.5 425.7 L176.9 425.6 L177.4 425.7 L177.8 425.9 L178.2 425.3 L178.6 425.1 L179.0 424.9 L179.4 425.1 L179.8 424.6 L180.2 424.7 L180.7 424.9 L181.1 424.2 L181.5 423.9 L181.9 423.6 L182.3 423.5 L182.7 423.1 L183.1 423.0 L183.5 423.0 L184.0 423.1 L184.4 423.0 L184.8 422.5 L185.2 422.6 L185.6 421.9 L186.0 422.9 L186.4 422.8 L186.8 421.8 L187.2 421.8 L187.7 421.5 L188.1 421.5 L188.5 420.9 L188.9 420.4 L189.3 421.0 L189.7 420.2 L190.1 420.5 L190.5 419.9 L190.9 419.7 L191.4 420.2 L191.8 420.2 L192.2 419.4 L192.6 419.2 L193.0 419.2 L193.4 418.8 L193.8 418.2 L194.2 418.6 L194.6 417.6 L195.0 418.4 L195.4 417.9 L195.9 417.9 L196.3 417.2 L196.7 417.2 L197.1 417.5 L197.5 417.6 L197.9 417.2 L198.3 416.9 L198.7 416.2 L199.1 416.6 L199.5 416.3 L199.9 415.9 L200.3 416.3 L200.8 415.4 L201.2 416.1 L201.6 415.1 L202.0 414.9 L202.4 414.9 L202.8 414.3 L203.2 414.4 L203.6 414.4 L204.0 413.6 L204.4 413.7 L204.8 413.3 L205.2 413.5 L205.6 413.8 L206.0 413.1 L206.4 413.0 L206.9 413.0 L207.3 412.3 L207.7 412.6 L208.1 412.1 L208.5 411.9 L208.9 411.4 L209.3 411.5 L209.7 411.9 L210.1 411.8 L210.5 411.1 L210.9 411.0 L211.3 410.7 L211.7 410.3 L212.1 409.8 L212.5 410.9 L212.9 409.7 L213.4 410.0 L213.8 410.2 L214.2 409.4 L214.6 409.3 L215.0 409.2 L215.4 408.8 L215.8 408.8 L216.2 408.5 L216.6 408.8 L217.0 408.4 L217.4 407.6 L217.8 407.4 L218.2 407.4 L218.6 407.2 L219.0 407.0 L219.4 407.4 L219.8 406.6 L220.2 406.5 L220.7 406.5 L221.1 405.6 L221.5 406.3 L221.9 406.1 L222.3 406.2 L222.7 405.2 L223.1 405.2 L223.5 405.2 L223.9 404.9 L224.3 404.3 L224.7 404.9 L225.1 404.3 L225.5 404.3 L225.9 403.7 L226.3 404.2 L226.7 403.5 L227.1 403.2 L227.5 403.6 L227.9 403.5 L228.3 402.6 L228.8 403.1 L229.2 403.1 L229.6 402.4 L230.0 401.6 L230.4 402.2 L230.8 402.1 L231.2 401.2 L231.6 402.0 L232.0 401.1 L232.4 401.0 L232.8 401.2 L233.2 400.7 L233.6 400.9 L234.0 400.2 L234.4 400.2 L234.8 399.9 L235.2 399.8 L235.6 399.7 L236.0 399.5 L236.5 399.0 L236.9 399.2 L237.3 398.7 L237.7 399.0 L238.1 398.6 L238.5 398.1 L238.9 397.7 L239.3 397.8 L239.7 398.1 L240.1 397.5 L240.5 397.6 L240.9 397.0 L241.3 396.7 L241.7 396.4 L242.1 395.8 L242.5 396.4 L242.9 396.1 L243.3 395.9 L243.8 396.0 L244.2 395.2 L244.6 395.9 L245.0 394.6 L245.4 395.1 L245.8 394.4 L246.2 394.5 L246.6 394.8 L247.0 393.7 L247.4 394.1 L247.8 393.9 L248.2 393.7 L248.6 393.6 L249.0 393.6 L249.4 393.3 L249.8 393.0 L250.3 393.0 L250.7 392.8 L251.1 392.3 L251.5 391.7 L251.9 392.2 L252.3 391.7 L252.7 392.2 L253.1 391.2 L253.5 390.8 L253.9 391.4 L254.3 390.6 L254.7 390.1 L255.1 390.9 L255.5 389.8 L255.9 390.6 L256.4 389.6 L256.8 389.9 L257.2 389.6 L257.6 388.7 L258.0 389.2 L258.4 388.8 L258.8 388.8 L259.2 388.8 L259.6 389.0 L260.0 388.2 L260.4 388.0 L260.8 388.6 L261.2 387.9 L261.6 387.8 L262.0 386.8 L262.5 386.6 L262.9 386.8 L263.3 386.7 L263.7 386.8 L264.1 387.4 L264.5 385.8 L264.9 385.9 L265.3 386.1 L265.7 385.8 L266.1 385.9 L266.5 385.2 L266.9 384.8 L267.3 385.6 L267.8 384.9 L268.2 384.1 L268.6 384.2 L269.0 384.2 L269.4 383.5 L269.8 384.1 L270.2 383.7 L270.6 383.3 L271.0 383.0 L271.4 383.6 L271.8 382.9 L272.2 382.4 L272.6 381.8 L273.0 382.0 L273.5 382.4 L273.9 382.5 L274.3 381.4 L274.7 380.9 L275.1 381.4 L275.5 381.2 L275.9 381.3 L276.3 380.6 L276.7 380.7 L277.1 379.8 L277.5 379.9 L277.9 379.9 L278.3 379.8 L278.8 379.9 L279.2 380.0 L279.6 378.9 L280.0 379.8 L280.4 378.8 L280.8 378.7 L281.2 379.0 L281.6 377.6 L282.0 377.8 L282.4 377.8 L282.8 377.9 L283.2 378.1 L283.6 377.9 L284.1 377.0 L284.5 377.4 L284.9 376.9 L285.3 377.3 L285.7 376.5 L286.1 376.8 L286.5 375.9 L286.9 376.4 L287.3 375.4 L287.7 375.8 L288.1 375.0 L288.5 375.3 L288.9 374.9 L289.4 374.6 L289.8 374.9 L290.2 374.9 L290.6 374.5 L291.0 374.4 L291.4 374.3 L291.8 374.3 L292.2 374.1 L292.6 373.7 L293.0 374.0 L293.4 373.0 L293.8 373.3 L294.3 372.4 L294.7 373.4 L295.1 372.3 L295.5 372.3 L295.9 372.5 L296.3 371.8 L296.7 371.4" fill="none" stroke="#ff0000" stroke-width="4.4" stroke-linejoin="round"/>
<path d="M61.0 476.3 L61.1 477.3 L61.1 478.6 L61.2 478.4 L61.2 479.4 L61.3 479.5 L61.4 479.5 L61.4 479.6 L61.5 480.5 L61.6 481.2 L61.6 481.4 L61.7 482.0 L61.7 482.6 L61.8 482.7 L61.9 482.7 L61.9 483.6 L62.0 484.3 L62.1 484.3 L62.1 484.7 L62.2 485.1 L62.3 485.8 L62.3 486.3 L62.4 486.8 L62.5 486.8 L62.6 487.7 L62.7 487.9 L62.7 488.2 L62.8 488.4 L63.0 489.1 L63.1 489.7 L63.2 490.4 L63.3 490.9 L63.5 491.2 L63.6 491.7 L63.8 491.7 L63.9 492.8 L64.1 493.2 L64.3 493.6 L64.5 493.6 L64.7 494.1 L64.9 494.4 L65.1 494.5 L65.4 495.2 L65.6 495.2 L65.9 495.5 L66.1 496.7 L66.4 497.0 L66.7 497.5 L67.0 497.4 L67.3 497.9" fill="none" stroke="#0000ff" stroke-width="3.3" stroke-linejoin="round"/>
<path d="M67.3 497.9 L67.6 498.4 L67.9 498.4 L68.2 498.1 L68.6 499.9 L68.9 499.8 L69.3 500.1 L69.7 500.0 L70.0 499.9 L70.4 500.5 L70.8 500.8 L71.2 500.4 L71.6 501.0 L72.0 501.5 L72.4 502.1 L72.8 502.0 L73.3 501.8 L73.7 501.7 L74.1 503.0 L74.5 502.5 L75.0 502.9 L75.4 502.7 L75.9 502.4 L76.3 503.7 L76.7 503.3 L77.2 503.6 L77.6 503.0 L78.1 503.4 L78.5 504.0 L79.0 503.4 L79.4 503.4 L79.9 503.3 L80.3 503.2 L80.8 504.0 L81.2 503.8 L81.7 503.2 L82.1 504.4 L82.6 504.3 L83.0 504.2 L83.5 503.2 L83.9 503.8 L84.4 504.2 L84.8 503.4 L85.3 503.4 L85.7 503.6 L86.2 502.9 L86.6 503.6 L87.0 503.8 L87.5 503.6 L87.9 503.9 L88.4 503.3 L88.8 503.2 L89.3 503.0 L89.7 502.7 L90.1 502.5 L90.6 502.5 L91.0 502.6 L91.5 502.4 L91.9 502.5 L92.3 502.4 L92.8 502.5 L93.2 501.9 L93.7 501.3 L94.1 501.5 L94.5 502.4 L95.0 501.9 L95.4 501.4 L95.9 501.3 L96.3 501.2 L96.7 501.0 L97.2 501.1 L97.6 501.2 L98.0 501.2 L98.5 500.6 L98.9 500.5 L99.4 500.3 L99.8 500.3 L100.2 500.6 L100.7 499.8 L101.1 500.8 L101.5 500.1 L102.0 500.2 L102.4 499.3 L102.8 499.4 L103.3 499.2 L103.7 499.3 L104.2 498.5 L104.6 499.3 L105.0 498.4 L105.5 499.0 L105.9 499.1 L106.3 498.6 L106.8 498.5 L107.2 498.3 L107.6 498.2 L108.1 498.3 L108.5 498.4 L108.9 498.2 L109.4 498.4 L109.8 497.8 L110.2 497.4 L110.7 497.3 L111.1 496.9 L111.6 497.1 L112.0 496.9 L112.4 497.6 L112.9 497.1 L113.3 497.4 L113.7 496.0 L114.2 496.6 L114.6 496.8 L115.0 496.4 L115.5 496.0 L115.9 496.1 L116.3 496.0 L116.8 495.8 L117.2 495.8 L117.6 495.9 L118.1 495.5 L118.5 495.4 L118.9 495.2 L119.4 495.2 L119.8 494.7 L120.2 495.0 L120.7 494.6 L121.1 494.8 L121.5 494.2 L122.0 494.3 L122.4 494.1 L122.8 493.7 L123.3 494.3 L123.7 493.9 L124.1 493.7 L124.6 494.0 L125.0 493.3 L125.4 493.3 L125.9 493.6 L126.3 493.9 L126.7 493.0 L127.2 493.4 L127.6 492.8 L128.0 492.3 L128.5 492.7 L128.9 492.8 L129.3 492.3 L129.8 492.3 L130.2 491.6 L130.7 491.1 L131.1 491.9 L131.5 491.2 L132.0 491.5 L132.4 491.2 L132.8 491.4 L133.3 491.5 L133.7 490.5 L134.1 490.9 L134.6 490.8 L135.0 491.2 L135.5 490.7 L135.9 490.3 L136.3 490.2 L136.8 491.0 L137.2 489.9 L137.6 490.1 L138.1 490.1 L138.5 489.5 L139.0 489.5 L139.4 489.0 L139.8 489.3 L140.3 489.7 L140.7 489.5 L141.2 488.6 L141.6 489.7 L142.0 488.6 L142.5 488.6 L142.9 489.4 L143.4 488.9 L143.8 488.6 L144.2 489.1 L144.7 488.4 L145.1 488.4 L145.6 488.0 L146.0 488.1 L146.4 488.0 L146.9 488.3 L147.3 487.5 L147.8 487.6 L148.2 486.8 L148.6 486.8 L149.1 487.5 L149.5 487.0 L149.9 486.9 L150.4 487.1 L150.8 486.6 L151.2 486.7 L151.7 486.4 L152.1 485.6 L152.5 486.4 L152.9 486.5 L153.4 486.3 L153.8 485.7 L154.2 485.6 L154.6 485.5 L155.0 485.7 L155.4 485.4 L155.8 484.7 L156.2 484.5 L156.6 484.3 L157.0 484.0 L157.4 483.7 L157.8 483.7 L158.2 482.6 L158.6 483.4 L159.0 482.9 L159.4 482.4 L159.7 482.5 L160.1 482.0 L160.5 482.5 L160.9 481.5 L161.3 481.6 L161.7 481.5 L162.1 480.8 L162.5 480.5 L162.8 480.8 L163.2 480.3 L163.6 479.9 L164.0 479.5 L164.4 480.0 L164.8 480.1 L165.2 479.2 L165.6 479.4 L166.0 479.4 L166.4 479.1 L166.8 478.4 L167.2 478.6 L167.6 478.4 L168.0 478.9 L168.4 477.9 L168.9 478.0 L169.3 477.7 L169.7 477.5 L170.1 476.7 L170.5 477.0 L170.9 477.2 L171.3 476.4 L171.7 476.4 L172.1 475.9 L172.6 476.0 L173.0 475.9 L173.4 475.8 L173.8 475.3 L174.2 475.1 L174.6 474.9 L175.1 475.0 L175.5 474.8 L175.9 475.3 L176.3 474.1 L176.7 474.4 L177.1 473.8 L177.6 473.7 L178.0 474.0 L178.4 473.6 L178.8 473.5 L179.2 472.7 L179.6 473.8 L180.0 473.5 L180.5 472.4 L180.9 472.0 L181.3 472.0 L181.7 472.2 L182.1 471.6 L182.5 471.8 L183.0 471.3 L183.4 472.3 L183.8 471.1 L184.2 470.8 L184.6 471.5 L185.0 470.7 L185.4 470.4 L185.8 470.2 L186.3 470.3 L186.7 469.7 L187.1 469.7 L187.5 469.3 L187.9 468.9 L188.3 469.0 L188.7 469.0 L189.1 469.3 L189.6 468.7 L190.0 468.3 L190.4 468.3 L190.8 468.2 L191.2 467.1 L191.6 467.5 L192.0 466.7 L192.4 466.7 L192.8 466.8 L193.2 466.9 L193.7 466.7 L194.1 466.6 L194.5 466.8 L194.9 466.3 L195.3 466.1 L195.7 465.6 L196.1 466.2 L196.5 465.8 L196.9 465.0 L197.3 464.8 L197.7 465.0 L198.1 464.9 L198.5 464.3 L199.0 464.6 L199.4 463.6 L199.8 463.8 L200.2 464.0 L200.6 463.2 L201.0 463.3 L201.4 463.0 L201.8 462.7 L202.2 462.0 L202.6 462.3 L203.0 462.3 L203.4 462.1 L203.8 462.1 L204.2 462.0 L204.6 461.3 L205.0 461.2 L205.4 461.6 L205.8 461.2 L206.3 460.7 L206.7 460.4 L207.1 460.6 L207.5 460.4 L207.9 459.8 L208.3 459.8 L208.7 459.5 L209.1 459.3 L209.5 459.7 L209.9 458.4 L210.3 458.9 L210.7 458.1 L211.1 458.0 L211.5 458.3 L211.9 457.4 L212.3 457.3 L212.7 457.1 L213.1 457.0 L213.5 457.2 L213.9 457.2 L214.3 456.4 L214.7 456.8 L215.1 455.8 L215.5 456.8 L215.9 455.7 L216.3 455.5 L216.7 455.5 L217.1 455.2 L217.6 455.0 L218.0 454.2 L218.4 454.9 L218.8 454.6 L219.2 454.1 L219.6 453.6 L220.0 453.9 L220.4 454.0 L220.8 452.8 L221.2 452.8 L221.6 453.0 L222.0 452.5 L222.4 452.4 L222.8 452.3 L223.2 452.4 L223.6 452.2 L224.0 452.1 L224.4 451.8 L224.8 451.1 L225.2 450.3 L225.6 451.0 L226.0 450.9 L226.4 450.7 L226.8 450.1 L227.2 450.8 L227.6 449.3 L228.0 450.0 L228.4 449.7 L228.8 449.6 L229.2 449.6 L229.6 449.1 L230.0 448.8 L230.4 448.4 L230.8 448.5 L231.2 448.2 L231.6 448.2 L232.0 447.3 L232.4 447.0 L232.8 447.3 L233.2 447.2 L233.7 446.3 L234.1 446.3 L234.5 446.3 L234.9 446.4 L235.3 446.2 L235.7 446.2 L236.1 445.6 L236.5 445.6 L236.9 445.7 L237.3 445.0 L237.7 445.6 L238.1 444.5 L238.5 444.5 L238.9 443.6 L239.3 444.0 L239.7 443.7 L240.1 443.4 L240.5 443.6 L240.9 442.9 L241.3 443.1 L241.7 442.2 L242.1 442.5 L242.5 442.9 L242.9 442.3 L243.3 442.3 L243.8 441.6 L244.2 441.2 L244.6 441.9 L245.0 441.6 L245.4 441.4 L245.8 440.9 L246.2 441.1 L246.6 440.3 L247.0 440.5 L247.4 440.3 L247.8 439.6 L248.2 440.2 L248.6 439.5 L249.0 439.6 L249.4 438.6 L249.8 438.5 L250.2 438.6 L250.6 438.7 L251.1 438.7 L251.5 438.2 L251.9 437.9 L252.3 437.9 L252.7 437.5 L253.1 437.4 L253.5 437.3 L253.9 436.7 L254.3 436.9 L254.7 436.1 L255.1 436.1 L255.5 436.4 L255.9 435.8 L256.3 435.9 L256.7 435.7 L257.2 435.3 L257.6 435.7 L258.0 435.2 L258.4 434.6 L258.8 434.4 L259.2 434.5 L259.6 433.7 L260.0 434.4 L260.4 433.8 L260.8 433.1 L261.2 433.1 L261.6 433.7 L262.0 433.1 L262.4 433.6 L262.9 432.7 L263.3 432.6 L263.7 433.0 L264.1 432.8 L264.5 431.6 L264.9 432.0 L265.3 431.2 L265.7 431.2 L266.1 430.5 L266.5 431.2 L266.9 430.4 L267.3 430.3 L267.8 431.0 L268.2 430.5 L268.6 429.9 L269.0 429.2 L269.4 429.7 L269.8 428.6 L270.2 428.9 L270.6 429.3 L271.0 429.1 L271.4 428.7 L271.8 428.7 L272.3 428.3 L272.7 427.8 L273.1 427.9 L273.5 428.3 L273.9 427.5 L274.3 427.4 L274.7 427.3 L275.1 426.5 L275.5 426.4 L275.9 426.0 L276.3 426.5 L276.7 426.1 L277.2 425.6 L277.6 425.4 L278.0 425.9 L278.4 425.7 L278.8 425.4 L279.2 425.1 L279.6 425.0 L280.0 424.7 L280.4 424.6 L280.8 424.1 L281.3 423.7 L281.7 423.6 L282.1 423.8 L282.5 424.1 L282.9 423.0 L283.3 422.8 L283.7 423.2 L284.1 423.0 L284.5 422.3 L284.9 422.2 L285.3 422.0 L285.8 422.1 L286.2 422.9 L286.6 421.4 L287.0 421.5 L287.4 421.1 L287.8 421.1 L288.2 421.0 L288.6 420.8 L289.0 420.1 L289.4 420.0 L289.9 420.4 L290.3 420.0 L290.7 419.8 L291.1 419.7 L291.5 419.1 L291.9 419.6 L292.3 418.7 L292.7 418.4 L293.1 418.3 L293.5 418.4 L294.0 419.1 L294.4 418.0 L294.8 417.9 L295.2 418.2 L295.6 417.3 L296.0 416.8" fill="none" stroke="#0000ff" stroke-width="4.4" stroke-linejoin="round"/>
<path d="M55.0 380.1l3.2 3.2M55.0 383.3l3.2 -3.2" stroke="#ff0000" stroke-width="1.1"/>
<path d="M55.3 388.7l3.2 3.2M55.3 391.9l3.2 -3.2" stroke="#ff0000" stroke-width="1.1"/>
<path d="M55.7 397.2l3.2 3.2M55.7 400.4l3.2 -3.2" stroke="#ff0000" stroke-width="1.1"/>
<path d="M56.2 404.8l3.2 3.2M56.2 408.0l3.2 -3.2" stroke="#ff0000" stroke-width="1.1"/>
<path d="M56.7 410.9l3.2 3.2M56.7 414.1l3.2 -3.2" stroke="#ff0000" stroke-width="1.1"/>
<path d="M57.3 416.0l3.2 3.2M57.3 419.2l3.2 -3.2" stroke="#ff0000" stroke-width="1.1"/>
<path d="M58.0 420.8l3.2 3.2M58.0 424.0l3.2 -3.2" stroke="#ff0000" stroke-width="1.1"/>
<path d="M58.8 425.2l3.2 3.2M58.8 428.4l3.2 -3.2" stroke="#ff0000" stroke-width="1.1"/>
<path d="M59.4 428.4l3.2 3.2M59.4 431.6l3.2 -3.2" stroke="#ff0000" stroke-width="1.1"/>
<circle cx="56.7" cy="406.4" r="1.6" fill="#0000ff"/>
<circle cx="57.1" cy="420.8" r="1.6" fill="#0000ff"/>
<circle cx="57.6" cy="434.5" r="1.6" fill="#0000ff"/>
<circle cx="58.2" cy="445.8" r="1.6" fill="#0000ff"/>
<circle cx="59.0" cy="458.4" r="1.6" fill="#0000ff"/>
<circle cx="59.7" cy="466.3" r="1.6" fill="#0000ff"/>
<circle cx="60.4" cy="473.2" r="1.6" fill="#0000ff"/>
<rect x="45.3" y="364.2" width="261.9" height="147.4" fill="none" stroke="#000" stroke-width="1.3"/>
<path d="M55.3 511.6v-3.8M55.3 364.2v3.8" stroke="#000" stroke-width="1.0"/>
<path d="M95.5 511.6v-3.8M95.5 364.2v3.8" stroke="#000" stroke-width="1.0"/>
<path d="M135.8 511.6v-3.8M135.8 364.2v3.8" stroke="#000" stroke-width="1.0"/>
<path d="M176.1 511.6v-3.8M176.1 364.2v3.8" stroke="#000" stroke-width="1.0"/>
<path d="M216.3 511.6v-3.8M216.3 364.2v3.8" stroke="#000" stroke-width="1.0"/>
<path d="M256.6 511.6v-3.8M256.6 364.2v3.8" stroke="#000" stroke-width="1.0"/>
<path d="M296.8 511.6v-3.8M296.8 364.2v3.8" stroke="#000" stroke-width="1.0"/>
<path d="M45.3 476.3h3.8M307.2 476.3h-3.8" stroke="#000" stroke-width="1.0"/>
<path d="M45.3 427.5h3.8M307.2 427.5h-3.8" stroke="#000" stroke-width="1.0"/>
<path d="M45.3 378.8h3.8M307.2 378.8h-3.8" stroke="#000" stroke-width="1.0"/>
<text x="55.3" y="523.6" font-size="12.3" text-anchor="middle" fill="#000" stroke="#000" stroke-width="0.15" font-family="Liberation Sans" textLength="6.5" lengthAdjust="spacingAndGlyphs">0</text>
<text x="95.5" y="523.6" font-size="12.3" text-anchor="middle" fill="#000" stroke="#000" stroke-width="0.15" font-family="Liberation Sans" textLength="14.2" lengthAdjust="spacingAndGlyphs">50</text>
<text x="135.8" y="523.6" font-size="12.3" text-anchor="middle" fill="#000" stroke="#000" stroke-width="0.15" font-family="Liberation Sans" textLength="21.5" lengthAdjust="spacingAndGlyphs">100</text>
<text x="176.1" y="523.6" font-size="12.3" text-anchor="middle" fill="#000" stroke="#000" stroke-width="0.15" font-family="Liberation Sans" textLength="21.5" lengthAdjust="spacingAndGlyphs">150</text>
<text x="216.3" y="523.6" font-size="12.3" text-anchor="middle" fill="#000" stroke="#000" stroke-width="0.15" font-family="Liberation Sans" textLength="21.5" lengthAdjust="spacingAndGlyphs">200</text>
<text x="256.6" y="523.6" font-size="12.3" text-anchor="middle" fill="#000" stroke="#000" stroke-width="0.15" font-family="Liberation Sans" textLength="21.5" lengthAdjust="spacingAndGlyphs">250</text>
<text x="296.8" y="523.6" font-size="12.3" text-anchor="middle" fill="#000" stroke="#000" stroke-width="0.15" font-family="Liberation Sans" textLength="21.5" lengthAdjust="spacingAndGlyphs">300</text>
<text x="41.9" y="480.3" font-size="12.3" text-anchor="end" fill="#000" stroke="#000" stroke-width="0.15" font-family="Liberation Sans" textLength="17.3" lengthAdjust="spacingAndGlyphs">1.5</text>
<text x="41.9" y="431.5" font-size="12.3" text-anchor="end" fill="#000" stroke="#000" stroke-width="0.15" font-family="Liberation Sans" textLength="17.3" lengthAdjust="spacingAndGlyphs">1.6</text>
<text x="41.9" y="382.8" font-size="12.3" text-anchor="end" fill="#000" stroke="#000" stroke-width="0.15" font-family="Liberation Sans" textLength="17.3" lengthAdjust="spacingAndGlyphs">1.7</text>
<text x="178" y="534.5" font-size="12.3" text-anchor="middle" fill="#000" stroke="#000" stroke-width="0.15" font-family="Liberation Sans" textLength="24" lengthAdjust="spacingAndGlyphs">T(K)</text>
<text transform="translate(17.9,437.8) rotate(-90)" font-size="12" text-anchor="middle" stroke="#000" stroke-width="0.15" font-family="Liberation Sans" textLength="97.2" lengthAdjust="spacingAndGlyphs"><tspan font-style="italic">χ</tspan>(10<tspan dy="-4.5" font-size="9">−4</tspan><tspan dy="4.5">emu/mol)</tspan></text>
<text x="50.8" y="377.2" font-size="13.5" text-anchor="start" fill="#000" stroke="#000" stroke-width="0.15" font-family="Liberation Serif">d)</text>
<rect x="226.7" y="467.7" width="75" height="37.3" rx="2" fill="#fff" fill-opacity="0.85" stroke="#d8d8d8" stroke-width="0.8"/>
<path d="M240.89999999999998 474.9l3.6 3.6M240.89999999999998 478.5l3.6 -3.6" stroke="#ff0000" stroke-width="1.1"/>
<circle cx="242.7" cy="494.3" r="1.7" fill="#0000ff"/>
<text x="265" y="480.8" font-size="12.3" text-anchor="start" fill="#000" stroke="#000" stroke-width="0.15" font-family="Liberation Sans" textLength="31.5" lengthAdjust="spacingAndGlyphs">[001]</text>
<text x="265" y="498.4" font-size="12.3" text-anchor="start" fill="#000" stroke="#000" stroke-width="0.15" font-family="Liberation Sans" textLength="31.5" lengthAdjust="spacingAndGlyphs">[100]</text>
<path d="M369.4 502.8l3.6 3.6M369.4 506.4l3.6 -3.6" stroke="#ff0000" stroke-width="1.05"/>
<path d="M372.4 501.0l3.6 3.6M372.4 504.6l3.6 -3.6" stroke="#ff0000" stroke-width="1.05"/>
<path d="M375.4 499.2l3.6 3.6M375.4 502.8l3.6 -3.6" stroke="#ff0000" stroke-width="1.05"/>
<path d="M378.4 497.4l3.6 3.6M378.4 501.0l3.6 -3.6" stroke="#ff0000" stroke-width="1.05"/>
<path d="M381.4 495.6l3.6 3.6M381.4 499.2l3.6 -3.6" stroke="#ff0000" stroke-width="1.05"/>
<path d="M384.4 493.8l3.6 3.6M384.4 497.4l3.6 -3.6" stroke="#ff0000" stroke-width="1.05"/>
<path d="M387.4 492.0l3.6 3.6M387.4 495.6l3.6 -3.6" stroke="#ff0000" stroke-width="1.05"/>
<path d="M390.4 490.2l3.6 3.6M390.4 493.8l3.6 -3.6" stroke="#ff0000" stroke-width="1.05"/>
<path d="M393.4 488.4l3.6 3.6M393.4 492.0l3.6 -3.6" stroke="#ff0000" stroke-width="1.05"/>
<path d="M396.4 486.6l3.6 3.6M396.4 490.2l3.6 -3.6" stroke="#ff0000" stroke-width="1.05"/>
<path d="M399.4 484.8l3.6 3.6M399.4 488.4l3.6 -3.6" stroke="#ff0000" stroke-width="1.05"/>
<path d="M402.4 483.0l3.6 3.6M402.4 486.6l3.6 -3.6" stroke="#ff0000" stroke-width="1.05"/>
<path d="M405.4 481.2l3.6 3.6M405.4 484.8l3.6 -3.6" stroke="#ff0000" stroke-width="1.05"/>
<path d="M408.4 479.4l3.6 3.6M408.4 483.0l3.6 -3.6" stroke="#ff0000" stroke-width="1.05"/>
<path d="M411.4 477.6l3.6 3.6M411.4 481.2l3.6 -3.6" stroke="#ff0000" stroke-width="1.05"/>
<path d="M414.4 475.8l3.6 3.6M414.4 479.4l3.6 -3.6" stroke="#ff0000" stroke-width="1.05"/>
<path d="M417.4 474.1l3.6 3.6M417.4 477.7l3.6 -3.6" stroke="#ff0000" stroke-width="1.05"/>
<path d="M420.4 472.3l3.6 3.6M420.4 475.9l3.6 -3.6" stroke="#ff0000" stroke-width="1.05"/>
<path d="M423.4 470.5l3.6 3.6M423.4 474.1l3.6 -3.6" stroke="#ff0000" stroke-width="1.05"/>
<path d="M426.4 468.7l3.6 3.6M426.4 472.3l3.6 -3.6" stroke="#ff0000" stroke-width="1.05"/>
<path d="M429.4 466.9l3.6 3.6M429.4 470.5l3.6 -3.6" stroke="#ff0000" stroke-width="1.05"/>
<path d="M432.4 465.1l3.6 3.6M432.4 468.7l3.6 -3.6" stroke="#ff0000" stroke-width="1.05"/>
<path d="M435.4 463.3l3.6 3.6M435.4 466.9l3.6 -3.6" stroke="#ff0000" stroke-width="1.05"/>
<path d="M438.4 461.5l3.6 3.6M438.4 465.1l3.6 -3.6" stroke="#ff0000" stroke-width="1.05"/>
<path d="M441.4 459.7l3.6 3.6M441.4 463.3l3.6 -3.6" stroke="#ff0000" stroke-width="1.05"/>
<path d="M444.4 457.9l3.6 3.6M444.4 461.5l3.6 -3.6" stroke="#ff0000" stroke-width="1.05"/>
<path d="M447.4 456.1l3.6 3.6M447.4 459.7l3.6 -3.6" stroke="#ff0000" stroke-width="1.05"/>
<path d="M450.4 454.3l3.6 3.6M450.4 457.9l3.6 -3.6" stroke="#ff0000" stroke-width="1.05"/>
<path d="M453.4 452.5l3.6 3.6M453.4 456.1l3.6 -3.6" stroke="#ff0000" stroke-width="1.05"/>
<path d="M456.4 450.7l3.6 3.6M456.4 454.3l3.6 -3.6" stroke="#ff0000" stroke-width="1.05"/>
<path d="M459.4 448.9l3.6 3.6M459.4 452.5l3.6 -3.6" stroke="#ff0000" stroke-width="1.05"/>
<path d="M462.4 447.1l3.6 3.6M462.4 450.7l3.6 -3.6" stroke="#ff0000" stroke-width="1.05"/>
<path d="M464.2 446.1l3.6 3.6M464.2 449.7l3.6 -3.6" stroke="#ff0000" stroke-width="1.05"/>
<path d="M465.4 445.4l3.6 3.6M465.4 449.0l3.6 -3.6" stroke="#ff0000" stroke-width="1.05"/>
<path d="M466.6 444.6l3.6 3.6M466.6 448.2l3.6 -3.6" stroke="#ff0000" stroke-width="1.05"/>
<path d="M467.8 443.9l3.6 3.6M467.8 447.5l3.6 -3.6" stroke="#ff0000" stroke-width="1.05"/>
<path d="M469.0 443.2l3.6 3.6M469.0 446.8l3.6 -3.6" stroke="#ff0000" stroke-width="1.05"/>
<path d="M470.2 442.5l3.6 3.6M470.2 446.1l3.6 -3.6" stroke="#ff0000" stroke-width="1.05"/>
<path d="M471.4 441.8l3.6 3.6M471.4 445.4l3.6 -3.6" stroke="#ff0000" stroke-width="1.05"/>
<path d="M472.6 441.0l3.6 3.6M472.6 444.6l3.6 -3.6" stroke="#ff0000" stroke-width="1.05"/>
<path d="M473.8 440.3l3.6 3.6M473.8 443.9l3.6 -3.6" stroke="#ff0000" stroke-width="1.05"/>
<path d="M475.0 439.6l3.6 3.6M475.0 443.2l3.6 -3.6" stroke="#ff0000" stroke-width="1.05"/>
<path d="M476.2 438.9l3.6 3.6M476.2 442.5l3.6 -3.6" stroke="#ff0000" stroke-width="1.05"/>
<path d="M477.4 438.2l3.6 3.6M477.4 441.8l3.6 -3.6" stroke="#ff0000" stroke-width="1.05"/>
<path d="M478.6 437.5l3.6 3.6M478.6 441.1l3.6 -3.6" stroke="#ff0000" stroke-width="1.05"/>
<path d="M479.8 436.7l3.6 3.6M479.8 440.3l3.6 -3.6" stroke="#ff0000" stroke-width="1.05"/>
<path d="M481.0 436.0l3.6 3.6M481.0 439.6l3.6 -3.6" stroke="#ff0000" stroke-width="1.05"/>
<path d="M482.2 435.3l3.6 3.6M482.2 438.9l3.6 -3.6" stroke="#ff0000" stroke-width="1.05"/>
<path d="M483.4 434.6l3.6 3.6M483.4 438.2l3.6 -3.6" stroke="#ff0000" stroke-width="1.05"/>
<path d="M484.6 433.9l3.6 3.6M484.6 437.5l3.6 -3.6" stroke="#ff0000" stroke-width="1.05"/>
<path d="M485.8 433.2l3.6 3.6M485.8 436.8l3.6 -3.6" stroke="#ff0000" stroke-width="1.05"/>
<path d="M487.0 432.4l3.6 3.6M487.0 436.0l3.6 -3.6" stroke="#ff0000" stroke-width="1.05"/>
<path d="M488.2 431.7l3.6 3.6M488.2 435.3l3.6 -3.6" stroke="#ff0000" stroke-width="1.05"/>
<path d="M489.4 431.0l3.6 3.6M489.4 434.6l3.6 -3.6" stroke="#ff0000" stroke-width="1.05"/>
<path d="M490.6 430.3l3.6 3.6M490.6 433.9l3.6 -3.6" stroke="#ff0000" stroke-width="1.05"/>
<path d="M491.8 429.6l3.6 3.6M491.8 433.2l3.6 -3.6" stroke="#ff0000" stroke-width="1.05"/>
<path d="M493.0 428.8l3.6 3.6M493.0 432.4l3.6 -3.6" stroke="#ff0000" stroke-width="1.05"/>
<path d="M494.2 428.1l3.6 3.6M494.2 431.7l3.6 -3.6" stroke="#ff0000" stroke-width="1.05"/>
<path d="M495.4 427.4l3.6 3.6M495.4 431.0l3.6 -3.6" stroke="#ff0000" stroke-width="1.05"/>
<path d="M496.6 426.7l3.6 3.6M496.6 430.3l3.6 -3.6" stroke="#ff0000" stroke-width="1.05"/>
<path d="M497.8 426.0l3.6 3.6M497.8 429.6l3.6 -3.6" stroke="#ff0000" stroke-width="1.05"/>
<path d="M499.0 425.3l3.6 3.6M499.0 428.9l3.6 -3.6" stroke="#ff0000" stroke-width="1.05"/>
<path d="M500.2 424.5l3.6 3.6M500.2 428.1l3.6 -3.6" stroke="#ff0000" stroke-width="1.05"/>
<path d="M503.2 422.7l3.6 3.6M503.2 426.3l3.6 -3.6" stroke="#ff0000" stroke-width="1.05"/>
<path d="M506.2 421.0l3.6 3.6M506.2 424.6l3.6 -3.6" stroke="#ff0000" stroke-width="1.05"/>
<path d="M509.2 419.2l3.6 3.6M509.2 422.8l3.6 -3.6" stroke="#ff0000" stroke-width="1.05"/>
<path d="M512.2 417.4l3.6 3.6M512.2 421.0l3.6 -3.6" stroke="#ff0000" stroke-width="1.05"/>
<path d="M515.2 415.6l3.6 3.6M515.2 419.2l3.6 -3.6" stroke="#ff0000" stroke-width="1.05"/>
<path d="M518.2 413.8l3.6 3.6M518.2 417.4l3.6 -3.6" stroke="#ff0000" stroke-width="1.05"/>
<path d="M521.2 412.0l3.6 3.6M521.2 415.6l3.6 -3.6" stroke="#ff0000" stroke-width="1.05"/>
<path d="M524.2 410.2l3.6 3.6M524.2 413.8l3.6 -3.6" stroke="#ff0000" stroke-width="1.05"/>
<path d="M527.2 408.4l3.6 3.6M527.2 412.0l3.6 -3.6" stroke="#ff0000" stroke-width="1.05"/>
<path d="M530.2 406.6l3.6 3.6M530.2 410.2l3.6 -3.6" stroke="#ff0000" stroke-width="1.05"/>
<path d="M533.2 404.8l3.6 3.6M533.2 408.4l3.6 -3.6" stroke="#ff0000" stroke-width="1.05"/>
<path d="M536.2 403.0l3.6 3.6M536.2 406.6l3.6 -3.6" stroke="#ff0000" stroke-width="1.05"/>
<path d="M539.2 401.2l3.6 3.6M539.2 404.8l3.6 -3.6" stroke="#ff0000" stroke-width="1.05"/>
<path d="M542.2 399.4l3.6 3.6M542.2 403.0l3.6 -3.6" stroke="#ff0000" stroke-width="1.05"/>
<path d="M545.2 397.6l3.6 3.6M545.2 401.2l3.6 -3.6" stroke="#ff0000" stroke-width="1.05"/>
<path d="M548.2 395.8l3.6 3.6M548.2 399.4l3.6 -3.6" stroke="#ff0000" stroke-width="1.05"/>
<path d="M551.2 394.0l3.6 3.6M551.2 397.6l3.6 -3.6" stroke="#ff0000" stroke-width="1.05"/>
<path d="M554.2 392.2l3.6 3.6M554.2 395.8l3.6 -3.6" stroke="#ff0000" stroke-width="1.05"/>
<path d="M557.2 390.5l3.6 3.6M557.2 394.1l3.6 -3.6" stroke="#ff0000" stroke-width="1.05"/>
<path d="M560.2 388.7l3.6 3.6M560.2 392.3l3.6 -3.6" stroke="#ff0000" stroke-width="1.05"/>
<path d="M563.2 386.9l3.6 3.6M563.2 390.5l3.6 -3.6" stroke="#ff0000" stroke-width="1.05"/>
<path d="M566.2 385.1l3.6 3.6M566.2 388.7l3.6 -3.6" stroke="#ff0000" stroke-width="1.05"/>
<path d="M569.2 383.3l3.6 3.6M569.2 386.9l3.6 -3.6" stroke="#ff0000" stroke-width="1.05"/>
<path d="M572.2 381.5l3.6 3.6M572.2 385.1l3.6 -3.6" stroke="#ff0000" stroke-width="1.05"/>
<path d="M575.2 379.7l3.6 3.6M575.2 383.3l3.6 -3.6" stroke="#ff0000" stroke-width="1.05"/>
<path d="M578.2 377.9l3.6 3.6M578.2 381.5l3.6 -3.6" stroke="#ff0000" stroke-width="1.05"/>
<path d="M581.2 376.1l3.6 3.6M581.2 379.7l3.6 -3.6" stroke="#ff0000" stroke-width="1.05"/>
<path d="M584.2 374.3l3.6 3.6M584.2 377.9l3.6 -3.6" stroke="#ff0000" stroke-width="1.05"/>
<path d="M587.2 372.5l3.6 3.6M587.2 376.1l3.6 -3.6" stroke="#ff0000" stroke-width="1.05"/>
<path d="M590.2 370.7l3.6 3.6M590.2 374.3l3.6 -3.6" stroke="#ff0000" stroke-width="1.05"/>
<path d="M593.2 368.9l3.6 3.6M593.2 372.5l3.6 -3.6" stroke="#ff0000" stroke-width="1.05"/>
<path d="M596.2 367.1l3.6 3.6M596.2 370.7l3.6 -3.6" stroke="#ff0000" stroke-width="1.05"/>
<path d="M371.2 504.6 L596.4 369.9" fill="none" stroke="#ff3030" stroke-width="0.8" stroke-linejoin="round"/>
<path d="M371.2 504.4 L598.0 369.5" fill="none" stroke="#000" stroke-width="1.3" stroke-linejoin="round"/>
<circle cx="371.2" cy="499.2" r="1.55" fill="#0000ff"/>
<circle cx="374.2" cy="497.5" r="1.55" fill="#0000ff"/>
<circle cx="377.2" cy="495.9" r="1.55" fill="#0000ff"/>
<circle cx="380.2" cy="494.2" r="1.55" fill="#0000ff"/>
<circle cx="383.2" cy="492.6" r="1.55" fill="#0000ff"/>
<circle cx="386.2" cy="490.9" r="1.55" fill="#0000ff"/>
<circle cx="389.2" cy="489.3" r="1.55" fill="#0000ff"/>
<circle cx="392.2" cy="487.7" r="1.55" fill="#0000ff"/>
<circle cx="395.2" cy="486.0" r="1.55" fill="#0000ff"/>
<circle cx="398.2" cy="484.4" r="1.55" fill="#0000ff"/>
<circle cx="401.2" cy="482.7" r="1.55" fill="#0000ff"/>
<circle cx="404.2" cy="481.1" r="1.55" fill="#0000ff"/>
<circle cx="407.2" cy="479.5" r="1.55" fill="#0000ff"/>
<circle cx="410.2" cy="477.8" r="1.55" fill="#0000ff"/>
<circle cx="413.2" cy="476.2" r="1.55" fill="#0000ff"/>
<circle cx="416.2" cy="474.5" r="1.55" fill="#0000ff"/>
<circle cx="419.2" cy="472.9" r="1.55" fill="#0000ff"/>
<circle cx="422.2" cy="471.3" r="1.55" fill="#0000ff"/>
<circle cx="425.2" cy="469.6" r="1.55" fill="#0000ff"/>
<circle cx="428.2" cy="468.0" r="1.55" fill="#0000ff"/>
<circle cx="431.2" cy="466.3" r="1.55" fill="#0000ff"/>
<circle cx="434.2" cy="464.7" r="1.55" fill="#0000ff"/>
<circle cx="437.2" cy="463.1" r="1.55" fill="#0000ff"/>
<circle cx="440.2" cy="461.4" r="1.55" fill="#0000ff"/>
<circle cx="443.2" cy="459.8" r="1.55" fill="#0000ff"/>
<circle cx="446.2" cy="458.1" r="1.55" fill="#0000ff"/>
<circle cx="449.2" cy="456.5" r="1.55" fill="#0000ff"/>
<circle cx="452.2" cy="454.8" r="1.55" fill="#0000ff"/>
<circle cx="455.2" cy="453.2" r="1.55" fill="#0000ff"/>
<circle cx="458.2" cy="451.6" r="1.55" fill="#0000ff"/>
<circle cx="461.2" cy="449.9" r="1.55" fill="#0000ff"/>
<circle cx="464.2" cy="448.3" r="1.55" fill="#0000ff"/>
<circle cx="466.0" cy="447.3" r="1.55" fill="#0000ff"/>
<circle cx="467.2" cy="446.6" r="1.55" fill="#0000ff"/>
<circle cx="468.4" cy="446.0" r="1.55" fill="#0000ff"/>
<circle cx="469.6" cy="445.3" r="1.55" fill="#0000ff"/>
<circle cx="470.8" cy="444.7" r="1.55" fill="#0000ff"/>
<circle cx="472.0" cy="444.0" r="1.55" fill="#0000ff"/>
<circle cx="473.2" cy="443.4" r="1.55" fill="#0000ff"/>
<circle cx="474.4" cy="442.7" r="1.55" fill="#0000ff"/>
<circle cx="475.6" cy="442.0" r="1.55" fill="#0000ff"/>
<circle cx="476.8" cy="441.4" r="1.55" fill="#0000ff"/>
<circle cx="478.0" cy="440.7" r="1.55" fill="#0000ff"/>
<circle cx="479.2" cy="440.1" r="1.55" fill="#0000ff"/>
<circle cx="480.4" cy="439.4" r="1.55" fill="#0000ff"/>
<circle cx="481.6" cy="438.8" r="1.55" fill="#0000ff"/>
<circle cx="482.8" cy="438.1" r="1.55" fill="#0000ff"/>
<circle cx="484.0" cy="437.5" r="1.55" fill="#0000ff"/>
<circle cx="485.2" cy="436.8" r="1.55" fill="#0000ff"/>
<circle cx="486.4" cy="436.1" r="1.55" fill="#0000ff"/>
<circle cx="487.6" cy="435.5" r="1.55" fill="#0000ff"/>
<circle cx="488.8" cy="434.8" r="1.55" fill="#0000ff"/>
<circle cx="490.0" cy="434.2" r="1.55" fill="#0000ff"/>
<circle cx="491.2" cy="433.5" r="1.55" fill="#0000ff"/>
<circle cx="492.4" cy="432.9" r="1.55" fill="#0000ff"/>
<circle cx="493.6" cy="432.2" r="1.55" fill="#0000ff"/>
<circle cx="494.8" cy="431.5" r="1.55" fill="#0000ff"/>
<circle cx="496.0" cy="430.9" r="1.55" fill="#0000ff"/>
<circle cx="497.2" cy="430.2" r="1.55" fill="#0000ff"/>
<circle cx="498.4" cy="429.6" r="1.55" fill="#0000ff"/>
<circle cx="499.6" cy="428.9" r="1.55" fill="#0000ff"/>
<circle cx="500.8" cy="428.3" r="1.55" fill="#0000ff"/>
<circle cx="502.0" cy="427.6" r="1.55" fill="#0000ff"/>
<circle cx="505.0" cy="426.0" r="1.55" fill="#0000ff"/>
<circle cx="508.0" cy="424.3" r="1.55" fill="#0000ff"/>
<circle cx="511.0" cy="422.7" r="1.55" fill="#0000ff"/>
<circle cx="514.0" cy="421.0" r="1.55" fill="#0000ff"/>
<circle cx="517.0" cy="419.4" r="1.55" fill="#0000ff"/>
<circle cx="520.0" cy="417.8" r="1.55" fill="#0000ff"/>
<circle cx="523.0" cy="416.1" r="1.55" fill="#0000ff"/>
<circle cx="526.0" cy="414.5" r="1.55" fill="#0000ff"/>
<circle cx="529.0" cy="412.8" r="1.55" fill="#0000ff"/>
<circle cx="532.0" cy="411.2" r="1.55" fill="#0000ff"/>
<circle cx="535.0" cy="409.6" r="1.55" fill="#0000ff"/>
<circle cx="538.0" cy="407.9" r="1.55" fill="#0000ff"/>
<circle cx="541.0" cy="406.3" r="1.55" fill="#0000ff"/>
<circle cx="544.0" cy="404.6" r="1.55" fill="#0000ff"/>
<circle cx="547.0" cy="403.0" r="1.55" fill="#0000ff"/>
<circle cx="550.0" cy="401.4" r="1.55" fill="#0000ff"/>
<circle cx="553.0" cy="399.7" r="1.55" fill="#0000ff"/>
<circle cx="556.0" cy="398.1" r="1.55" fill="#0000ff"/>
<circle cx="559.0" cy="396.4" r="1.55" fill="#0000ff"/>
<circle cx="562.0" cy="394.8" r="1.55" fill="#0000ff"/>
<circle cx="565.0" cy="393.1" r="1.55" fill="#0000ff"/>
<circle cx="568.0" cy="391.5" r="1.55" fill="#0000ff"/>
<circle cx="571.0" cy="389.9" r="1.55" fill="#0000ff"/>
<circle cx="574.0" cy="388.2" r="1.55" fill="#0000ff"/>
<circle cx="577.0" cy="386.6" r="1.55" fill="#0000ff"/>
<circle cx="580.0" cy="384.9" r="1.55" fill="#0000ff"/>
<circle cx="583.0" cy="383.3" r="1.55" fill="#0000ff"/>
<circle cx="586.0" cy="381.7" r="1.55" fill="#0000ff"/>
<circle cx="589.0" cy="380.0" r="1.55" fill="#0000ff"/>
<circle cx="592.0" cy="378.4" r="1.55" fill="#0000ff"/>
<circle cx="595.0" cy="376.7" r="1.55" fill="#0000ff"/>
<circle cx="598.0" cy="375.1" r="1.55" fill="#0000ff"/>
<path d="M369.6 427.6h3.2M371.2 426.0v3.2" stroke="#800080" stroke-width="1.3"/>
<path d="M372.9 428.7h3.2M374.5 427.1v3.2" stroke="#800080" stroke-width="1.3"/>
<path d="M376.1 429.7h3.2M377.7 428.1v3.2" stroke="#800080" stroke-width="1.3"/>
<path d="M379.3 430.6h3.2M380.9 429.0v3.2" stroke="#800080" stroke-width="1.3"/>
<path d="M382.5 431.5h3.2M384.1 429.9v3.2" stroke="#800080" stroke-width="1.3"/>
<path d="M385.7 432.3h3.2M387.3 430.7v3.2" stroke="#800080" stroke-width="1.3"/>
<path d="M388.9 433.0h3.2M390.5 431.4v3.2" stroke="#800080" stroke-width="1.3"/>
<path d="M392.2 433.8h3.2M393.8 432.2v3.2" stroke="#800080" stroke-width="1.3"/>
<path d="M395.4 434.5h3.2M397.0 432.9v3.2" stroke="#800080" stroke-width="1.3"/>
<path d="M398.6 435.2h3.2M400.2 433.6v3.2" stroke="#800080" stroke-width="1.3"/>
<path d="M401.8 436.0h3.2M403.4 434.4v3.2" stroke="#800080" stroke-width="1.3"/>
<path d="M405.0 436.8h3.2M406.6 435.2v3.2" stroke="#800080" stroke-width="1.3"/>
<path d="M408.2 437.7h3.2M409.8 436.1v3.2" stroke="#800080" stroke-width="1.3"/>
<path d="M411.4 438.7h3.2M413.0 437.1v3.2" stroke="#800080" stroke-width="1.3"/>
<path d="M414.7 439.7h3.2M416.3 438.1v3.2" stroke="#800080" stroke-width="1.3"/>
<path d="M417.9 440.7h3.2M419.5 439.1v3.2" stroke="#800080" stroke-width="1.3"/>
<path d="M421.1 441.7h3.2M422.7 440.1v3.2" stroke="#800080" stroke-width="1.3"/>
<path d="M424.3 442.7h3.2M425.9 441.1v3.2" stroke="#800080" stroke-width="1.3"/>
<path d="M427.5 443.6h3.2M429.1 442.0v3.2" stroke="#800080" stroke-width="1.3"/>
<path d="M430.7 444.3h3.2M432.3 442.7v3.2" stroke="#800080" stroke-width="1.3"/>
<path d="M434.0 444.9h3.2M435.6 443.3v3.2" stroke="#800080" stroke-width="1.3"/>
<path d="M437.2 445.4h3.2M438.8 443.8v3.2" stroke="#800080" stroke-width="1.3"/>
<path d="M440.4 445.8h3.2M442.0 444.2v3.2" stroke="#800080" stroke-width="1.3"/>
<path d="M443.6 446.0h3.2M445.2 444.4v3.2" stroke="#800080" stroke-width="1.3"/>
<path d="M446.8 446.1h3.2M448.4 444.5v3.2" stroke="#800080" stroke-width="1.3"/>
<path d="M450.0 446.1h3.2M451.6 444.5v3.2" stroke="#800080" stroke-width="1.3"/>
<path d="M453.3 445.9h3.2M454.9 444.3v3.2" stroke="#800080" stroke-width="1.3"/>
<path d="M456.5 445.6h3.2M458.1 444.0v3.2" stroke="#800080" stroke-width="1.3"/>
<path d="M459.7 445.1h3.2M461.3 443.5v3.2" stroke="#800080" stroke-width="1.3"/>
<path d="M462.9 444.4h3.2M464.5 442.8v3.2" stroke="#800080" stroke-width="1.3"/>
<path d="M464.5 444.0h3.2M466.1 442.4v3.2" stroke="#800080" stroke-width="1.3"/>
<path d="M465.6 443.7h3.2M467.2 442.1v3.2" stroke="#800080" stroke-width="1.3"/>
<path d="M466.8 443.4h3.2M468.4 441.8v3.2" stroke="#800080" stroke-width="1.3"/>
<path d="M467.9 443.0h3.2M469.5 441.4v3.2" stroke="#800080" stroke-width="1.3"/>
<path d="M469.0 442.7h3.2M470.6 441.1v3.2" stroke="#800080" stroke-width="1.3"/>
<path d="M470.1 442.3h3.2M471.7 440.7v3.2" stroke="#800080" stroke-width="1.3"/>
<path d="M471.3 441.9h3.2M472.9 440.3v3.2" stroke="#800080" stroke-width="1.3"/>
<path d="M472.4 441.5h3.2M474.0 439.9v3.2" stroke="#800080" stroke-width="1.3"/>
<path d="M473.5 441.1h3.2M475.1 439.5v3.2" stroke="#800080" stroke-width="1.3"/>
<path d="M474.6 440.7h3.2M476.2 439.1v3.2" stroke="#800080" stroke-width="1.3"/>
<path d="M475.8 440.3h3.2M477.4 438.7v3.2" stroke="#800080" stroke-width="1.3"/>
<path d="M476.9 439.9h3.2M478.5 438.3v3.2" stroke="#800080" stroke-width="1.3"/>
<path d="M478.0 439.4h3.2M479.6 437.8v3.2" stroke="#800080" stroke-width="1.3"/>
<path d="M479.1 439.0h3.2M480.7 437.4v3.2" stroke="#800080" stroke-width="1.3"/>
<path d="M480.3 438.5h3.2M481.9 436.9v3.2" stroke="#800080" stroke-width="1.3"/>
<path d="M481.4 438.0h3.2M483.0 436.4v3.2" stroke="#800080" stroke-width="1.3"/>
<path d="M482.5 437.6h3.2M484.1 436.0v3.2" stroke="#800080" stroke-width="1.3"/>
<path d="M483.6 437.1h3.2M485.2 435.5v3.2" stroke="#800080" stroke-width="1.3"/>
<path d="M484.8 436.6h3.2M486.4 435.0v3.2" stroke="#800080" stroke-width="1.3"/>
<path d="M485.9 436.1h3.2M487.5 434.5v3.2" stroke="#800080" stroke-width="1.3"/>
<path d="M487.0 435.6h3.2M488.6 434.0v3.2" stroke="#800080" stroke-width="1.3"/>
<path d="M488.1 435.1h3.2M489.7 433.5v3.2" stroke="#800080" stroke-width="1.3"/>
<path d="M489.3 434.7h3.2M490.9 433.1v3.2" stroke="#800080" stroke-width="1.3"/>
<path d="M490.4 434.2h3.2M492.0 432.6v3.2" stroke="#800080" stroke-width="1.3"/>
<path d="M491.5 433.7h3.2M493.1 432.1v3.2" stroke="#800080" stroke-width="1.3"/>
<path d="M492.7 433.3h3.2M494.3 431.7v3.2" stroke="#800080" stroke-width="1.3"/>
<path d="M493.8 432.9h3.2M495.4 431.3v3.2" stroke="#800080" stroke-width="1.3"/>
<path d="M494.9 432.5h3.2M496.5 430.9v3.2" stroke="#800080" stroke-width="1.3"/>
<path d="M496.0 432.2h3.2M497.6 430.6v3.2" stroke="#800080" stroke-width="1.3"/>
<path d="M497.2 431.8h3.2M498.8 430.2v3.2" stroke="#800080" stroke-width="1.3"/>
<path d="M498.3 431.5h3.2M499.9 429.9v3.2" stroke="#800080" stroke-width="1.3"/>
<path d="M499.4 431.3h3.2M501.0 429.7v3.2" stroke="#800080" stroke-width="1.3"/>
<path d="M501.5 430.8h3.2M503.1 429.2v3.2" stroke="#800080" stroke-width="1.3"/>
<path d="M504.7 430.3h3.2M506.3 428.7v3.2" stroke="#800080" stroke-width="1.3"/>
<path d="M507.9 429.9h3.2M509.5 428.3v3.2" stroke="#800080" stroke-width="1.3"/>
<path d="M511.1 429.5h3.2M512.7 427.9v3.2" stroke="#800080" stroke-width="1.3"/>
<path d="M514.4 429.3h3.2M516.0 427.7v3.2" stroke="#800080" stroke-width="1.3"/>
<path d="M517.6 429.3h3.2M519.2 427.7v3.2" stroke="#800080" stroke-width="1.3"/>
<path d="M520.8 429.4h3.2M522.4 427.8v3.2" stroke="#800080" stroke-width="1.3"/>
<path d="M524.0 429.7h3.2M525.6 428.1v3.2" stroke="#800080" stroke-width="1.3"/>
<path d="M527.2 430.0h3.2M528.8 428.4v3.2" stroke="#800080" stroke-width="1.3"/>
<path d="M530.4 430.5h3.2M532.0 428.9v3.2" stroke="#800080" stroke-width="1.3"/>
<path d="M533.7 431.1h3.2M535.3 429.5v3.2" stroke="#800080" stroke-width="1.3"/>
<path d="M536.9 431.8h3.2M538.5 430.2v3.2" stroke="#800080" stroke-width="1.3"/>
<path d="M540.1 432.6h3.2M541.7 431.0v3.2" stroke="#800080" stroke-width="1.3"/>
<path d="M543.3 433.3h3.2M544.9 431.7v3.2" stroke="#800080" stroke-width="1.3"/>
<path d="M546.5 434.2h3.2M548.1 432.6v3.2" stroke="#800080" stroke-width="1.3"/>
<path d="M549.7 435.0h3.2M551.3 433.4v3.2" stroke="#800080" stroke-width="1.3"/>
<path d="M553.0 435.8h3.2M554.6 434.2v3.2" stroke="#800080" stroke-width="1.3"/>
<path d="M556.2 436.7h3.2M557.8 435.1v3.2" stroke="#800080" stroke-width="1.3"/>
<path d="M559.4 437.5h3.2M561.0 435.9v3.2" stroke="#800080" stroke-width="1.3"/>
<path d="M562.6 438.4h3.2M564.2 436.8v3.2" stroke="#800080" stroke-width="1.3"/>
<path d="M565.8 439.2h3.2M567.4 437.6v3.2" stroke="#800080" stroke-width="1.3"/>
<path d="M569.0 440.0h3.2M570.6 438.4v3.2" stroke="#800080" stroke-width="1.3"/>
<path d="M572.2 440.9h3.2M573.8 439.3v3.2" stroke="#800080" stroke-width="1.3"/>
<path d="M575.5 441.7h3.2M577.1 440.1v3.2" stroke="#800080" stroke-width="1.3"/>
<path d="M578.7 442.6h3.2M580.3 441.0v3.2" stroke="#800080" stroke-width="1.3"/>
<path d="M581.9 443.6h3.2M583.5 442.0v3.2" stroke="#800080" stroke-width="1.3"/>
<path d="M585.1 444.5h3.2M586.7 442.9v3.2" stroke="#800080" stroke-width="1.3"/>
<path d="M588.3 445.6h3.2M589.9 444.0v3.2" stroke="#800080" stroke-width="1.3"/>
<path d="M591.5 446.6h3.2M593.1 445.0v3.2" stroke="#800080" stroke-width="1.3"/>
<path d="M594.8 447.8h3.2M596.4 446.2v3.2" stroke="#800080" stroke-width="1.3"/>
<rect x="352.6" y="364.2" width="262.6" height="147" fill="none" stroke="#000" stroke-width="1.3"/>
<path d="M363.2 511.2v-3.8M363.2 364.2v3.8" stroke="#000" stroke-width="1.0"/>
<path d="M403.4 511.2v-3.8M403.4 364.2v3.8" stroke="#000" stroke-width="1.0"/>
<path d="M443.6 511.2v-3.8M443.6 364.2v3.8" stroke="#000" stroke-width="1.0"/>
<path d="M483.8 511.2v-3.8M483.8 364.2v3.8" stroke="#000" stroke-width="1.0"/>
<path d="M524 511.2v-3.8M524 364.2v3.8" stroke="#000" stroke-width="1.0"/>
<path d="M564.2 511.2v-3.8M564.2 364.2v3.8" stroke="#000" stroke-width="1.0"/>
<path d="M604.4 511.2v-3.8M604.4 364.2v3.8" stroke="#000" stroke-width="1.0"/>
<path d="M352.6 505h3.8M615.2 505h-3.8" stroke="#000" stroke-width="1.0"/>
<path d="M352.6 471.3h3.8M615.2 471.3h-3.8" stroke="#000" stroke-width="1.0"/>
<path d="M352.6 437.7h3.8M615.2 437.7h-3.8" stroke="#000" stroke-width="1.0"/>
<path d="M352.6 404.1h3.8M615.2 404.1h-3.8" stroke="#000" stroke-width="1.0"/>
<path d="M352.6 370.4h3.8M615.2 370.4h-3.8" stroke="#000" stroke-width="1.0"/>
<text x="363.5" y="523.3" font-size="12.3" text-anchor="middle" fill="#000" stroke="#000" stroke-width="0.15" font-family="Liberation Sans" textLength="26.6" lengthAdjust="spacingAndGlyphs">−7.5</text>
<text x="403.7" y="523.3" font-size="12.3" text-anchor="middle" fill="#000" stroke="#000" stroke-width="0.15" font-family="Liberation Sans" textLength="26.6" lengthAdjust="spacingAndGlyphs">−5.0</text>
<text x="443.9" y="523.3" font-size="12.3" text-anchor="middle" fill="#000" stroke="#000" stroke-width="0.15" font-family="Liberation Sans" textLength="26.6" lengthAdjust="spacingAndGlyphs">−2.5</text>
<text x="483.2" y="523.3" font-size="12.3" text-anchor="middle" fill="#000" stroke="#000" stroke-width="0.15" font-family="Liberation Sans" textLength="18.2" lengthAdjust="spacingAndGlyphs">0.0</text>
<text x="523.4" y="523.3" font-size="12.3" text-anchor="middle" fill="#000" stroke="#000" stroke-width="0.15" font-family="Liberation Sans" textLength="18.2" lengthAdjust="spacingAndGlyphs">2.5</text>
<text x="563.6" y="523.3" font-size="12.3" text-anchor="middle" fill="#000" stroke="#000" stroke-width="0.15" font-family="Liberation Sans" textLength="18.2" lengthAdjust="spacingAndGlyphs">5.0</text>
<text x="603.8" y="523.3" font-size="12.3" text-anchor="middle" fill="#000" stroke="#000" stroke-width="0.15" font-family="Liberation Sans" textLength="18.2" lengthAdjust="spacingAndGlyphs">7.5</text>
<text x="348.5" y="509" font-size="12.3" text-anchor="end" fill="#000" stroke="#000" stroke-width="0.15" font-family="Liberation Sans" textLength="14.5" lengthAdjust="spacingAndGlyphs">−2</text>
<text x="348.5" y="475.3" font-size="12.3" text-anchor="end" fill="#000" stroke="#000" stroke-width="0.15" font-family="Liberation Sans" textLength="14.5" lengthAdjust="spacingAndGlyphs">−1</text>
<text x="348.5" y="441.7" font-size="12.3" text-anchor="end" fill="#000" stroke="#000" stroke-width="0.15" font-family="Liberation Sans" textLength="6.5" lengthAdjust="spacingAndGlyphs">0</text>
<text x="348.5" y="408.1" font-size="12.3" text-anchor="end" fill="#000" stroke="#000" stroke-width="0.15" font-family="Liberation Sans" textLength="6.5" lengthAdjust="spacingAndGlyphs">1</text>
<text x="348.5" y="374.4" font-size="12.3" text-anchor="end" fill="#000" stroke="#000" stroke-width="0.15" font-family="Liberation Sans" textLength="6.5" lengthAdjust="spacingAndGlyphs">2</text>
<text x="484" y="537.6" font-size="12.3" text-anchor="middle" fill="#000" stroke="#000" stroke-width="0.15" font-family="Liberation Sans" textLength="31.5" lengthAdjust="spacingAndGlyphs"><tspan font-style="italic">μ</tspan>H(T)</text>
<text transform="translate(326,437.9) rotate(-90)" font-size="12" text-anchor="middle" stroke="#000" stroke-width="0.15" font-family="Liberation Sans" textLength="115.8" lengthAdjust="spacingAndGlyphs"><tspan font-style="italic">M</tspan>(10<tspan dy="-4.5" font-size="9">−3</tspan><tspan dy="4.5" font-style="italic">μ</tspan><tspan dy="2" font-size="8" font-style="italic">B</tspan><tspan dy="-2">/Ru-atom)</tspan></text>
<text x="358.2" y="378.3" font-size="13.5" text-anchor="start" fill="#000" stroke="#000" stroke-width="0.15" font-family="Liberation Serif">e)</text>
<rect x="428.9" y="472" width="182" height="34.5" rx="2" fill="#fff" fill-opacity="0.85" stroke="#d8d8d8" stroke-width="0.8"/>
<path d="M437.4 479.8l3.6 3.6M437.4 483.40000000000003l3.6 -3.6" stroke="#ff0000" stroke-width="1.1"/>
<circle cx="439.2" cy="498.5" r="1.7" fill="#0000ff"/>
<path d="M494 481.3h16" stroke="#000" stroke-width="1.2" stroke-dasharray="2.6 1.4"/>
<circle cx="502.4" cy="498.5" r="1.6" fill="#800080"/>
<text x="455.8" y="484.6" font-size="12.3" text-anchor="start" fill="#000" stroke="#000" stroke-width="0.15" font-family="Liberation Sans" textLength="29.7" lengthAdjust="spacingAndGlyphs">[001]</text>
<text x="455.8" y="501.6" font-size="12.3" text-anchor="start" fill="#000" stroke="#000" stroke-width="0.15" font-family="Liberation Sans" textLength="29.7" lengthAdjust="spacingAndGlyphs">[100]</text>
<text x="519" y="484.6" font-size="12.3" text-anchor="start" fill="#000" stroke="#000" stroke-width="0.15" font-family="Liberation Sans" textLength="45.3" lengthAdjust="spacingAndGlyphs">linear fit</text>
<text x="515.8" y="501.6" font-size="12.3" text-anchor="start" fill="#000" stroke="#000" stroke-width="0.15" font-family="Liberation Sans" textLength="91" lengthAdjust="spacingAndGlyphs">([100]-lin.fit)*10</text>
<defs><radialGradient id="rg" gradientUnits="userSpaceOnUse" cx="484" cy="257" r="140" fx="484" fy="257"><stop offset="0" stop-color="#e01c00"/><stop offset="0.15" stop-color="#cc0e00"/><stop offset="0.4" stop-color="#9c0000"/><stop offset="0.65" stop-color="#800000"/><stop offset="1" stop-color="#700000"/></radialGradient><filter id="nz" x="0" y="0" width="100%" height="100%"><feTurbulence type="fractalNoise" baseFrequency="0.5" numOctaves="1" seed="7"/><feColorMatrix values="0 0 0 0 0  0 0 0 0 0  0 0 0 0 0  2.4 0 0 0 -1.0"/></filter><filter id="nz2" x="0" y="0" width="100%" height="100%"><feTurbulence type="fractalNoise" baseFrequency="0.45" numOctaves="1" seed="19"/><feColorMatrix values="0 0 0 0 0.95  0 0 0 0 0  0 0 0 0 0  2.4 0 0 0 -1.1"/></filter><radialGradient id="sp"><stop offset="0" stop-color="#ffffc0"/><stop offset="0.45" stop-color="#ffd030"/><stop offset="1" stop-color="#ff3000" stop-opacity="0"/></radialGradient><radialGradient id="cd"><stop offset="0" stop-color="#780400"/><stop offset="0.55" stop-color="#8a0600"/><stop offset="1" stop-color="#b01000" stop-opacity="0"/></radialGradient></defs>
<rect x="352.4" y="182.6" width="263" height="147.6" fill="url(#rg)"/>
<rect x="352.4" y="182.6" width="263" height="147.6" filter="url(#nz)" opacity="0.55"/>
<rect x="352.4" y="182.6" width="263" height="147.6" filter="url(#nz2)" opacity="0.85"/>
<ellipse cx="483.8" cy="257.5" rx="9.5" ry="8" fill="url(#cd)"/>
<ellipse cx="441.5" cy="194.2" rx="1.4" ry="1.1" fill="#ff7010" opacity="0.7"/>
<ellipse cx="406.5" cy="215" rx="1.4" ry="1.1" fill="#ff7010" opacity="0.7"/>
<ellipse cx="361" cy="228.6" rx="1.4" ry="1.1" fill="#ff7010" opacity="0.7"/>
<ellipse cx="427.7" cy="227" rx="1.4" ry="1.1" fill="#ff7010" opacity="0.7"/>
<ellipse cx="366" cy="245.2" rx="1.4" ry="1.1" fill="#ff7010" opacity="0.7"/>
<ellipse cx="464.2" cy="251.1" rx="1.4" ry="1.1" fill="#ff7010" opacity="0.7"/>
<ellipse cx="568.4" cy="214.4" rx="1.4" ry="1.1" fill="#ff7010" opacity="0.7"/>
<ellipse cx="504.4" cy="251.5" rx="1.4" ry="1.1" fill="#ff7010" opacity="0.7"/>
<ellipse cx="611.4" cy="184.4" rx="1.4" ry="1.1" fill="#ff7010" opacity="0.7"/>
<ellipse cx="373.4" cy="268.1" rx="1.4" ry="1.1" fill="#ff7010" opacity="0.7"/>
<ellipse cx="463.8" cy="281.9" rx="1.4" ry="1.1" fill="#ff7010" opacity="0.7"/>
<ellipse cx="426.6" cy="290.4" rx="1.4" ry="1.1" fill="#ff7010" opacity="0.7"/>
<ellipse cx="391.6" cy="292.9" rx="1.4" ry="1.1" fill="#ff7010" opacity="0.7"/>
<ellipse cx="357.7" cy="290" rx="1.4" ry="1.1" fill="#ff7010" opacity="0.7"/>
<ellipse cx="510.6" cy="287.9" rx="1.4" ry="1.1" fill="#ff7010" opacity="0.7"/>
<ellipse cx="545.5" cy="291.6" rx="1.4" ry="1.1" fill="#ff7010" opacity="0.7"/>
<ellipse cx="571" cy="306" rx="1.4" ry="1.1" fill="#ff7010" opacity="0.7"/>
<ellipse cx="564.4" cy="316" rx="1.4" ry="1.1" fill="#ff7010" opacity="0.7"/>
<ellipse cx="531" cy="310.5" rx="1.4" ry="1.1" fill="#ff7010" opacity="0.7"/>
<ellipse cx="464.8" cy="235.3" rx="1.4" ry="1.1" fill="#ff7010" opacity="0.7"/>
<ellipse cx="505.6" cy="235.8" rx="1.4" ry="1.1" fill="#ff7010" opacity="0.7"/>
<ellipse cx="510.7" cy="230.9" rx="1.4" ry="1.1" fill="#ff7010" opacity="0.7"/>
<ellipse cx="477.2" cy="285.6" rx="1.4" ry="1.1" fill="#ff7010" opacity="0.7"/>
<ellipse cx="504.9" cy="251.4" rx="1.4" ry="1.1" fill="#ff7010" opacity="0.7"/>
<ellipse cx="433.2" cy="202.5" rx="1.9" ry="1.4" fill="url(#sp)"/>
<ellipse cx="413.5" cy="206.3" rx="1.9" ry="1.4" fill="url(#sp)"/>
<ellipse cx="459.4" cy="230.8" rx="1.9" ry="1.4" fill="url(#sp)"/>
<ellipse cx="422.2" cy="235.8" rx="1.9" ry="1.4" fill="url(#sp)"/>
<ellipse cx="464.9" cy="235.8" rx="1.9" ry="1.4" fill="url(#sp)"/>
<ellipse cx="456" cy="247.8" rx="1.9" ry="1.4" fill="url(#sp)"/>
<ellipse cx="438.6" cy="258" rx="1.9" ry="1.4" fill="url(#sp)"/>
<ellipse cx="531.1" cy="193.8" rx="1.9" ry="1.4" fill="url(#sp)"/>
<ellipse cx="560.4" cy="204.9" rx="1.9" ry="1.4" fill="url(#sp)"/>
<ellipse cx="550" cy="235.5" rx="1.9" ry="1.4" fill="url(#sp)"/>
<ellipse cx="515.5" cy="247.7" rx="1.9" ry="1.4" fill="url(#sp)"/>
<ellipse cx="525.5" cy="244" rx="1.9" ry="1.4" fill="url(#sp)"/>
<ellipse cx="445.2" cy="273" rx="1.9" ry="1.4" fill="url(#sp)"/>
<ellipse cx="455.5" cy="269.7" rx="1.9" ry="1.4" fill="url(#sp)"/>
<ellipse cx="421.8" cy="281.9" rx="1.9" ry="1.4" fill="url(#sp)"/>
<ellipse cx="459.4" cy="287.2" rx="1.9" ry="1.4" fill="url(#sp)"/>
<ellipse cx="476.9" cy="286.1" rx="1.9" ry="1.4" fill="url(#sp)"/>
<ellipse cx="451.8" cy="295.5" rx="1.9" ry="1.4" fill="url(#sp)"/>
<ellipse cx="403.2" cy="303.8" rx="1.9" ry="1.4" fill="url(#sp)"/>
<ellipse cx="438.6" cy="327.2" rx="1.9" ry="1.4" fill="url(#sp)"/>
<ellipse cx="515.5" cy="269.9" rx="1.9" ry="1.4" fill="url(#sp)"/>
<ellipse cx="513.3" cy="279" rx="1.9" ry="1.4" fill="url(#sp)"/>
<ellipse cx="506.2" cy="282.1" rx="1.9" ry="1.4" fill="url(#sp)"/>
<ellipse cx="551" cy="282.8" rx="1.9" ry="1.4" fill="url(#sp)"/>
<ellipse cx="533.3" cy="328.9" rx="1.9" ry="1.4" fill="url(#sp)"/>
<ellipse cx="484.9" cy="199.5" rx="1.9" ry="1.4" fill="url(#sp)"/>
<ellipse cx="484.9" cy="215.5" rx="1.9" ry="1.4" fill="url(#sp)"/>
<ellipse cx="485.2" cy="245.5" rx="1.9" ry="1.4" fill="url(#sp)"/>
<ellipse cx="484.9" cy="272.3" rx="1.9" ry="1.4" fill="url(#sp)"/>
<ellipse cx="485.2" cy="286.4" rx="1.9" ry="1.4" fill="url(#sp)"/>
<ellipse cx="484.9" cy="303.4" rx="1.9" ry="1.4" fill="url(#sp)"/>
<ellipse cx="484.9" cy="312.3" rx="1.9" ry="1.4" fill="url(#sp)"/>
<ellipse cx="484.9" cy="322" rx="1.9" ry="1.4" fill="url(#sp)"/>
<ellipse cx="463.8" cy="258.7" rx="1.9" ry="1.4" fill="url(#sp)"/>
<ellipse cx="533.3" cy="259" rx="1.9" ry="1.4" fill="url(#sp)"/>
<ellipse cx="547" cy="259" rx="1.9" ry="1.4" fill="url(#sp)"/>
<ellipse cx="455.3" cy="269.2" rx="1.9" ry="1.4" fill="url(#sp)"/>
<ellipse cx="498.3" cy="274.3" rx="1.9" ry="1.4" fill="url(#sp)"/>
<ellipse cx="438.2" cy="206.9" rx="2.6" ry="1.9" fill="url(#sp)"/><ellipse cx="438.2" cy="206.9" rx="1.2" ry="0.8" fill="#ffffc8"/>
<ellipse cx="432.7" cy="220" rx="2.6" ry="1.9" fill="url(#sp)"/><ellipse cx="432.7" cy="220" rx="1.2" ry="0.8" fill="#ffffc8"/>
<ellipse cx="452.8" cy="222.9" rx="2.6" ry="1.9" fill="url(#sp)"/><ellipse cx="452.8" cy="222.9" rx="1.2" ry="0.8" fill="#ffffc8"/>
<ellipse cx="375.8" cy="238.6" rx="2.6" ry="1.9" fill="url(#sp)"/><ellipse cx="375.8" cy="238.6" rx="1.2" ry="0.8" fill="#ffffc8"/>
<ellipse cx="445.6" cy="244.1" rx="2.6" ry="1.9" fill="url(#sp)"/><ellipse cx="445.6" cy="244.1" rx="1.2" ry="0.8" fill="#ffffc8"/>
<ellipse cx="401.4" cy="258" rx="2.6" ry="1.9" fill="url(#sp)"/><ellipse cx="401.4" cy="258" rx="1.2" ry="0.8" fill="#ffffc8"/>
<ellipse cx="425.5" cy="258" rx="2.6" ry="1.9" fill="url(#sp)"/><ellipse cx="425.5" cy="258" rx="1.2" ry="0.8" fill="#ffffc8"/>
<ellipse cx="451.8" cy="258" rx="2.6" ry="1.9" fill="url(#sp)"/><ellipse cx="451.8" cy="258" rx="1.2" ry="0.8" fill="#ffffc8"/>
<ellipse cx="534.4" cy="206.2" rx="2.6" ry="1.9" fill="url(#sp)"/><ellipse cx="534.4" cy="206.2" rx="1.2" ry="0.8" fill="#ffffc8"/>
<ellipse cx="518.9" cy="222.2" rx="2.6" ry="1.9" fill="url(#sp)"/><ellipse cx="518.9" cy="222.2" rx="1.2" ry="0.8" fill="#ffffc8"/>
<ellipse cx="540" cy="219.5" rx="2.6" ry="1.9" fill="url(#sp)"/><ellipse cx="540" cy="219.5" rx="1.2" ry="0.8" fill="#ffffc8"/>
<ellipse cx="601.7" cy="238.8" rx="2.6" ry="1.9" fill="url(#sp)"/><ellipse cx="601.7" cy="238.8" rx="1.2" ry="0.8" fill="#ffffc8"/>
<ellipse cx="374.5" cy="279.1" rx="2.6" ry="1.9" fill="url(#sp)"/><ellipse cx="374.5" cy="279.1" rx="1.2" ry="0.8" fill="#ffffc8"/>
<ellipse cx="431" cy="298.3" rx="2.6" ry="1.9" fill="url(#sp)"/><ellipse cx="431" cy="298.3" rx="1.2" ry="0.8" fill="#ffffc8"/>
<ellipse cx="409.5" cy="313.6" rx="2.6" ry="1.9" fill="url(#sp)"/><ellipse cx="409.5" cy="313.6" rx="1.2" ry="0.8" fill="#ffffc8"/>
<ellipse cx="435.8" cy="313.6" rx="2.6" ry="1.9" fill="url(#sp)"/><ellipse cx="435.8" cy="313.6" rx="1.2" ry="0.8" fill="#ffffc8"/>
<ellipse cx="526.6" cy="273.9" rx="2.6" ry="1.9" fill="url(#sp)"/><ellipse cx="526.6" cy="273.9" rx="1.2" ry="0.8" fill="#ffffc8"/>
<ellipse cx="604.3" cy="281" rx="2.6" ry="1.9" fill="url(#sp)"/><ellipse cx="604.3" cy="281" rx="1.2" ry="0.8" fill="#ffffc8"/>
<ellipse cx="520" cy="296.5" rx="2.6" ry="1.9" fill="url(#sp)"/><ellipse cx="520" cy="296.5" rx="1.2" ry="0.8" fill="#ffffc8"/>
<ellipse cx="542.2" cy="300.1" rx="2.6" ry="1.9" fill="url(#sp)"/><ellipse cx="542.2" cy="300.1" rx="1.2" ry="0.8" fill="#ffffc8"/>
<ellipse cx="536.6" cy="315" rx="2.6" ry="1.9" fill="url(#sp)"/><ellipse cx="536.6" cy="315" rx="1.2" ry="0.8" fill="#ffffc8"/>
<ellipse cx="485.2" cy="224.7" rx="2.6" ry="1.9" fill="url(#sp)"/><ellipse cx="485.2" cy="224.7" rx="1.2" ry="0.8" fill="#ffffc8"/>
<ellipse cx="458.2" cy="238.7" rx="2.6" ry="1.9" fill="url(#sp)"/><ellipse cx="458.2" cy="238.7" rx="1.2" ry="0.8" fill="#ffffc8"/>
<ellipse cx="485.2" cy="239.7" rx="2.6" ry="1.9" fill="url(#sp)"/><ellipse cx="485.2" cy="239.7" rx="1.2" ry="0.8" fill="#ffffc8"/>
<ellipse cx="512.5" cy="238.7" rx="2.6" ry="1.9" fill="url(#sp)"/><ellipse cx="512.5" cy="238.7" rx="1.2" ry="0.8" fill="#ffffc8"/>
<ellipse cx="525.8" cy="244.1" rx="2.6" ry="1.9" fill="url(#sp)"/><ellipse cx="525.8" cy="244.1" rx="1.2" ry="0.8" fill="#ffffc8"/>
<ellipse cx="519.5" cy="259.1" rx="2.6" ry="1.9" fill="url(#sp)"/><ellipse cx="519.5" cy="259.1" rx="1.2" ry="0.8" fill="#ffffc8"/>
<ellipse cx="573.7" cy="259" rx="2.6" ry="1.9" fill="url(#sp)"/><ellipse cx="573.7" cy="259" rx="1.2" ry="0.8" fill="#ffffc8"/>
<ellipse cx="445.1" cy="273.2" rx="2.6" ry="1.9" fill="url(#sp)"/><ellipse cx="445.1" cy="273.2" rx="1.2" ry="0.8" fill="#ffffc8"/>
<ellipse cx="458.2" cy="278.6" rx="2.6" ry="1.9" fill="url(#sp)"/><ellipse cx="458.2" cy="278.6" rx="1.2" ry="0.8" fill="#ffffc8"/>
<ellipse cx="485.2" cy="278" rx="2.6" ry="1.9" fill="url(#sp)"/><ellipse cx="485.2" cy="278" rx="1.2" ry="0.8" fill="#ffffc8"/>
<ellipse cx="485.2" cy="293.7" rx="2.6" ry="1.9" fill="url(#sp)"/><ellipse cx="485.2" cy="293.7" rx="1.2" ry="0.8" fill="#ffffc8"/>
<ellipse cx="512.9" cy="279.1" rx="2.6" ry="1.9" fill="url(#sp)"/><ellipse cx="512.9" cy="279.1" rx="1.2" ry="0.8" fill="#ffffc8"/>
<ellipse cx="435.6" cy="313.7" rx="2.6" ry="1.9" fill="url(#sp)"/><ellipse cx="435.6" cy="313.7" rx="1.2" ry="0.8" fill="#ffffc8"/>
<rect x="352.4" y="182.6" width="263" height="147.6" fill="none" stroke="#555" stroke-width="0.8"/>
<text x="358.4" y="197.2" font-size="13.5" text-anchor="start" fill="#fff" stroke="#fff" stroke-width="0.15" font-family="Liberation Serif">c)</text>
</svg></body></html>
